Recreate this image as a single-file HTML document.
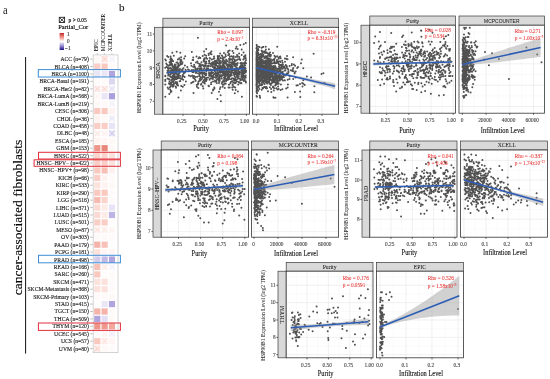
<!DOCTYPE html>
<html><head><meta charset="utf-8"><title>Figure</title>
<style>html,body{margin:0;padding:0;background:#fff;} svg{display:block;}</style>
</head><body>
<svg width="550" height="379" viewBox="0 0 550 379" style="will-change:transform">
<rect width="550" height="379" fill="#fff"/>
<text transform="translate(2.9 13.7) scale(0.88 1)" font-size="12" font-family="Liberation Serif, serif" fill="#1a1a1a">a</text>
<text x="118.90" y="10.90" font-size="11" text-anchor="start" font-family="'Liberation Serif', serif" fill="#1a1a1a" stroke="#1a1a1a" stroke-width="0.14">b</text>
<rect x="59.30" y="17.30" width="5.30" height="5.20" fill="#fff" stroke="#222" stroke-width="0.9"/>
<line x1="59.30" y1="17.30" x2="64.60" y2="22.50" stroke="#222" stroke-width="0.85"/>
<line x1="64.60" y1="17.30" x2="59.30" y2="22.50" stroke="#222" stroke-width="0.85"/>
<text x="68.60" y="22.20" font-size="5.5" text-anchor="start" font-family="'Liberation Serif', serif" fill="#000" stroke="#000" stroke-width="0.14">p &gt; 0.05</text>
<text x="58.20" y="29.00" font-size="6.5" text-anchor="start" font-family="'Liberation Serif', serif" fill="#000" stroke="#000" stroke-width="0.14">Partial_Cor</text>
<defs><linearGradient id="cb" x1="0" y1="0" x2="0" y2="1"><stop offset="0" stop-color="#c62a2a"/><stop offset="0.25" stop-color="#f0928a"/><stop offset="0.5" stop-color="#ffffff"/><stop offset="0.75" stop-color="#9a8fd0"/><stop offset="1" stop-color="#1e1480"/></linearGradient></defs>
<rect x="59.60" y="33.00" width="4.40" height="17.00" fill="url(#cb)" stroke="none" stroke-width="1"/>
<text x="67.00" y="36.00" font-size="5.2" text-anchor="start" font-family="'Liberation Serif', serif" fill="#333" stroke="#333" stroke-width="0.14">1</text>
<text x="67.00" y="42.70" font-size="5.2" text-anchor="start" font-family="'Liberation Serif', serif" fill="#333" stroke="#333" stroke-width="0.14">0</text>
<text x="65.00" y="49.60" font-size="5.2" text-anchor="start" font-family="'Liberation Serif', serif" fill="#333" stroke="#333" stroke-width="0.14">−1</text>
<text x="97.60" y="51.30" font-size="5.5" text-anchor="start" font-family="'Liberation Serif', serif" fill="#222" stroke="#222" stroke-width="0.06" transform="rotate(-90 97.60 51.30)">EPIC</text>
<text x="104.70" y="51.30" font-size="5.5" text-anchor="start" font-family="'Liberation Serif', serif" fill="#222" stroke="#222" stroke-width="0.06" transform="rotate(-90 104.70 51.30)">MCPCOUNTER</text>
<text x="112.00" y="51.30" font-size="5.5" text-anchor="start" font-family="'Liberation Serif', serif" fill="#222" stroke="#222" stroke-width="0.06" transform="rotate(-90 112.00 51.30)">XCELL</text>
<line x1="97.27" y1="53.20" x2="97.27" y2="54.90" stroke="#888" stroke-width="0.5"/>
<line x1="104.62" y1="53.20" x2="104.62" y2="54.90" stroke="#888" stroke-width="0.5"/>
<line x1="111.97" y1="53.20" x2="111.97" y2="54.90" stroke="#888" stroke-width="0.5"/>
<rect x="93.20" y="54.90" width="24.80" height="297.70" fill="#fff" stroke="#c8c8c8" stroke-width="0.8"/>
<rect x="94.20" y="56.00" width="6.15" height="6.22" fill="#fef8f6" stroke="none" stroke-width="1"/>
<rect x="101.55" y="56.00" width="6.15" height="6.22" fill="#fdeae7" stroke="none" stroke-width="1"/>
<line x1="101.75" y1="56.20" x2="107.50" y2="62.02" stroke="#f5b7ad" stroke-width="0.55"/>
<line x1="107.50" y1="56.20" x2="101.75" y2="62.02" stroke="#f5b7ad" stroke-width="0.55"/>
<rect x="108.90" y="56.00" width="6.15" height="6.22" fill="#faf9fd" stroke="none" stroke-width="1"/>
<line x1="109.10" y1="56.20" x2="114.85" y2="62.02" stroke="#eae6f6" stroke-width="0.55"/>
<line x1="114.85" y1="56.20" x2="109.10" y2="62.02" stroke="#eae6f6" stroke-width="0.55"/>
<text x="88.80" y="61.11" font-size="5.65" text-anchor="end" font-family="'Liberation Serif', serif" fill="#262626" stroke="#262626" stroke-width="0.14">ACC (n=79)</text>
<line x1="90.30" y1="59.11" x2="92.60" y2="59.11" stroke="#777" stroke-width="0.5"/>
<rect x="94.20" y="63.42" width="6.15" height="6.22" fill="#facec6" stroke="none" stroke-width="1"/>
<rect x="101.55" y="63.42" width="6.15" height="6.22" fill="#f9c9c0" stroke="none" stroke-width="1"/>
<rect x="108.90" y="63.42" width="6.15" height="6.22" fill="#fefaf9" stroke="none" stroke-width="1"/>
<text x="88.80" y="68.53" font-size="5.65" text-anchor="end" font-family="'Liberation Serif', serif" fill="#262626" stroke="#262626" stroke-width="0.14">BLCA (n=408)</text>
<line x1="90.30" y1="66.53" x2="92.60" y2="66.53" stroke="#777" stroke-width="0.5"/>
<rect x="94.20" y="70.85" width="6.15" height="6.22" fill="#eae6f6" stroke="none" stroke-width="1"/>
<rect x="101.55" y="70.85" width="6.15" height="6.22" fill="#eae6f6" stroke="none" stroke-width="1"/>
<rect x="108.90" y="70.85" width="6.15" height="6.22" fill="#afa4de" stroke="none" stroke-width="1"/>
<text x="88.80" y="75.96" font-size="5.65" text-anchor="end" font-family="'Liberation Serif', serif" fill="#262626" stroke="#262626" stroke-width="0.14">BRCA (n=1100)</text>
<line x1="90.30" y1="73.96" x2="92.60" y2="73.96" stroke="#777" stroke-width="0.5"/>
<rect x="94.20" y="78.27" width="6.15" height="6.22" fill="#fefaf9" stroke="none" stroke-width="1"/>
<rect x="101.55" y="78.27" width="6.15" height="6.22" fill="#fefaf9" stroke="none" stroke-width="1"/>
<rect x="108.90" y="78.27" width="6.15" height="6.22" fill="#dcd6f0" stroke="none" stroke-width="1"/>
<text x="88.80" y="83.38" font-size="5.65" text-anchor="end" font-family="'Liberation Serif', serif" fill="#262626" stroke="#262626" stroke-width="0.14">BRCA-Basal (n=191)</text>
<line x1="90.30" y1="81.38" x2="92.60" y2="81.38" stroke="#777" stroke-width="0.5"/>
<rect x="94.20" y="85.69" width="6.15" height="6.22" fill="#fdeeeb" stroke="none" stroke-width="1"/>
<line x1="94.40" y1="85.89" x2="100.15" y2="91.71" stroke="#f8c3bb" stroke-width="0.55"/>
<line x1="100.15" y1="85.89" x2="94.40" y2="91.71" stroke="#f8c3bb" stroke-width="0.55"/>
<rect x="101.55" y="85.69" width="6.15" height="6.22" fill="#fdeeeb" stroke="none" stroke-width="1"/>
<line x1="101.75" y1="85.89" x2="107.50" y2="91.71" stroke="#f8c3bb" stroke-width="0.55"/>
<line x1="107.50" y1="85.89" x2="101.75" y2="91.71" stroke="#f8c3bb" stroke-width="0.55"/>
<rect x="108.90" y="85.69" width="6.15" height="6.22" fill="#f3f1fa" stroke="none" stroke-width="1"/>
<line x1="109.10" y1="85.89" x2="114.85" y2="91.71" stroke="#d2cbec" stroke-width="0.55"/>
<line x1="114.85" y1="85.89" x2="109.10" y2="91.71" stroke="#d2cbec" stroke-width="0.55"/>
<text x="88.80" y="90.80" font-size="5.65" text-anchor="end" font-family="'Liberation Serif', serif" fill="#262626" stroke="#262626" stroke-width="0.14">BRCA-Her2 (n=82)</text>
<line x1="90.30" y1="88.80" x2="92.60" y2="88.80" stroke="#777" stroke-width="0.5"/>
<rect x="94.20" y="93.11" width="6.15" height="6.22" fill="#fefaf9" stroke="none" stroke-width="1"/>
<line x1="94.40" y1="93.31" x2="100.15" y2="99.14" stroke="#fce6e2" stroke-width="0.55"/>
<line x1="100.15" y1="93.31" x2="94.40" y2="99.14" stroke="#fce6e2" stroke-width="0.55"/>
<rect x="101.55" y="93.11" width="6.15" height="6.22" fill="#eae6f6" stroke="none" stroke-width="1"/>
<rect x="108.90" y="93.11" width="6.15" height="6.22" fill="#aa9edc" stroke="none" stroke-width="1"/>
<text x="88.80" y="98.23" font-size="5.65" text-anchor="end" font-family="'Liberation Serif', serif" fill="#262626" stroke="#262626" stroke-width="0.14">BRCA-LumA (n=568)</text>
<line x1="90.30" y1="96.23" x2="92.60" y2="96.23" stroke="#777" stroke-width="0.5"/>
<rect x="94.20" y="100.54" width="6.15" height="6.22" fill="#fef8f6" stroke="none" stroke-width="1"/>
<rect x="101.55" y="100.54" width="6.15" height="6.22" fill="#fef8f6" stroke="none" stroke-width="1"/>
<rect x="108.90" y="100.54" width="6.15" height="6.22" fill="#f9f8fc" stroke="none" stroke-width="1"/>
<line x1="109.10" y1="100.74" x2="114.85" y2="106.56" stroke="#eae6f6" stroke-width="0.55"/>
<line x1="114.85" y1="100.74" x2="109.10" y2="106.56" stroke="#eae6f6" stroke-width="0.55"/>
<text x="88.80" y="105.65" font-size="5.65" text-anchor="end" font-family="'Liberation Serif', serif" fill="#262626" stroke="#262626" stroke-width="0.14">BRCA-LumB (n=219)</text>
<line x1="90.30" y1="103.65" x2="92.60" y2="103.65" stroke="#777" stroke-width="0.5"/>
<rect x="94.20" y="107.96" width="6.15" height="6.22" fill="#f9c9c0" stroke="none" stroke-width="1"/>
<rect x="101.55" y="107.96" width="6.15" height="6.22" fill="#f9c9c0" stroke="none" stroke-width="1"/>
<rect x="108.90" y="107.96" width="6.15" height="6.22" fill="#fef3f1" stroke="none" stroke-width="1"/>
<text x="88.80" y="113.07" font-size="5.65" text-anchor="end" font-family="'Liberation Serif', serif" fill="#262626" stroke="#262626" stroke-width="0.14">CESC (n=306)</text>
<line x1="90.30" y1="111.07" x2="92.60" y2="111.07" stroke="#777" stroke-width="0.5"/>
<rect x="94.20" y="115.38" width="6.15" height="6.22" fill="#fef3f1" stroke="none" stroke-width="1"/>
<rect x="101.55" y="115.38" width="6.15" height="6.22" fill="#fef8f6" stroke="none" stroke-width="1"/>
<rect x="108.90" y="115.38" width="6.15" height="6.22" fill="#f5f4fb" stroke="none" stroke-width="1"/>
<line x1="109.10" y1="115.58" x2="114.85" y2="121.41" stroke="#ddd8f1" stroke-width="0.55"/>
<line x1="114.85" y1="115.58" x2="109.10" y2="121.41" stroke="#ddd8f1" stroke-width="0.55"/>
<text x="88.80" y="120.50" font-size="5.65" text-anchor="end" font-family="'Liberation Serif', serif" fill="#262626" stroke="#262626" stroke-width="0.14">CHOL (n=36)</text>
<line x1="90.30" y1="118.50" x2="92.60" y2="118.50" stroke="#777" stroke-width="0.5"/>
<rect x="94.20" y="122.81" width="6.15" height="6.22" fill="#facec6" stroke="none" stroke-width="1"/>
<rect x="101.55" y="122.81" width="6.15" height="6.22" fill="#facec6" stroke="none" stroke-width="1"/>
<rect x="108.90" y="122.81" width="6.15" height="6.22" fill="#e8e4f5" stroke="none" stroke-width="1"/>
<text x="88.80" y="127.92" font-size="5.65" text-anchor="end" font-family="'Liberation Serif', serif" fill="#262626" stroke="#262626" stroke-width="0.14">COAD (n=458)</text>
<line x1="90.30" y1="125.92" x2="92.60" y2="125.92" stroke="#777" stroke-width="0.5"/>
<rect x="94.20" y="130.23" width="6.15" height="6.22" fill="#fef5f3" stroke="none" stroke-width="1"/>
<line x1="94.40" y1="130.43" x2="100.15" y2="136.25" stroke="#fbdcd6" stroke-width="0.55"/>
<line x1="100.15" y1="130.43" x2="94.40" y2="136.25" stroke="#fbdcd6" stroke-width="0.55"/>
<rect x="101.55" y="130.23" width="6.15" height="6.22" fill="#fef8f7" stroke="none" stroke-width="1"/>
<line x1="101.75" y1="130.43" x2="107.50" y2="136.25" stroke="#fce6e2" stroke-width="0.55"/>
<line x1="107.50" y1="130.43" x2="101.75" y2="136.25" stroke="#fce6e2" stroke-width="0.55"/>
<rect x="108.90" y="130.23" width="6.15" height="6.22" fill="#ebe8f7" stroke="none" stroke-width="1"/>
<line x1="109.10" y1="130.43" x2="114.85" y2="136.25" stroke="#aea2de" stroke-width="0.55"/>
<line x1="114.85" y1="130.43" x2="109.10" y2="136.25" stroke="#aea2de" stroke-width="0.55"/>
<text x="88.80" y="135.34" font-size="5.65" text-anchor="end" font-family="'Liberation Serif', serif" fill="#262626" stroke="#262626" stroke-width="0.14">DLBC (n=48)</text>
<line x1="90.30" y1="133.34" x2="92.60" y2="133.34" stroke="#777" stroke-width="0.5"/>
<rect x="94.20" y="137.65" width="6.15" height="6.22" fill="#fef3f1" stroke="none" stroke-width="1"/>
<rect x="101.55" y="137.65" width="6.15" height="6.22" fill="#fef5f4" stroke="none" stroke-width="1"/>
<rect x="108.90" y="137.65" width="6.15" height="6.22" fill="#fef8f6" stroke="none" stroke-width="1"/>
<text x="88.80" y="142.76" font-size="5.65" text-anchor="end" font-family="'Liberation Serif', serif" fill="#262626" stroke="#262626" stroke-width="0.14">ESCA (n=185)</text>
<line x1="90.30" y1="140.76" x2="92.60" y2="140.76" stroke="#777" stroke-width="0.5"/>
<rect x="94.20" y="145.08" width="6.15" height="6.22" fill="#ee9488" stroke="none" stroke-width="1"/>
<rect x="101.55" y="145.08" width="6.15" height="6.22" fill="#e9877b" stroke="none" stroke-width="1"/>
<rect x="108.90" y="145.08" width="6.15" height="6.22" fill="#fef8f6" stroke="none" stroke-width="1"/>
<text x="88.80" y="150.19" font-size="5.65" text-anchor="end" font-family="'Liberation Serif', serif" fill="#262626" stroke="#262626" stroke-width="0.14">GBM (n=153)</text>
<line x1="90.30" y1="148.19" x2="92.60" y2="148.19" stroke="#777" stroke-width="0.5"/>
<rect x="94.20" y="152.50" width="6.15" height="6.22" fill="#fad3cc" stroke="none" stroke-width="1"/>
<rect x="101.55" y="152.50" width="6.15" height="6.22" fill="#fad3cc" stroke="none" stroke-width="1"/>
<rect x="108.90" y="152.50" width="6.15" height="6.22" fill="#fce2dd" stroke="none" stroke-width="1"/>
<text x="88.80" y="157.61" font-size="5.65" text-anchor="end" font-family="'Liberation Serif', serif" fill="#262626" stroke="#262626" stroke-width="0.14">HNSC (n=522)</text>
<line x1="90.30" y1="155.61" x2="92.60" y2="155.61" stroke="#777" stroke-width="0.5"/>
<rect x="94.20" y="159.92" width="6.15" height="6.22" fill="#facec6" stroke="none" stroke-width="1"/>
<rect x="101.55" y="159.92" width="6.15" height="6.22" fill="#facec6" stroke="none" stroke-width="1"/>
<rect x="108.90" y="159.92" width="6.15" height="6.22" fill="#fce2dd" stroke="none" stroke-width="1"/>
<text x="88.80" y="165.03" font-size="5.65" text-anchor="end" font-family="'Liberation Serif', serif" fill="#262626" stroke="#262626" stroke-width="0.14">HNSC−HPV− (n=422)</text>
<line x1="90.30" y1="163.03" x2="92.60" y2="163.03" stroke="#777" stroke-width="0.5"/>
<rect x="94.20" y="167.34" width="6.15" height="6.22" fill="#f9c9c0" stroke="none" stroke-width="1"/>
<rect x="101.55" y="167.34" width="6.15" height="6.22" fill="#f7c1b8" stroke="none" stroke-width="1"/>
<rect x="108.90" y="167.34" width="6.15" height="6.22" fill="#fef5f3" stroke="none" stroke-width="1"/>
<line x1="109.10" y1="167.54" x2="114.85" y2="173.37" stroke="#fbdcd6" stroke-width="0.55"/>
<line x1="114.85" y1="167.54" x2="109.10" y2="173.37" stroke="#fbdcd6" stroke-width="0.55"/>
<text x="88.80" y="172.46" font-size="5.65" text-anchor="end" font-family="'Liberation Serif', serif" fill="#262626" stroke="#262626" stroke-width="0.14">HNSC−HPV+ (n=98)</text>
<line x1="90.30" y1="170.46" x2="92.60" y2="170.46" stroke="#777" stroke-width="0.5"/>
<rect x="94.20" y="174.77" width="6.15" height="6.22" fill="#facec6" stroke="none" stroke-width="1"/>
<rect x="101.55" y="174.77" width="6.15" height="6.22" fill="#fef6f5" stroke="none" stroke-width="1"/>
<line x1="101.75" y1="174.97" x2="107.50" y2="180.79" stroke="#fce6e2" stroke-width="0.55"/>
<line x1="107.50" y1="174.97" x2="101.75" y2="180.79" stroke="#fce6e2" stroke-width="0.55"/>
<rect x="108.90" y="174.77" width="6.15" height="6.22" fill="#fefaf9" stroke="none" stroke-width="1"/>
<text x="88.80" y="179.88" font-size="5.65" text-anchor="end" font-family="'Liberation Serif', serif" fill="#262626" stroke="#262626" stroke-width="0.14">KICH (n=66)</text>
<line x1="90.30" y1="177.88" x2="92.60" y2="177.88" stroke="#777" stroke-width="0.5"/>
<rect x="94.20" y="182.19" width="6.15" height="6.22" fill="#fce2dd" stroke="none" stroke-width="1"/>
<rect x="101.55" y="182.19" width="6.15" height="6.22" fill="#fef3f1" stroke="none" stroke-width="1"/>
<rect x="108.90" y="182.19" width="6.15" height="6.22" fill="#fef8f6" stroke="none" stroke-width="1"/>
<text x="88.80" y="187.30" font-size="5.65" text-anchor="end" font-family="'Liberation Serif', serif" fill="#262626" stroke="#262626" stroke-width="0.14">KIRC (n=533)</text>
<line x1="90.30" y1="185.30" x2="92.60" y2="185.30" stroke="#777" stroke-width="0.5"/>
<rect x="94.20" y="189.61" width="6.15" height="6.22" fill="#f9c9c0" stroke="none" stroke-width="1"/>
<rect x="101.55" y="189.61" width="6.15" height="6.22" fill="#f9c9c0" stroke="none" stroke-width="1"/>
<rect x="108.90" y="189.61" width="6.15" height="6.22" fill="#fefaf9" stroke="none" stroke-width="1"/>
<text x="88.80" y="194.73" font-size="5.65" text-anchor="end" font-family="'Liberation Serif', serif" fill="#262626" stroke="#262626" stroke-width="0.14">KIRP (n=290)</text>
<line x1="90.30" y1="192.73" x2="92.60" y2="192.73" stroke="#777" stroke-width="0.5"/>
<rect x="94.20" y="197.04" width="6.15" height="6.22" fill="#f6b9b0" stroke="none" stroke-width="1"/>
<rect x="101.55" y="197.04" width="6.15" height="6.22" fill="#fad3cc" stroke="none" stroke-width="1"/>
<rect x="108.90" y="197.04" width="6.15" height="6.22" fill="#fefaf9" stroke="none" stroke-width="1"/>
<text x="88.80" y="202.15" font-size="5.65" text-anchor="end" font-family="'Liberation Serif', serif" fill="#262626" stroke="#262626" stroke-width="0.14">LGG (n=516)</text>
<line x1="90.30" y1="200.15" x2="92.60" y2="200.15" stroke="#777" stroke-width="0.5"/>
<rect x="94.20" y="204.46" width="6.15" height="6.22" fill="#fbdad4" stroke="none" stroke-width="1"/>
<rect x="101.55" y="204.46" width="6.15" height="6.22" fill="#fdebe8" stroke="none" stroke-width="1"/>
<rect x="108.90" y="204.46" width="6.15" height="6.22" fill="#e8e4f5" stroke="none" stroke-width="1"/>
<text x="88.80" y="209.57" font-size="5.65" text-anchor="end" font-family="'Liberation Serif', serif" fill="#262626" stroke="#262626" stroke-width="0.14">LIHC (n=371)</text>
<line x1="90.30" y1="207.57" x2="92.60" y2="207.57" stroke="#777" stroke-width="0.5"/>
<rect x="94.20" y="211.88" width="6.15" height="6.22" fill="#fbdad4" stroke="none" stroke-width="1"/>
<rect x="101.55" y="211.88" width="6.15" height="6.22" fill="#fdebe8" stroke="none" stroke-width="1"/>
<rect x="108.90" y="211.88" width="6.15" height="6.22" fill="#beb4e4" stroke="none" stroke-width="1"/>
<text x="88.80" y="216.99" font-size="5.65" text-anchor="end" font-family="'Liberation Serif', serif" fill="#262626" stroke="#262626" stroke-width="0.14">LUAD (n=515)</text>
<line x1="90.30" y1="214.99" x2="92.60" y2="214.99" stroke="#777" stroke-width="0.5"/>
<rect x="94.20" y="219.31" width="6.15" height="6.22" fill="#facec6" stroke="none" stroke-width="1"/>
<rect x="101.55" y="219.31" width="6.15" height="6.22" fill="#facec6" stroke="none" stroke-width="1"/>
<rect x="108.90" y="219.31" width="6.15" height="6.22" fill="#fffdfc" stroke="none" stroke-width="1"/>
<text x="88.80" y="224.42" font-size="5.65" text-anchor="end" font-family="'Liberation Serif', serif" fill="#262626" stroke="#262626" stroke-width="0.14">LUSC (n=501)</text>
<line x1="90.30" y1="222.42" x2="92.60" y2="222.42" stroke="#777" stroke-width="0.5"/>
<rect x="94.20" y="226.73" width="6.15" height="6.22" fill="#fef1ef" stroke="none" stroke-width="1"/>
<line x1="94.40" y1="226.93" x2="100.15" y2="232.75" stroke="#fad0c8" stroke-width="0.55"/>
<line x1="100.15" y1="226.93" x2="94.40" y2="232.75" stroke="#fad0c8" stroke-width="0.55"/>
<rect x="101.55" y="226.73" width="6.15" height="6.22" fill="#fef5f3" stroke="none" stroke-width="1"/>
<line x1="101.75" y1="226.93" x2="107.50" y2="232.75" stroke="#fbdcd6" stroke-width="0.55"/>
<line x1="107.50" y1="226.93" x2="101.75" y2="232.75" stroke="#fbdcd6" stroke-width="0.55"/>
<rect x="108.90" y="226.73" width="6.15" height="6.22" fill="#fefaf9" stroke="none" stroke-width="1"/>
<line x1="109.10" y1="226.93" x2="114.85" y2="232.75" stroke="#fce6e2" stroke-width="0.55"/>
<line x1="114.85" y1="226.93" x2="109.10" y2="232.75" stroke="#fce6e2" stroke-width="0.55"/>
<text x="88.80" y="231.84" font-size="5.65" text-anchor="end" font-family="'Liberation Serif', serif" fill="#262626" stroke="#262626" stroke-width="0.14">MESO (n=87)</text>
<line x1="90.30" y1="229.84" x2="92.60" y2="229.84" stroke="#777" stroke-width="0.5"/>
<rect x="94.20" y="234.15" width="6.15" height="6.22" fill="#fefaf9" stroke="none" stroke-width="1"/>
<rect x="101.55" y="234.15" width="6.15" height="6.22" fill="#fefaf9" stroke="none" stroke-width="1"/>
<rect x="108.90" y="234.15" width="6.15" height="6.22" fill="#fefaf9" stroke="none" stroke-width="1"/>
<text x="88.80" y="239.26" font-size="5.65" text-anchor="end" font-family="'Liberation Serif', serif" fill="#262626" stroke="#262626" stroke-width="0.14">OV (n=303)</text>
<line x1="90.30" y1="237.26" x2="92.60" y2="237.26" stroke="#777" stroke-width="0.5"/>
<rect x="94.20" y="241.57" width="6.15" height="6.22" fill="#f4b4aa" stroke="none" stroke-width="1"/>
<rect x="101.55" y="241.57" width="6.15" height="6.22" fill="#f7c1b8" stroke="none" stroke-width="1"/>
<rect x="108.90" y="241.57" width="6.15" height="6.22" fill="#fffdfc" stroke="none" stroke-width="1"/>
<text x="88.80" y="246.69" font-size="5.65" text-anchor="end" font-family="'Liberation Serif', serif" fill="#262626" stroke="#262626" stroke-width="0.14">PAAD (n=179)</text>
<line x1="90.30" y1="244.69" x2="92.60" y2="244.69" stroke="#777" stroke-width="0.5"/>
<rect x="94.20" y="249.00" width="6.15" height="6.22" fill="#fce2dd" stroke="none" stroke-width="1"/>
<rect x="101.55" y="249.00" width="6.15" height="6.22" fill="#fef5f4" stroke="none" stroke-width="1"/>
<rect x="108.90" y="249.00" width="6.15" height="6.22" fill="#fef5f4" stroke="none" stroke-width="1"/>
<text x="88.80" y="254.11" font-size="5.65" text-anchor="end" font-family="'Liberation Serif', serif" fill="#262626" stroke="#262626" stroke-width="0.14">PCPG (n=181)</text>
<line x1="90.30" y1="252.11" x2="92.60" y2="252.11" stroke="#777" stroke-width="0.5"/>
<rect x="94.20" y="256.42" width="6.15" height="6.22" fill="#d2cbec" stroke="none" stroke-width="1"/>
<rect x="101.55" y="256.42" width="6.15" height="6.22" fill="#c3bae6" stroke="none" stroke-width="1"/>
<rect x="108.90" y="256.42" width="6.15" height="6.22" fill="#afa4de" stroke="none" stroke-width="1"/>
<text x="88.80" y="261.53" font-size="5.65" text-anchor="end" font-family="'Liberation Serif', serif" fill="#262626" stroke="#262626" stroke-width="0.14">PRAD (n=498)</text>
<line x1="90.30" y1="259.53" x2="92.60" y2="259.53" stroke="#777" stroke-width="0.5"/>
<rect x="94.20" y="263.84" width="6.15" height="6.22" fill="#f7c1b8" stroke="none" stroke-width="1"/>
<rect x="101.55" y="263.84" width="6.15" height="6.22" fill="#fef5f3" stroke="none" stroke-width="1"/>
<line x1="101.75" y1="264.04" x2="107.50" y2="269.87" stroke="#fbdcd6" stroke-width="0.55"/>
<line x1="107.50" y1="264.04" x2="101.75" y2="269.87" stroke="#fbdcd6" stroke-width="0.55"/>
<rect x="108.90" y="263.84" width="6.15" height="6.22" fill="#faf9fd" stroke="none" stroke-width="1"/>
<line x1="109.10" y1="264.04" x2="114.85" y2="269.87" stroke="#eae6f6" stroke-width="0.55"/>
<line x1="114.85" y1="264.04" x2="109.10" y2="269.87" stroke="#eae6f6" stroke-width="0.55"/>
<text x="88.80" y="268.96" font-size="5.65" text-anchor="end" font-family="'Liberation Serif', serif" fill="#262626" stroke="#262626" stroke-width="0.14">READ (n=166)</text>
<line x1="90.30" y1="266.96" x2="92.60" y2="266.96" stroke="#777" stroke-width="0.5"/>
<rect x="94.20" y="271.27" width="6.15" height="6.22" fill="#f9c9c0" stroke="none" stroke-width="1"/>
<rect x="101.55" y="271.27" width="6.15" height="6.22" fill="#fffdfc" stroke="none" stroke-width="1"/>
<rect x="108.90" y="271.27" width="6.15" height="6.22" fill="#fefaf9" stroke="none" stroke-width="1"/>
<text x="88.80" y="276.38" font-size="5.65" text-anchor="end" font-family="'Liberation Serif', serif" fill="#262626" stroke="#262626" stroke-width="0.14">SARC (n=260)</text>
<line x1="90.30" y1="274.38" x2="92.60" y2="274.38" stroke="#777" stroke-width="0.5"/>
<rect x="94.20" y="278.69" width="6.15" height="6.22" fill="#fce2dd" stroke="none" stroke-width="1"/>
<rect x="101.55" y="278.69" width="6.15" height="6.22" fill="#fce2dd" stroke="none" stroke-width="1"/>
<rect x="108.90" y="278.69" width="6.15" height="6.22" fill="#fefaf9" stroke="none" stroke-width="1"/>
<text x="88.80" y="283.80" font-size="5.65" text-anchor="end" font-family="'Liberation Serif', serif" fill="#262626" stroke="#262626" stroke-width="0.14">SKCM (n=471)</text>
<line x1="90.30" y1="281.80" x2="92.60" y2="281.80" stroke="#777" stroke-width="0.5"/>
<rect x="94.20" y="286.11" width="6.15" height="6.22" fill="#fce2dd" stroke="none" stroke-width="1"/>
<rect x="101.55" y="286.11" width="6.15" height="6.22" fill="#fce2dd" stroke="none" stroke-width="1"/>
<rect x="108.90" y="286.11" width="6.15" height="6.22" fill="#fefaf9" stroke="none" stroke-width="1"/>
<text x="88.80" y="291.22" font-size="5.65" text-anchor="end" font-family="'Liberation Serif', serif" fill="#262626" stroke="#262626" stroke-width="0.14">SKCM-Metastasis (n=368)</text>
<line x1="90.30" y1="289.22" x2="92.60" y2="289.22" stroke="#777" stroke-width="0.5"/>
<rect x="94.20" y="293.54" width="6.15" height="6.22" fill="#fefaf9" stroke="none" stroke-width="1"/>
<rect x="101.55" y="293.54" width="6.15" height="6.22" fill="#fefaf9" stroke="none" stroke-width="1"/>
<rect x="108.90" y="293.54" width="6.15" height="6.22" fill="#fef8f6" stroke="none" stroke-width="1"/>
<text x="88.80" y="298.65" font-size="5.65" text-anchor="end" font-family="'Liberation Serif', serif" fill="#262626" stroke="#262626" stroke-width="0.14">SKCM-Primary (n=103)</text>
<line x1="90.30" y1="296.65" x2="92.60" y2="296.65" stroke="#777" stroke-width="0.5"/>
<rect x="94.20" y="300.96" width="6.15" height="6.22" fill="#fffdfc" stroke="none" stroke-width="1"/>
<rect x="101.55" y="300.96" width="6.15" height="6.22" fill="#eae6f6" stroke="none" stroke-width="1"/>
<rect x="108.90" y="300.96" width="6.15" height="6.22" fill="#afa4de" stroke="none" stroke-width="1"/>
<text x="88.80" y="306.07" font-size="5.65" text-anchor="end" font-family="'Liberation Serif', serif" fill="#262626" stroke="#262626" stroke-width="0.14">STAD (n=415)</text>
<line x1="90.30" y1="304.07" x2="92.60" y2="304.07" stroke="#777" stroke-width="0.5"/>
<rect x="94.20" y="308.38" width="6.15" height="6.22" fill="#f4b4aa" stroke="none" stroke-width="1"/>
<rect x="101.55" y="308.38" width="6.15" height="6.22" fill="#f4b4aa" stroke="none" stroke-width="1"/>
<rect x="108.90" y="308.38" width="6.15" height="6.22" fill="#fefaf9" stroke="none" stroke-width="1"/>
<text x="88.80" y="313.49" font-size="5.65" text-anchor="end" font-family="'Liberation Serif', serif" fill="#262626" stroke="#262626" stroke-width="0.14">TGCT (n=150)</text>
<line x1="90.30" y1="311.49" x2="92.60" y2="311.49" stroke="#777" stroke-width="0.5"/>
<rect x="94.20" y="315.81" width="6.15" height="6.22" fill="#afa4de" stroke="none" stroke-width="1"/>
<rect x="101.55" y="315.81" width="6.15" height="6.22" fill="#e3def3" stroke="none" stroke-width="1"/>
<rect x="108.90" y="315.81" width="6.15" height="6.22" fill="#fef8f6" stroke="none" stroke-width="1"/>
<text x="88.80" y="320.92" font-size="5.65" text-anchor="end" font-family="'Liberation Serif', serif" fill="#262626" stroke="#262626" stroke-width="0.14">THCA (n=509)</text>
<line x1="90.30" y1="318.92" x2="92.60" y2="318.92" stroke="#777" stroke-width="0.5"/>
<rect x="94.20" y="323.23" width="6.15" height="6.22" fill="#ee9488" stroke="none" stroke-width="1"/>
<rect x="101.55" y="323.23" width="6.15" height="6.22" fill="#ef998e" stroke="none" stroke-width="1"/>
<rect x="108.90" y="323.23" width="6.15" height="6.22" fill="#f2a69c" stroke="none" stroke-width="1"/>
<text x="88.80" y="328.34" font-size="5.65" text-anchor="end" font-family="'Liberation Serif', serif" fill="#262626" stroke="#262626" stroke-width="0.14">THYM (n=120)</text>
<line x1="90.30" y1="326.34" x2="92.60" y2="326.34" stroke="#777" stroke-width="0.5"/>
<rect x="94.20" y="330.65" width="6.15" height="6.22" fill="#fefaf9" stroke="none" stroke-width="1"/>
<rect x="101.55" y="330.65" width="6.15" height="6.22" fill="#fefaf9" stroke="none" stroke-width="1"/>
<line x1="101.75" y1="330.85" x2="107.50" y2="336.67" stroke="#fce6e2" stroke-width="0.55"/>
<line x1="107.50" y1="330.85" x2="101.75" y2="336.67" stroke="#fce6e2" stroke-width="0.55"/>
<rect x="108.90" y="330.65" width="6.15" height="6.22" fill="#f8f6fc" stroke="none" stroke-width="1"/>
<line x1="109.10" y1="330.85" x2="114.85" y2="336.67" stroke="#e6e1f4" stroke-width="0.55"/>
<line x1="114.85" y1="330.85" x2="109.10" y2="336.67" stroke="#e6e1f4" stroke-width="0.55"/>
<text x="88.80" y="335.76" font-size="5.65" text-anchor="end" font-family="'Liberation Serif', serif" fill="#262626" stroke="#262626" stroke-width="0.14">UCEC (n=545)</text>
<line x1="90.30" y1="333.76" x2="92.60" y2="333.76" stroke="#777" stroke-width="0.5"/>
<rect x="94.20" y="338.07" width="6.15" height="6.22" fill="#f9c9c0" stroke="none" stroke-width="1"/>
<rect x="101.55" y="338.07" width="6.15" height="6.22" fill="#fef1ef" stroke="none" stroke-width="1"/>
<line x1="101.75" y1="338.27" x2="107.50" y2="344.10" stroke="#fad0c8" stroke-width="0.55"/>
<line x1="107.50" y1="338.27" x2="101.75" y2="344.10" stroke="#fad0c8" stroke-width="0.55"/>
<rect x="108.90" y="338.07" width="6.15" height="6.22" fill="#fef5f4" stroke="none" stroke-width="1"/>
<text x="88.80" y="343.19" font-size="5.65" text-anchor="end" font-family="'Liberation Serif', serif" fill="#262626" stroke="#262626" stroke-width="0.14">UCS (n=57)</text>
<line x1="90.30" y1="341.19" x2="92.60" y2="341.19" stroke="#777" stroke-width="0.5"/>
<rect x="94.20" y="345.50" width="6.15" height="6.22" fill="#fdeae7" stroke="none" stroke-width="1"/>
<line x1="94.40" y1="345.70" x2="100.15" y2="351.52" stroke="#f5b7ad" stroke-width="0.55"/>
<line x1="100.15" y1="345.70" x2="94.40" y2="351.52" stroke="#f5b7ad" stroke-width="0.55"/>
<rect x="101.55" y="345.50" width="6.15" height="6.22" fill="#fef8f6" stroke="none" stroke-width="1"/>
<rect x="108.90" y="345.50" width="6.15" height="6.22" fill="#fefaf9" stroke="none" stroke-width="1"/>
<text x="88.80" y="350.61" font-size="5.65" text-anchor="end" font-family="'Liberation Serif', serif" fill="#262626" stroke="#262626" stroke-width="0.14">UVM (n=80)</text>
<line x1="90.30" y1="348.61" x2="92.60" y2="348.61" stroke="#777" stroke-width="0.5"/>
<line x1="25.60" y1="57.00" x2="25.60" y2="353.60" stroke="#111" stroke-width="1.0"/>
<text x="22.30" y="217.50" font-size="13.5" text-anchor="middle" font-family="'Liberation Serif', serif" fill="#000" stroke="#000" stroke-width="0.14" transform="rotate(-90 22.30 217.50)">cancer-associated fibroblasts</text>
<rect x="38.30" y="69.60" width="82.10" height="7.40" fill="none" stroke="#3d8ed6" stroke-width="1.0"/>
<rect x="38.50" y="152.30" width="81.90" height="6.70" fill="none" stroke="#e0303a" stroke-width="1.0"/>
<rect x="34.10" y="159.80" width="86.30" height="6.50" fill="none" stroke="#e0303a" stroke-width="1.0"/>
<rect x="38.50" y="255.30" width="81.90" height="7.50" fill="none" stroke="#3d8ed6" stroke-width="1.0"/>
<rect x="38.40" y="323.00" width="82.00" height="7.40" fill="none" stroke="#e0303a" stroke-width="1.0"/>
<text x="140.60" y="67.70" font-size="5.6" text-anchor="middle" font-family="'Liberation Serif', serif" fill="#333" stroke="#333" stroke-width="0.05" transform="rotate(-90 140.60 67.70)">HSP90B1 Expression Level (log2 TPM)</text>
<line x1="152.80" y1="101.30" x2="154.40" y2="101.30" stroke="#333" stroke-width="0.8"/>
<text x="152.00" y="103.10" font-size="5.2" text-anchor="end" font-family="'Liberation Serif', serif" fill="#4d4d4d" stroke="#4d4d4d" stroke-width="0.14">7</text>
<line x1="152.80" y1="84.50" x2="154.40" y2="84.50" stroke="#333" stroke-width="0.8"/>
<text x="152.00" y="86.30" font-size="5.2" text-anchor="end" font-family="'Liberation Serif', serif" fill="#4d4d4d" stroke="#4d4d4d" stroke-width="0.14">8</text>
<line x1="152.80" y1="67.70" x2="154.40" y2="67.70" stroke="#333" stroke-width="0.8"/>
<text x="152.00" y="69.50" font-size="5.2" text-anchor="end" font-family="'Liberation Serif', serif" fill="#4d4d4d" stroke="#4d4d4d" stroke-width="0.14">9</text>
<line x1="152.80" y1="50.90" x2="154.40" y2="50.90" stroke="#333" stroke-width="0.8"/>
<text x="152.00" y="52.70" font-size="5.2" text-anchor="end" font-family="'Liberation Serif', serif" fill="#4d4d4d" stroke="#4d4d4d" stroke-width="0.14">10</text>
<line x1="152.80" y1="34.10" x2="154.40" y2="34.10" stroke="#333" stroke-width="0.8"/>
<text x="152.00" y="35.90" font-size="5.2" text-anchor="end" font-family="'Liberation Serif', serif" fill="#4d4d4d" stroke="#4d4d4d" stroke-width="0.14">11</text>
<rect x="154.40" y="27.30" width="8.50" height="86.90" fill="#d9d9d9" stroke="#3a3a3a" stroke-width="0.7"/>
<text x="160.45" y="70.75" font-size="5.8" text-anchor="middle" font-family="'Liberation Sans', sans-serif" fill="#1a1a1a" stroke="#1a1a1a" stroke-width="0.04" transform="rotate(-90 160.45 70.75)">BRCA</text>
<rect x="162.90" y="18.20" width="86.60" height="9.10" fill="#d9d9d9" stroke="#3a3a3a" stroke-width="0.7"/>
<text x="206.20" y="24.65" font-size="5.7" text-anchor="middle" font-family="'Liberation Serif', serif" fill="#1a1a1a" stroke="#1a1a1a" stroke-width="0.04">Purity</text>
<rect x="162.90" y="27.30" width="86.60" height="86.90" fill="#fff" stroke="none" stroke-width="1"/>
<clipPath id="cp10"><rect x="162.90" y="27.30" width="86.60" height="86.90"/></clipPath>
<g clip-path="url(#cp10)">
<line x1="172.46" y1="27.30" x2="172.46" y2="114.20" stroke="#f2f2f2" stroke-width="0.4"/>
<line x1="193.59" y1="27.30" x2="193.59" y2="114.20" stroke="#f2f2f2" stroke-width="0.4"/>
<line x1="214.71" y1="27.30" x2="214.71" y2="114.20" stroke="#f2f2f2" stroke-width="0.4"/>
<line x1="235.84" y1="27.30" x2="235.84" y2="114.20" stroke="#f2f2f2" stroke-width="0.4"/>
<line x1="162.90" y1="92.90" x2="249.50" y2="92.90" stroke="#f2f2f2" stroke-width="0.4"/>
<line x1="162.90" y1="76.10" x2="249.50" y2="76.10" stroke="#f2f2f2" stroke-width="0.4"/>
<line x1="162.90" y1="59.30" x2="249.50" y2="59.30" stroke="#f2f2f2" stroke-width="0.4"/>
<line x1="162.90" y1="42.50" x2="249.50" y2="42.50" stroke="#f2f2f2" stroke-width="0.4"/>
<line x1="162.90" y1="109.70" x2="249.50" y2="109.70" stroke="#f2f2f2" stroke-width="0.4"/>
<line x1="162.90" y1="25.70" x2="249.50" y2="25.70" stroke="#f2f2f2" stroke-width="0.4"/>
<line x1="183.03" y1="27.30" x2="183.03" y2="114.20" stroke="#e6e6e6" stroke-width="0.6"/>
<line x1="204.15" y1="27.30" x2="204.15" y2="114.20" stroke="#e6e6e6" stroke-width="0.6"/>
<line x1="225.28" y1="27.30" x2="225.28" y2="114.20" stroke="#e6e6e6" stroke-width="0.6"/>
<line x1="246.40" y1="27.30" x2="246.40" y2="114.20" stroke="#e6e6e6" stroke-width="0.6"/>
<line x1="162.90" y1="101.30" x2="249.50" y2="101.30" stroke="#e6e6e6" stroke-width="0.6"/>
<line x1="162.90" y1="84.50" x2="249.50" y2="84.50" stroke="#e6e6e6" stroke-width="0.6"/>
<line x1="162.90" y1="67.70" x2="249.50" y2="67.70" stroke="#e6e6e6" stroke-width="0.6"/>
<line x1="162.90" y1="50.90" x2="249.50" y2="50.90" stroke="#e6e6e6" stroke-width="0.6"/>
<line x1="162.90" y1="34.10" x2="249.50" y2="34.10" stroke="#e6e6e6" stroke-width="0.6"/>
<path d="M194.7 66.5h0M241.7 55.0h0M230.6 73.9h0M235.3 60.8h0M232.3 67.9h0M198.2 70.9h0M180.3 52.8h0M232.2 87.4h0M193.2 76.9h0M223.7 84.8h0M213.1 72.5h0M244.6 69.9h0M197.9 37.7h0M234.6 65.5h0M233.5 53.0h0M244.2 56.7h0M231.1 72.5h0M234.3 64.4h0M229.2 54.4h0M224.5 83.5h0M176.1 70.2h0M187.3 67.0h0M236.9 81.4h0M175.7 79.0h0M173.5 69.2h0M236.7 63.7h0M228.6 76.8h0M245.3 70.7h0M226.6 70.1h0M243.0 69.3h0M223.6 63.2h0M241.5 67.2h0M174.3 70.7h0M170.0 84.6h0M221.7 78.4h0M179.9 69.0h0M233.3 82.4h0M177.1 69.6h0M210.5 75.7h0M174.9 79.1h0M206.1 55.8h0M213.1 75.7h0M241.5 75.6h0M242.0 73.9h0M207.7 69.6h0M243.7 44.2h0M170.8 90.7h0M208.3 70.3h0M199.8 72.7h0M229.5 60.6h0M217.7 72.8h0M235.7 89.9h0M170.6 60.9h0M206.8 79.7h0M245.2 68.5h0M165.3 84.6h0M228.3 78.5h0M205.7 74.6h0M215.6 62.3h0M212.4 62.6h0M233.7 73.8h0M226.6 64.7h0M242.0 71.4h0M174.6 71.2h0M199.7 69.3h0M213.6 64.5h0M231.1 74.2h0M175.3 73.3h0M213.9 68.0h0M177.7 71.2h0M200.9 77.6h0M239.1 53.4h0M239.9 72.3h0M231.0 62.3h0M174.3 70.5h0M211.8 59.4h0M214.4 88.8h0M232.5 51.0h0M217.3 71.5h0M173.7 83.0h0M176.8 71.0h0M237.7 48.9h0M207.5 65.9h0M170.4 83.2h0M209.7 74.2h0M214.1 58.3h0M235.5 80.8h0M243.2 69.7h0M203.1 73.1h0M241.7 49.4h0M174.7 74.8h0M217.8 58.3h0M210.0 76.0h0M221.4 76.4h0M232.2 60.1h0M202.7 65.2h0M182.8 86.8h0M224.0 63.7h0M172.9 66.8h0M175.7 77.5h0M228.1 67.1h0M213.8 67.6h0M238.6 72.7h0M237.5 73.6h0M195.7 80.7h0M204.0 72.9h0M202.7 82.1h0M222.6 69.8h0M230.9 81.9h0M207.3 69.7h0M229.3 69.7h0M241.9 96.7h0M172.1 65.0h0M227.8 52.3h0M180.5 60.4h0M226.1 81.0h0M192.6 60.1h0M173.8 83.8h0M226.0 69.7h0M242.4 73.4h0M167.6 72.7h0M245.3 56.0h0M200.2 66.0h0M239.0 72.0h0M238.6 74.3h0M228.8 72.7h0M174.5 67.2h0M210.8 53.9h0M179.6 81.2h0M215.8 69.8h0M212.1 73.4h0M229.7 87.5h0M231.1 65.5h0M235.8 63.9h0M204.2 82.8h0M219.9 88.9h0M245.4 57.7h0M241.4 65.5h0M208.8 65.7h0M222.9 73.7h0M235.1 72.0h0M212.5 66.0h0M239.9 72.7h0M228.8 78.7h0M207.1 70.3h0M219.0 83.0h0M172.8 81.3h0M234.5 59.6h0M220.6 63.5h0M243.3 75.7h0M225.1 69.2h0M209.8 70.5h0M222.7 63.9h0M220.5 63.8h0M233.7 80.0h0M243.0 79.9h0M204.0 61.6h0M220.1 68.6h0M176.2 68.6h0M172.6 69.5h0M179.2 58.8h0M235.2 79.1h0M231.8 59.4h0M181.9 78.9h0M232.4 62.5h0M210.0 58.6h0M215.1 81.8h0M237.2 65.1h0M227.3 71.5h0M200.9 73.2h0M241.4 67.9h0M205.9 79.5h0M223.9 77.7h0M175.6 66.5h0M180.6 64.6h0M190.6 76.2h0M198.0 83.5h0M235.8 48.6h0M197.4 61.4h0M168.3 69.5h0M228.6 78.0h0M228.1 74.1h0M215.2 67.8h0M237.0 76.8h0M217.7 55.9h0M169.9 71.4h0M175.5 68.8h0M178.5 97.5h0M245.5 75.9h0M219.9 76.4h0M174.1 69.9h0M198.0 73.2h0M171.0 86.2h0M221.9 66.7h0M174.3 70.4h0M245.3 55.3h0M178.2 73.8h0M212.3 78.8h0M239.7 68.5h0M200.3 58.1h0M194.0 75.9h0M222.5 69.0h0M206.1 73.5h0M177.5 68.6h0M195.8 68.8h0M176.7 79.1h0M226.4 71.2h0M214.2 61.8h0M209.4 60.8h0M167.0 64.8h0M217.4 62.3h0M208.9 73.1h0M182.6 74.9h0M235.0 60.7h0M238.1 78.6h0M192.6 71.7h0M238.2 84.4h0M225.0 72.5h0M174.1 78.4h0M226.7 79.5h0M204.6 65.5h0M175.5 78.5h0M238.6 71.6h0M215.2 72.1h0M231.8 75.2h0M165.9 60.6h0M218.4 73.9h0M242.5 66.5h0M236.4 79.8h0M235.0 72.7h0M242.6 71.0h0M210.5 72.8h0M226.5 74.2h0M236.6 67.3h0M171.5 59.1h0M177.7 77.3h0M233.5 69.9h0M165.3 76.2h0M236.5 46.8h0M228.2 55.2h0M240.7 63.5h0M218.9 63.6h0M222.8 75.5h0M215.0 71.2h0M181.8 70.0h0M218.2 68.6h0M174.7 79.6h0M217.7 76.4h0M193.2 66.7h0M242.2 65.5h0M203.3 88.6h0M203.4 69.8h0M181.0 61.0h0M215.9 75.3h0M220.7 72.3h0M232.1 81.3h0M168.3 65.5h0M209.6 79.7h0M206.1 81.1h0M242.2 70.9h0M176.7 51.8h0M244.1 73.3h0M170.7 83.3h0M168.0 68.7h0M174.9 70.3h0M171.0 58.3h0M241.8 79.1h0M245.8 81.7h0M221.6 72.1h0M224.2 66.0h0M212.9 66.9h0M166.3 63.5h0M204.6 83.3h0M241.9 75.3h0M231.2 70.0h0M214.2 62.7h0M171.1 68.4h0M228.6 72.6h0M218.1 78.4h0M222.3 61.8h0M236.2 60.4h0M240.3 45.1h0M168.7 74.1h0M221.9 55.5h0M239.8 78.7h0M176.1 76.8h0M202.9 76.4h0M204.8 74.4h0M212.4 77.5h0M241.5 72.9h0M171.3 72.9h0M177.7 75.9h0M214.8 64.2h0M237.3 69.2h0M212.3 70.0h0M237.6 55.9h0M220.3 66.8h0M221.9 68.1h0M229.5 69.1h0M224.9 68.7h0M192.6 82.2h0M165.3 79.7h0M222.9 59.6h0M199.3 57.3h0M218.6 59.7h0M188.9 75.6h0M198.0 84.5h0M246.0 71.7h0M168.7 79.3h0M234.4 61.6h0M219.5 71.1h0M228.0 71.7h0M231.9 68.3h0M242.0 74.0h0M216.8 60.6h0M212.6 62.2h0M204.7 81.8h0M245.1 65.6h0M182.5 76.5h0M210.8 78.2h0M232.7 84.6h0M173.7 85.7h0M222.4 65.8h0M227.7 72.4h0M200.6 68.3h0M169.5 81.6h0M173.7 75.0h0M232.0 71.1h0M184.4 84.9h0M181.2 86.1h0M223.9 65.5h0M221.4 68.2h0M242.8 76.2h0M172.9 73.2h0M224.4 63.6h0M168.3 56.9h0M234.7 76.3h0M167.9 67.4h0M228.4 50.9h0M182.9 71.2h0M231.6 56.3h0M219.0 91.7h0M229.9 56.5h0M235.8 68.7h0M168.3 88.7h0M220.7 62.8h0M243.9 59.1h0M217.9 59.3h0M206.9 77.7h0M213.9 70.1h0M200.7 77.1h0M178.6 75.9h0M176.1 72.4h0M231.0 65.4h0M177.7 76.2h0M171.6 72.0h0M234.5 61.2h0M200.9 67.9h0M172.3 52.7h0M229.6 50.5h0M242.8 78.0h0M210.8 74.9h0M244.7 79.3h0M227.0 79.1h0M205.6 65.7h0M237.2 77.0h0M212.9 78.9h0M224.5 71.6h0M199.7 63.9h0M178.9 75.0h0M172.8 75.4h0M182.0 63.9h0M207.3 66.2h0M230.2 65.0h0M198.1 63.2h0M238.2 77.1h0M188.0 69.6h0M236.8 74.0h0M240.1 59.5h0M233.0 61.8h0M173.5 81.3h0M222.9 57.9h0M199.7 80.8h0M171.1 62.4h0M225.0 67.5h0M216.2 77.2h0M243.4 77.7h0M243.7 70.7h0M236.6 68.7h0M234.0 74.8h0M235.4 63.8h0M235.9 80.6h0M237.9 91.6h0M245.2 68.0h0M209.0 86.3h0M177.3 69.4h0M223.3 80.2h0M169.3 94.0h0M217.2 75.0h0M238.7 69.7h0M245.9 60.2h0M243.0 72.3h0M177.9 59.4h0M206.3 58.0h0M170.0 63.1h0M243.9 56.7h0M221.2 66.5h0M227.3 73.9h0M231.7 63.3h0M236.5 60.2h0M206.5 68.3h0M211.7 72.1h0M238.7 81.9h0M232.1 78.2h0M222.4 66.4h0M225.4 80.4h0M243.6 67.3h0M226.2 62.9h0M220.1 70.5h0M173.6 74.9h0M199.8 64.2h0M222.2 82.1h0M177.1 74.7h0M204.9 66.3h0M178.6 64.1h0M204.6 58.3h0M232.6 85.3h0M199.7 79.0h0M218.5 63.5h0M229.7 58.4h0M196.5 56.4h0M183.2 79.8h0M236.4 71.8h0M228.8 78.1h0M209.4 63.1h0M171.2 83.9h0M233.2 58.5h0M205.5 62.3h0M232.5 72.6h0M171.4 91.2h0M197.3 76.7h0M229.1 62.5h0M176.9 84.3h0M196.0 73.0h0M184.9 72.5h0M224.7 61.6h0M223.6 66.9h0M219.2 67.2h0M238.0 72.3h0M219.9 69.5h0M223.7 70.5h0M215.3 63.5h0M196.1 72.5h0M226.7 60.2h0M217.4 99.1h0M229.0 58.7h0M222.2 70.9h0M203.6 60.8h0M231.9 68.1h0M225.5 61.8h0M225.8 56.3h0M237.6 73.3h0M224.6 68.6h0M219.7 71.0h0M231.0 67.1h0M201.0 84.7h0M243.5 69.6h0M243.0 70.3h0M234.0 80.3h0M201.9 72.3h0M178.1 85.4h0M209.7 58.1h0M210.6 66.3h0M224.0 53.1h0M200.2 78.3h0M242.7 78.3h0M228.7 66.6h0M230.4 83.3h0M224.2 67.4h0M182.1 77.9h0M204.9 73.4h0M204.2 68.3h0M209.3 69.8h0M220.1 53.5h0M241.4 62.8h0M218.8 80.8h0M201.5 62.2h0M213.0 81.6h0M191.5 70.5h0M214.9 80.6h0M208.4 77.4h0M218.0 58.4h0M213.8 74.8h0M219.6 75.2h0M205.9 75.3h0M178.4 74.8h0M233.6 56.3h0M214.3 87.6h0M198.6 81.5h0M174.7 67.3h0M213.1 89.6h0M211.2 73.3h0M230.3 59.2h0M230.4 69.0h0M192.2 75.4h0M240.4 83.2h0M229.5 77.0h0M243.1 73.3h0M185.7 70.5h0M204.4 59.8h0M235.4 60.4h0M242.4 73.2h0M176.7 78.5h0M244.9 62.2h0M229.0 84.8h0M218.7 73.5h0M165.3 75.7h0M216.8 79.5h0M241.3 77.0h0M214.8 67.0h0M225.8 83.6h0M218.6 77.7h0M217.0 75.5h0M206.6 69.8h0M234.6 80.7h0M208.8 61.0h0M168.2 75.5h0M219.5 72.0h0M227.1 72.5h0M222.8 81.9h0M225.4 77.9h0M180.2 62.3h0M218.5 68.1h0M193.4 72.3h0M224.2 61.0h0M180.0 78.3h0M165.3 67.7h0M239.6 74.6h0M206.1 78.3h0M231.6 62.6h0M216.8 82.9h0M216.1 64.5h0M205.1 78.4h0M244.2 64.9h0M219.0 61.0h0M230.1 64.4h0M221.0 75.0h0M215.3 70.4h0M216.5 73.3h0M176.2 82.6h0M200.1 80.6h0M199.0 70.8h0M169.8 68.3h0M176.0 87.7h0M179.0 73.0h0M216.7 65.8h0M219.7 69.0h0M180.3 81.0h0M172.0 63.9h0M175.5 83.1h0M199.6 65.6h0M170.3 59.2h0M233.8 86.7h0M185.6 69.8h0M201.7 68.4h0M214.7 68.4h0M171.7 79.5h0M204.7 73.6h0M211.2 82.6h0M240.9 67.7h0M236.3 64.5h0M175.7 78.4h0M223.9 77.8h0M245.6 72.6h0M206.2 71.0h0M167.3 72.7h0M242.0 69.6h0M241.5 68.2h0M191.2 83.0h0M165.3 96.8h0M246.0 63.2h0M233.8 57.1h0M172.4 85.1h0M227.9 75.3h0M173.4 70.3h0M217.0 62.1h0M234.0 63.7h0M219.0 59.2h0M219.4 70.6h0M222.1 66.4h0M244.8 68.1h0M236.4 72.8h0M245.7 58.3h0M212.5 65.2h0M215.8 62.0h0M214.6 73.8h0M182.3 63.5h0M245.7 77.6h0M219.8 66.8h0M211.7 93.0h0M218.7 78.9h0M234.7 62.9h0M220.9 101.3h0M172.5 71.5h0M172.9 86.8h0M172.0 59.8h0M242.0 63.7h0M195.5 71.8h0M241.3 65.3h0M199.1 68.6h0M235.9 57.1h0M191.9 70.0h0M201.4 83.8h0M198.6 73.6h0M169.5 62.2h0M233.6 64.5h0M228.4 73.2h0M177.4 83.8h0M200.3 70.3h0M199.2 66.2h0M169.9 87.2h0M238.7 76.7h0M201.1 65.6h0M201.3 73.2h0M241.0 65.9h0M170.6 56.4h0M211.4 73.3h0M179.8 70.5h0M238.3 73.8h0M179.9 77.9h0M237.2 69.8h0M243.9 81.1h0M180.9 90.5h0M193.2 60.1h0M221.7 70.9h0M206.1 61.4h0M221.0 69.0h0M215.3 69.2h0M240.4 63.2h0M191.4 65.7h0M198.4 81.7h0M239.4 58.7h0M209.9 79.0h0M189.3 70.2h0M206.2 49.1h0M225.8 69.1h0M237.0 54.9h0M238.5 72.0h0M175.0 77.0h0M235.3 68.8h0M224.6 66.3h0M171.2 80.3h0M218.8 78.0h0M222.3 67.1h0M196.8 84.9h0M238.4 76.2h0M243.8 63.2h0M220.4 75.4h0M219.8 77.7h0M185.9 81.6h0M170.4 71.8h0M234.3 72.4h0M173.2 71.6h0M169.4 74.8h0M208.7 55.0h0M183.3 76.0h0M222.7 86.7h0M229.9 68.6h0M217.4 70.3h0M221.7 68.7h0M234.7 82.9h0M180.4 62.8h0M170.2 89.4h0M220.5 70.5h0M211.0 84.2h0M227.2 65.7h0M179.5 73.1h0M222.9 58.5h0M234.8 72.8h0M216.4 80.9h0M171.3 71.9h0M224.8 77.6h0M235.3 65.7h0M203.7 80.3h0M168.4 74.3h0M236.5 71.1h0M234.2 69.6h0M224.0 74.3h0M245.6 75.5h0M220.7 70.6h0M235.4 74.1h0M169.0 71.9h0M244.3 71.0h0M170.7 92.2h0M176.1 73.3h0M203.9 59.3h0M222.4 67.4h0M228.1 64.6h0M201.6 79.4h0M206.2 74.9h0M240.9 80.2h0M225.7 62.9h0M240.2 60.0h0M216.1 65.6h0M229.3 66.0h0M179.3 69.2h0M239.0 69.2h0M225.1 67.5h0M179.8 72.4h0M201.4 68.5h0M234.8 93.2h0M167.5 78.6h0M200.8 66.5h0M239.6 71.8h0M232.7 89.8h0M226.6 68.7h0M220.6 95.2h0M243.6 52.6h0M237.7 63.0h0M226.3 64.1h0M178.0 78.2h0M229.4 79.1h0M241.2 70.6h0M183.9 72.1h0M237.6 75.5h0M175.8 71.4h0M204.4 72.4h0M203.6 66.0h0M172.3 81.7h0M235.2 87.4h0M170.8 73.0h0M195.5 77.1h0M223.7 66.1h0M172.7 78.0h0M184.2 58.4h0M214.0 68.0h0M220.5 60.7h0M214.0 56.6h0M221.4 69.6h0M170.4 70.7h0M205.2 63.8h0M238.0 69.3h0M236.3 73.3h0M180.7 78.7h0M220.4 70.0h0M226.8 74.8h0M213.3 63.8h0M174.6 75.5h0M224.6 57.5h0M177.5 62.4h0M236.8 79.4h0M243.3 59.6h0M215.4 73.6h0M173.2 61.3h0M176.1 68.3h0M234.8 69.5h0M177.6 66.9h0M173.7 77.4h0M171.3 70.1h0M224.7 66.5h0M234.3 70.3h0M223.9 66.5h0M241.5 77.0h0M174.9 68.0h0M234.1 79.2h0M215.0 65.0h0M208.1 66.7h0M211.0 64.5h0M237.9 68.9h0M245.7 43.1h0M231.8 71.1h0M216.9 68.8h0M193.2 77.7h0M204.5 76.9h0M234.6 72.9h0M178.2 64.1h0M244.7 76.2h0M231.6 66.6h0M243.0 71.5h0M175.7 64.7h0M219.0 72.3h0M242.2 75.6h0M183.4 68.2h0M219.7 79.7h0M243.6 76.3h0M174.1 66.1h0M202.8 86.3h0M184.9 65.5h0M173.0 75.9h0M244.2 75.9h0M240.1 66.5h0M173.0 67.3h0M234.6 73.7h0M215.0 71.5h0M179.3 65.5h0M210.8 64.0h0M245.9 82.4h0M242.5 74.7h0M215.7 77.8h0M225.4 74.3h0M202.8 65.1h0M176.1 67.5h0M222.1 67.0h0M220.5 58.1h0M243.5 70.7h0M223.7 72.5h0M231.8 72.1h0M211.5 54.3h0M198.3 87.9h0M235.0 66.3h0M194.8 67.4h0M236.6 68.1h0M191.8 52.0h0M231.5 59.2h0M194.1 64.7h0M215.6 77.2h0M219.6 78.8h0M230.1 72.0h0M227.8 68.7h0M227.6 67.4h0M180.2 75.9h0M175.2 67.0h0M222.2 55.9h0M196.0 62.4h0M217.5 67.9h0M196.9 86.8h0M237.7 59.5h0M208.5 85.7h0M233.6 70.2h0M223.3 73.2h0M219.1 64.1h0M234.3 75.2h0M209.0 63.5h0M235.4 77.4h0M174.3 79.7h0M185.7 71.3h0M240.4 80.2h0M242.4 68.1h0M229.9 64.4h0M240.2 79.0h0M181.7 64.1h0M244.6 72.5h0M227.6 64.4h0M223.1 67.4h0M217.4 73.3h0M199.6 74.9h0M221.8 83.3h0M172.9 77.9h0M211.9 76.2h0M179.3 58.3h0M223.6 60.8h0M168.9 83.6h0M216.2 63.0h0M167.5 70.7h0M211.8 73.0h0M231.6 64.9h0M217.1 63.0h0M243.5 72.6h0M202.8 72.6h0M170.8 70.9h0M227.7 76.9h0M243.8 66.4h0M215.4 70.3h0M241.7 73.6h0M236.8 75.2h0M177.1 82.3h0M169.7 65.1h0M229.3 66.1h0M169.3 79.3h0M178.1 65.7h0M207.0 68.7h0M173.8 67.2h0M176.5 62.4h0M213.9 77.1h0M228.7 69.9h0M177.6 76.7h0M230.7 75.8h0M173.8 55.7h0M235.9 60.7h0M239.6 82.6h0M219.1 65.9h0M225.6 73.5h0M182.4 62.2h0M239.7 67.4h0M170.8 82.7h0M168.6 71.2h0M171.3 69.1h0M172.0 71.9h0M244.6 69.6h0M174.7 73.1h0M168.1 68.2h0M219.6 78.5h0M210.2 69.9h0M230.3 69.7h0M174.2 76.0h0M234.3 62.4h0M231.1 79.2h0M246.0 70.7h0M221.8 76.1h0M170.4 67.8h0M202.7 74.1h0M201.2 70.0h0M217.7 66.3h0M198.3 83.6h0M223.4 65.4h0M224.8 75.1h0M183.8 73.5h0M245.5 68.7h0M171.8 65.6h0M174.1 66.0h0M225.6 54.5h0M210.8 69.6h0M204.8 74.1h0M243.3 72.0h0M175.1 66.6h0M165.3 59.5h0M241.3 65.2h0M223.7 73.8h0M232.4 66.3h0M230.6 66.6h0M199.3 75.8h0M224.7 88.1h0M213.0 90.4h0M170.1 76.6h0M209.3 61.3h0M171.8 70.4h0M220.4 87.3h0M205.5 70.1h0M241.4 83.1h0M208.6 53.7h0M221.6 67.6h0M243.7 77.7h0M206.6 63.6h0M243.4 74.3h0M175.8 81.9h0M168.9 72.1h0M227.6 78.4h0M211.3 64.4h0M175.8 82.8h0M222.3 58.2h0M228.5 87.5h0M219.7 77.7h0M235.6 83.1h0M219.4 56.1h0M180.9 59.8h0M171.5 82.4h0M193.2 57.4h0M230.6 67.3h0M233.7 70.3h0M234.9 69.1h0M221.1 71.4h0M181.3 59.9h0M207.2 68.8h0M167.7 87.4h0M210.3 52.8h0M171.3 65.0h0M195.1 79.6h0M228.9 71.6h0M194.0 78.2h0M172.2 71.7h0M220.2 66.0h0M232.7 66.6h0M170.8 77.1h0M217.9 75.9h0M169.3 65.4h0M244.6 68.6h0M211.4 51.4h0M221.3 75.8h0M216.7 63.0h0M195.4 70.3h0M178.9 77.9h0M239.3 57.0h0M208.2 69.0h0M219.6 76.6h0M220.8 71.8h0M226.5 60.6h0M224.7 79.0h0M207.1 58.8h0M219.5 63.7h0M235.3 70.6h0M204.4 59.1h0M202.7 56.0h0M242.0 63.1h0M171.2 70.8h0M229.0 53.7h0M198.5 58.3h0M224.9 76.6h0M238.4 69.9h0M174.9 73.7h0M223.1 72.4h0M224.5 81.2h0M174.7 64.6h0M196.9 70.0h0M193.6 70.0h0M233.0 57.0h0M202.5 74.9h0M241.9 68.4h0M182.5 69.3h0M206.3 73.6h0M172.7 73.0h0M211.1 63.5h0M229.2 68.8h0M213.5 58.8h0M229.3 74.9h0M173.1 70.4h0M219.7 81.0h0M243.4 68.8h0M184.7 77.1h0M171.7 61.0h0M233.5 62.4h0M245.0 63.6h0M185.2 56.2h0M170.9 60.4h0M200.7 64.5h0M173.9 77.7h0M173.9 83.9h0M237.9 68.4h0M241.9 70.9h0M224.6 80.9h0M177.6 85.3h0M193.5 93.0h0M217.8 57.1h0M204.6 79.6h0M199.2 76.0h0M237.3 63.6h0M219.0 82.7h0M227.5 61.2h0M191.0 63.3h0M201.2 73.0h0M242.5 76.8h0M234.8 72.3h0M222.6 84.4h0M237.7 56.8h0M170.7 74.5h0M173.4 78.1h0M202.6 77.8h0M178.3 67.0h0M218.5 57.0h0M218.7 79.9h0M171.7 76.9h0M175.8 86.4h0M166.6 66.9h0M178.4 70.5h0M204.1 51.6h0M192.4 71.9h0M239.2 71.7h0M178.1 77.6h0M220.0 62.2h0M204.8 83.6h0M223.8 62.8h0M180.0 69.6h0M211.1 74.0h0M243.0 75.4h0M215.0 60.8h0M204.6 54.8h0M228.3 72.5h0M200.2 66.1h0M181.1 57.2h0M209.0 75.1h0M201.4 72.5h0M233.5 78.6h0M193.4 72.1h0M208.4 70.6h0M220.7 72.7h0M224.4 75.1h0M245.4 80.9h0M227.8 80.0h0M174.3 80.1h0M229.6 60.5h0M224.1 73.2h0M221.2 76.3h0M245.2 62.3h0M240.8 63.4h0M243.6 74.1h0M217.0 74.7h0M214.6 64.1h0M228.5 65.7h0M225.9 75.9h0M197.8 68.6h0M244.9 68.0h0M226.2 59.7h0M173.3 79.3h0M222.4 61.8h0M241.9 64.4h0M165.3 80.9h0M223.7 60.3h0M171.1 64.6h0M193.5 81.8h0M167.1 55.9h0M242.8 77.5h0M213.8 77.3h0M227.3 71.5h0M211.7 63.4h0M232.0 63.7h0M232.4 69.3h0M214.3 58.2h0M174.6 68.6h0M223.5 57.4h0M226.1 45.4h0M173.2 70.4h0" stroke="#333333" stroke-width="2.0" stroke-linecap="round" fill="none" opacity="0.85"/>
<polygon points="167.0,71.4 169.7,71.3 172.3,71.2 175.0,71.2 177.7,71.1 180.4,71.0 183.1,70.9 185.7,70.8 188.4,70.7 191.1,70.6 193.8,70.5 196.5,70.4 199.1,70.3 201.8,70.2 204.5,70.0 207.2,69.9 209.9,69.8 212.5,69.6 215.2,69.5 217.9,69.4 220.6,69.2 223.3,69.1 225.9,68.9 228.6,68.7 231.3,68.6 234.0,68.4 236.7,68.2 239.3,68.1 242.0,67.9 244.7,67.7 244.7,69.4 242.0,69.5 239.3,69.6 236.7,69.6 234.0,69.7 231.3,69.8 228.6,69.9 225.9,70.0 223.3,70.2 220.6,70.3 217.9,70.4 215.2,70.5 212.5,70.6 209.9,70.8 207.2,70.9 204.5,71.1 201.8,71.2 199.1,71.3 196.5,71.5 193.8,71.6 191.1,71.8 188.4,72.0 185.7,72.1 183.1,72.3 180.4,72.5 177.7,72.7 175.0,72.8 172.3,73.0 169.7,73.2 167.0,73.4" fill="#999" opacity="0.45"/>
<line x1="166.97" y1="72.40" x2="244.71" y2="68.54" stroke="#2c5cb4" stroke-width="1.55"/>
</g>
<rect x="162.90" y="27.30" width="86.60" height="86.90" fill="none" stroke="#333" stroke-width="0.8"/>
<text x="217.30" y="34.30" font-size="5.25" text-anchor="start" font-family="'Liberation Serif', serif" fill="#ea3434" stroke="#ea3434" stroke-width="0.06">Rho = 0.097</text>
<text x="217.30" y="40.80" font-size="5.25" text-anchor="start" font-family="'Liberation Serif', serif" fill="#ea3434" stroke="#ea3434" stroke-width="0.06">p = 2.4x10<tspan dy="-1.9" font-size="3.0">−3</tspan></text>
<line x1="183.03" y1="114.20" x2="183.03" y2="115.80" stroke="#333" stroke-width="0.8"/>
<text x="181.83" y="122.90" font-size="5.4" text-anchor="middle" font-family="'Liberation Serif', serif" fill="#4d4d4d" stroke="#4d4d4d" stroke-width="0.14">0.25</text>
<line x1="204.15" y1="114.20" x2="204.15" y2="115.80" stroke="#333" stroke-width="0.8"/>
<text x="202.95" y="122.90" font-size="5.4" text-anchor="middle" font-family="'Liberation Serif', serif" fill="#4d4d4d" stroke="#4d4d4d" stroke-width="0.14">0.50</text>
<line x1="225.28" y1="114.20" x2="225.28" y2="115.80" stroke="#333" stroke-width="0.8"/>
<text x="224.08" y="122.90" font-size="5.4" text-anchor="middle" font-family="'Liberation Serif', serif" fill="#4d4d4d" stroke="#4d4d4d" stroke-width="0.14">0.75</text>
<line x1="246.40" y1="114.20" x2="246.40" y2="115.80" stroke="#333" stroke-width="0.8"/>
<text x="244.40" y="122.90" font-size="5.4" text-anchor="middle" font-family="'Liberation Serif', serif" fill="#4d4d4d" stroke="#4d4d4d" stroke-width="0.14">1.00</text>
<rect x="252.50" y="18.20" width="86.10" height="9.10" fill="#d9d9d9" stroke="#3a3a3a" stroke-width="0.7"/>
<text x="298.95" y="24.65" font-size="5.7" text-anchor="middle" font-family="'Liberation Serif', serif" fill="#1a1a1a" stroke="#1a1a1a" stroke-width="0.04">XCELL</text>
<rect x="252.50" y="27.30" width="86.10" height="86.90" fill="#fff" stroke="none" stroke-width="1"/>
<clipPath id="cp11"><rect x="252.50" y="27.30" width="86.10" height="86.90"/></clipPath>
<g clip-path="url(#cp11)">
<line x1="267.33" y1="27.30" x2="267.33" y2="114.20" stroke="#f2f2f2" stroke-width="0.4"/>
<line x1="289.20" y1="27.30" x2="289.20" y2="114.20" stroke="#f2f2f2" stroke-width="0.4"/>
<line x1="311.07" y1="27.30" x2="311.07" y2="114.20" stroke="#f2f2f2" stroke-width="0.4"/>
<line x1="332.94" y1="27.30" x2="332.94" y2="114.20" stroke="#f2f2f2" stroke-width="0.4"/>
<line x1="252.50" y1="92.90" x2="338.60" y2="92.90" stroke="#f2f2f2" stroke-width="0.4"/>
<line x1="252.50" y1="76.10" x2="338.60" y2="76.10" stroke="#f2f2f2" stroke-width="0.4"/>
<line x1="252.50" y1="59.30" x2="338.60" y2="59.30" stroke="#f2f2f2" stroke-width="0.4"/>
<line x1="252.50" y1="42.50" x2="338.60" y2="42.50" stroke="#f2f2f2" stroke-width="0.4"/>
<line x1="252.50" y1="109.70" x2="338.60" y2="109.70" stroke="#f2f2f2" stroke-width="0.4"/>
<line x1="252.50" y1="25.70" x2="338.60" y2="25.70" stroke="#f2f2f2" stroke-width="0.4"/>
<line x1="256.40" y1="27.30" x2="256.40" y2="114.20" stroke="#e6e6e6" stroke-width="0.6"/>
<line x1="278.27" y1="27.30" x2="278.27" y2="114.20" stroke="#e6e6e6" stroke-width="0.6"/>
<line x1="300.14" y1="27.30" x2="300.14" y2="114.20" stroke="#e6e6e6" stroke-width="0.6"/>
<line x1="322.01" y1="27.30" x2="322.01" y2="114.20" stroke="#e6e6e6" stroke-width="0.6"/>
<line x1="252.50" y1="101.30" x2="338.60" y2="101.30" stroke="#e6e6e6" stroke-width="0.6"/>
<line x1="252.50" y1="84.50" x2="338.60" y2="84.50" stroke="#e6e6e6" stroke-width="0.6"/>
<line x1="252.50" y1="67.70" x2="338.60" y2="67.70" stroke="#e6e6e6" stroke-width="0.6"/>
<line x1="252.50" y1="50.90" x2="338.60" y2="50.90" stroke="#e6e6e6" stroke-width="0.6"/>
<line x1="252.50" y1="34.10" x2="338.60" y2="34.10" stroke="#e6e6e6" stroke-width="0.6"/>
<path d="M265.9 63.2h0M268.4 69.4h0M271.8 68.4h0M260.6 69.6h0M272.7 72.0h0M258.6 75.0h0M280.6 89.9h0M273.4 66.1h0M271.2 65.9h0M257.2 77.6h0M266.7 52.7h0M257.4 79.4h0M291.7 65.3h0M262.9 67.3h0M262.1 66.6h0M268.2 60.0h0M273.3 62.9h0M257.2 68.4h0M258.1 78.5h0M257.0 79.8h0M272.4 69.5h0M287.5 59.2h0M269.9 62.7h0M256.7 68.8h0M263.2 66.6h0M264.8 63.6h0M274.5 55.7h0M272.7 78.3h0M256.9 61.9h0M257.5 66.1h0M256.7 75.5h0M274.9 81.0h0M267.1 58.6h0M257.5 65.6h0M256.7 70.5h0M256.8 67.6h0M260.2 60.1h0M263.2 68.8h0M275.5 56.9h0M257.0 71.0h0M256.7 75.8h0M262.3 70.5h0M265.4 78.7h0M256.5 71.7h0M280.0 61.2h0M277.2 56.3h0M257.2 62.8h0M270.6 69.1h0M264.9 78.3h0M256.9 77.8h0M274.1 68.1h0M275.3 70.1h0M281.7 78.1h0M283.9 77.3h0M257.1 54.2h0M257.2 59.5h0M256.8 68.1h0M260.7 67.1h0M274.2 59.7h0M256.6 65.2h0M288.3 71.7h0M256.8 83.1h0M256.9 84.1h0M256.5 86.1h0M268.0 91.2h0M258.0 68.9h0M256.9 65.5h0M257.1 76.6h0M256.4 64.4h0M282.2 68.8h0M269.6 71.5h0M258.8 82.5h0M256.9 55.3h0M267.2 57.6h0M261.2 74.6h0M263.1 51.7h0M306.9 76.6h0M267.6 77.6h0M261.3 73.1h0M264.1 86.9h0M270.0 74.0h0M259.8 83.8h0M258.7 58.4h0M285.5 70.5h0M269.9 83.6h0M287.4 68.4h0M261.8 85.3h0M256.6 67.1h0M261.8 65.0h0M259.0 68.3h0M259.7 79.4h0M268.1 71.5h0M268.1 72.2h0M265.1 69.4h0M263.7 56.0h0M279.7 56.8h0M278.6 57.7h0M273.9 77.3h0M284.8 80.2h0M272.0 70.9h0M257.3 64.6h0M257.2 87.7h0M278.9 78.0h0M301.8 59.6h0M256.5 80.0h0M266.6 77.0h0M258.9 75.5h0M261.7 64.9h0M258.6 69.5h0M256.9 71.6h0M264.5 83.9h0M279.0 66.7h0M266.0 70.1h0M262.8 75.7h0M257.1 68.4h0M259.0 61.7h0M287.7 87.5h0M278.1 86.5h0M256.9 78.1h0M266.3 78.3h0M260.0 97.3h0M269.3 76.3h0M274.4 61.3h0M264.1 72.9h0M257.4 59.3h0M259.7 95.7h0M260.3 70.2h0M301.0 63.2h0M287.2 59.2h0M272.8 75.9h0M260.7 76.9h0M261.4 65.8h0M260.9 80.5h0M275.6 75.2h0M257.3 84.1h0M277.5 71.3h0M258.4 68.8h0M256.8 53.5h0M272.8 68.0h0M267.0 76.4h0M257.0 69.5h0M256.8 80.5h0M311.1 77.5h0M263.5 71.7h0M266.4 66.3h0M268.4 61.9h0M263.1 88.2h0M285.4 70.4h0M260.4 62.4h0M261.0 80.4h0M257.6 51.1h0M270.4 77.6h0M263.2 46.9h0M267.9 63.2h0M276.4 63.0h0M261.2 66.8h0M260.3 59.9h0M261.9 79.1h0M256.6 76.0h0M258.1 87.0h0M280.5 67.6h0M273.5 78.0h0M282.0 65.9h0M269.5 65.2h0M266.2 82.6h0M258.7 62.4h0M265.5 67.7h0M257.1 66.8h0M256.7 64.3h0M281.8 73.1h0M286.7 73.6h0M258.1 59.1h0M257.1 77.9h0M257.2 79.8h0M280.6 79.7h0M265.7 60.5h0M257.1 71.6h0M287.0 56.0h0M260.1 97.7h0M256.4 75.2h0M259.0 73.1h0M274.0 69.0h0M265.6 57.7h0M272.5 73.0h0M256.9 78.0h0M266.1 62.4h0M270.5 56.6h0M287.6 97.5h0M270.9 65.6h0M264.2 67.1h0M261.1 77.1h0M256.4 72.9h0M256.5 65.9h0M287.8 73.6h0M295.5 77.4h0M276.2 82.7h0M288.4 71.3h0M282.0 79.0h0M277.8 71.4h0M264.1 75.3h0M256.5 66.7h0M268.5 63.7h0M257.7 66.6h0M263.4 63.6h0M262.0 82.3h0M256.4 64.3h0M267.1 67.7h0M259.7 74.9h0M260.1 70.7h0M273.4 97.3h0M266.5 69.5h0M267.3 74.2h0M271.3 92.1h0M270.0 66.2h0M257.2 74.6h0M269.4 68.2h0M257.1 70.9h0M267.5 66.0h0M275.2 71.0h0M270.0 73.5h0M266.3 65.7h0M256.7 60.9h0M300.3 97.0h0M256.9 68.4h0M257.2 74.2h0M272.2 81.5h0M273.5 59.4h0M265.7 61.3h0M277.6 81.7h0M261.9 79.8h0M256.7 61.1h0M276.5 77.8h0M271.2 74.1h0M262.5 87.9h0M261.4 70.7h0M293.9 64.4h0M257.1 73.0h0M268.5 71.7h0M257.0 52.6h0M257.2 60.6h0M256.7 55.5h0M281.6 67.0h0M260.3 58.2h0M256.5 84.0h0M256.6 76.2h0M273.2 86.7h0M256.6 48.1h0M262.2 67.9h0M256.5 69.8h0M257.1 75.7h0M256.8 78.1h0M275.4 97.7h0M265.9 49.5h0M259.2 69.9h0M266.3 69.7h0M269.6 83.8h0M277.1 72.7h0M267.2 67.0h0M259.3 69.9h0M261.7 63.8h0M314.4 86.2h0M279.8 69.6h0M303.3 68.3h0M273.9 66.4h0M260.1 65.7h0M260.5 70.3h0M269.3 79.9h0M266.5 65.2h0M266.0 73.9h0M257.0 77.4h0M257.4 61.7h0M286.1 88.5h0M264.1 75.1h0M257.2 61.6h0M264.3 61.2h0M279.9 76.0h0M257.0 68.1h0M256.5 63.6h0M265.1 70.7h0M273.5 78.6h0M293.4 70.9h0M288.4 72.5h0M262.8 68.7h0M267.2 60.1h0M257.1 65.9h0M293.2 79.1h0M257.6 67.3h0M266.6 52.4h0M265.7 76.8h0M276.6 74.5h0M282.9 80.5h0M279.4 69.2h0M256.9 80.4h0M279.9 68.4h0M258.6 62.0h0M263.5 77.0h0M274.5 79.5h0M275.1 85.5h0M259.3 68.7h0M260.7 79.7h0M275.6 77.6h0M261.3 73.3h0M279.5 78.9h0M256.4 60.9h0M256.5 53.9h0M256.7 88.3h0M256.5 76.1h0M257.0 66.4h0M297.8 85.3h0M256.7 73.6h0M265.7 68.2h0M260.4 56.4h0M256.6 57.8h0M263.1 72.4h0M279.2 71.2h0M281.7 76.2h0M264.1 71.5h0M267.6 81.3h0M276.3 88.3h0M262.2 73.0h0M274.8 62.7h0M270.5 63.9h0M277.5 89.4h0M256.8 70.4h0M272.4 77.1h0M260.2 66.6h0M256.4 78.7h0M266.1 61.8h0M271.1 73.0h0M256.8 63.3h0M281.1 64.7h0M267.0 88.3h0M285.7 75.6h0M256.8 54.7h0M257.1 68.5h0M269.6 61.2h0M257.1 64.8h0M265.2 74.7h0M272.6 68.7h0M267.8 60.8h0M277.0 60.1h0M265.8 56.8h0M302.5 86.6h0M256.4 60.9h0M263.4 82.5h0M274.9 72.9h0M261.5 71.4h0M284.0 67.5h0M267.4 67.5h0M269.8 59.3h0M273.3 77.1h0M272.1 63.4h0M292.4 71.1h0M272.0 71.2h0M263.6 80.9h0M285.1 68.2h0M259.0 66.1h0M266.9 63.1h0M260.2 69.6h0M264.2 72.3h0M256.6 65.0h0M268.1 66.3h0M263.5 63.4h0M293.1 57.3h0M257.2 74.4h0M264.1 51.4h0M256.5 95.9h0M261.2 60.5h0M265.0 77.6h0M257.0 50.2h0M300.0 84.1h0M266.5 60.5h0M277.1 81.2h0M257.6 79.2h0M297.2 68.1h0M268.3 62.6h0M257.8 75.3h0M258.6 46.8h0M263.8 72.8h0M280.7 58.3h0M256.8 78.0h0M267.0 79.2h0M260.8 68.5h0M271.8 80.5h0M272.6 67.1h0M259.4 88.9h0M256.7 67.0h0M268.9 75.9h0M256.6 77.5h0M256.7 66.7h0M263.9 71.9h0M260.9 73.5h0M261.6 62.0h0M257.7 66.1h0M257.4 65.2h0M257.0 56.4h0M256.6 69.3h0M257.0 60.9h0M283.0 76.9h0M259.8 63.5h0M260.7 64.4h0M265.4 75.1h0M270.9 85.0h0M280.9 84.5h0M268.7 79.3h0M260.7 64.2h0M256.7 69.8h0M257.0 71.4h0M279.2 68.0h0M284.6 66.6h0M264.4 57.1h0M260.3 74.7h0M256.9 63.6h0M258.4 62.4h0M273.6 80.2h0M266.7 69.2h0M257.1 77.1h0M260.0 71.2h0M267.5 66.6h0M300.1 91.6h0M272.8 79.4h0M275.5 79.2h0M273.9 70.7h0M256.6 75.4h0M260.4 65.8h0M276.0 79.8h0M264.1 74.6h0M321.5 74.0h0M257.2 65.8h0M256.6 67.2h0M262.9 70.0h0M262.6 60.4h0M265.7 57.5h0M266.7 73.7h0M277.6 78.8h0M257.2 78.3h0M262.4 53.6h0M257.0 76.9h0M271.7 83.3h0M258.5 66.5h0M262.7 60.0h0M269.1 82.1h0M275.1 72.9h0M256.5 81.8h0M268.1 76.9h0M263.2 54.8h0M273.7 69.9h0M257.3 71.1h0M264.7 69.3h0M266.3 67.6h0M258.6 69.9h0M273.3 82.3h0M269.3 81.6h0M256.9 50.2h0M284.9 80.4h0M259.2 58.0h0M270.3 77.5h0M256.8 56.7h0M265.5 63.7h0M260.4 71.2h0M257.0 50.2h0M261.4 78.0h0M257.1 70.8h0M258.0 76.7h0M261.3 76.5h0M257.1 72.0h0M256.8 77.4h0M256.5 71.6h0M262.2 55.0h0M260.1 85.2h0M265.2 81.6h0M271.8 79.9h0M256.8 72.9h0M278.3 63.0h0M323.4 73.3h0M265.2 65.7h0M268.8 68.8h0M259.5 47.1h0M268.9 81.0h0M258.9 79.6h0M256.4 68.8h0M279.4 70.6h0M264.2 72.0h0M270.4 78.6h0M265.4 82.1h0M262.5 72.1h0M256.6 75.1h0M256.4 73.0h0M262.5 79.5h0M268.8 58.4h0M282.3 68.8h0M265.9 53.1h0M261.6 74.2h0M266.6 69.7h0M262.8 71.9h0M268.6 70.4h0M256.5 70.9h0M256.7 70.1h0M265.9 88.2h0M257.0 71.2h0M259.1 62.7h0M271.1 88.9h0M272.6 74.5h0M256.9 63.4h0M273.6 59.8h0M262.2 70.3h0M268.3 66.4h0M258.1 52.7h0M257.1 56.8h0M263.0 73.8h0M272.7 76.9h0M256.4 59.2h0M256.7 66.6h0M265.2 75.0h0M266.8 72.4h0M256.5 65.7h0M257.1 70.5h0M263.4 72.1h0M283.7 75.3h0M256.8 82.3h0M257.2 52.8h0M272.8 60.1h0M256.5 54.7h0M257.3 69.9h0M256.9 67.5h0M256.7 63.3h0M266.6 62.7h0M258.9 85.7h0M272.8 68.1h0M272.2 80.4h0M265.8 70.8h0M268.1 76.6h0M257.1 53.0h0M256.5 63.6h0M287.6 74.1h0M262.2 56.7h0M266.1 70.8h0M302.2 82.9h0M266.4 71.9h0M278.2 75.6h0M256.8 68.2h0M278.9 64.6h0M280.5 73.7h0M257.7 69.4h0M271.4 61.8h0M270.4 68.3h0M261.7 60.7h0M268.1 69.3h0M257.9 80.7h0M266.0 80.4h0M262.2 84.7h0M259.0 58.5h0M257.0 64.8h0M270.8 75.3h0M258.9 78.0h0M274.8 68.3h0M257.9 70.0h0M266.8 67.4h0M256.6 76.3h0M256.4 78.7h0M258.9 54.6h0M271.3 79.8h0M276.3 72.1h0M282.2 60.7h0M274.2 88.3h0M257.1 62.2h0M256.8 68.0h0M256.9 69.9h0M256.5 66.1h0M278.6 83.2h0M261.8 89.8h0M269.1 53.4h0M263.4 72.4h0M256.5 60.4h0M256.7 58.5h0M261.2 66.7h0M257.0 64.5h0M266.7 63.8h0M267.5 56.0h0M275.8 67.3h0M264.4 58.3h0M262.4 72.2h0M259.0 72.9h0M263.2 68.9h0M263.6 66.1h0M275.2 66.8h0M262.0 51.7h0M256.5 60.9h0M256.7 68.0h0M262.4 51.4h0M269.8 67.8h0M260.3 65.9h0M269.1 66.2h0M268.5 73.6h0M266.3 80.2h0M263.4 68.5h0M257.1 71.5h0M269.2 78.6h0M257.2 67.6h0M256.9 70.4h0M257.0 74.0h0M256.5 84.8h0M279.4 73.9h0M269.9 54.7h0M262.6 61.4h0M271.6 61.2h0M260.5 69.4h0M258.3 59.2h0M257.9 74.9h0M266.3 74.4h0M259.8 64.4h0M267.1 83.4h0M262.1 69.0h0M284.7 70.5h0M262.3 54.1h0M280.9 79.1h0M257.1 64.8h0M272.2 77.1h0M264.5 74.9h0M257.1 93.3h0M261.6 78.0h0M277.7 61.6h0M265.9 65.4h0M261.4 67.9h0M263.0 47.1h0M256.9 63.7h0M267.4 81.7h0M262.2 71.3h0M259.4 69.5h0M284.9 58.6h0M256.7 76.8h0M261.9 65.6h0M265.5 61.1h0M303.4 83.8h0M259.5 68.2h0M258.6 87.2h0M280.6 71.7h0M256.6 88.7h0M259.3 72.5h0M268.3 54.8h0M256.7 64.8h0M261.7 68.9h0M262.8 68.2h0M258.2 49.1h0M262.6 64.5h0M258.9 59.4h0M271.0 74.9h0M261.2 73.3h0M258.4 78.4h0M284.1 74.8h0M275.9 78.2h0M271.1 62.0h0M256.5 62.6h0M256.8 69.6h0M256.8 73.5h0M273.7 97.8h0M266.5 75.6h0M265.9 67.3h0M286.8 67.6h0M257.0 96.8h0M258.2 90.7h0M256.8 67.1h0M269.7 80.2h0M279.7 74.4h0M280.3 76.9h0M292.7 69.3h0M294.9 92.0h0M257.1 73.8h0M267.8 61.8h0M264.3 67.9h0M259.0 76.5h0M257.0 64.5h0M267.0 67.7h0M279.8 80.6h0M268.1 64.2h0M266.0 64.0h0M257.2 69.8h0M298.0 66.9h0M277.2 82.7h0M264.7 62.9h0M270.1 72.6h0M260.0 77.7h0M279.6 77.8h0M278.3 61.5h0M258.5 73.9h0M260.4 72.3h0M264.5 75.8h0M259.2 76.2h0M258.1 60.0h0M256.4 48.3h0M256.6 56.3h0M260.4 64.5h0M263.3 62.8h0M260.2 72.3h0M262.6 74.1h0M275.1 82.4h0M274.7 58.4h0M266.2 73.2h0M264.3 76.4h0M257.2 74.4h0M267.7 68.6h0M270.0 75.8h0M268.2 70.3h0M262.6 68.0h0M264.6 57.7h0M263.1 80.9h0M276.9 69.2h0M267.6 76.7h0M256.7 72.5h0M256.5 53.7h0M266.7 64.5h0M268.0 74.0h0M265.0 65.5h0M273.6 71.6h0M282.6 62.8h0M263.4 74.1h0M257.0 64.1h0M258.2 70.7h0M257.0 68.5h0M268.8 72.0h0M262.7 75.2h0M256.9 67.6h0M269.5 61.7h0M274.9 77.1h0M257.3 72.1h0M277.7 68.7h0M266.5 77.1h0M256.5 60.5h0M256.8 62.1h0M257.2 89.5h0M260.2 75.1h0M266.0 79.9h0M267.6 62.8h0M282.9 64.4h0M265.1 80.9h0M265.3 76.2h0M263.6 70.4h0M259.1 72.3h0M293.3 68.1h0M276.6 62.9h0M256.9 63.1h0M266.5 60.2h0M285.8 64.9h0M269.4 71.3h0M303.2 80.3h0M265.8 76.8h0M271.1 63.5h0M257.2 60.5h0M295.1 65.7h0M270.9 73.9h0M264.4 73.3h0M262.3 67.0h0M256.5 57.0h0M257.0 65.3h0M261.9 67.3h0M267.0 77.7h0M261.5 65.3h0M274.2 66.5h0M256.4 77.1h0M257.0 52.5h0M277.2 80.3h0M265.9 61.6h0M257.1 70.4h0M266.6 68.7h0M256.6 75.6h0M278.5 77.3h0M259.6 62.6h0M257.2 70.3h0M264.1 72.8h0M275.0 63.5h0M262.3 62.9h0M274.3 69.9h0M294.6 72.8h0M256.6 52.8h0M262.9 71.0h0M295.7 71.5h0M258.7 64.9h0M257.6 81.4h0M265.9 87.6h0M282.9 71.7h0M264.2 61.8h0M263.8 67.8h0M266.4 75.0h0M256.9 74.5h0M259.7 61.6h0M265.0 72.6h0M261.8 84.0h0M264.2 63.5h0M262.9 67.3h0M256.9 65.0h0M268.6 61.0h0M257.2 56.5h0M259.9 63.9h0M257.1 70.1h0M273.8 90.6h0M262.6 66.8h0M271.2 72.3h0M257.1 56.5h0M264.2 58.1h0M271.2 66.6h0M257.2 56.1h0M256.7 69.1h0M267.9 70.7h0M262.9 77.2h0M274.7 74.3h0M268.7 68.6h0M256.4 58.8h0M262.9 76.2h0M279.9 65.1h0M268.9 49.2h0M276.0 84.0h0M269.0 72.9h0M257.1 68.4h0M268.2 61.3h0M270.1 52.6h0M258.9 57.6h0M262.5 69.8h0M256.8 76.2h0M265.7 70.5h0M257.6 69.0h0M258.3 66.5h0M274.3 79.6h0M265.9 56.2h0M267.7 76.9h0M257.1 62.3h0M266.4 68.2h0M276.9 81.9h0M272.6 70.6h0M282.5 72.7h0M257.9 70.4h0M281.0 65.2h0M263.0 73.9h0M265.7 46.8h0M257.7 58.4h0M278.9 80.6h0M256.5 91.1h0M285.0 61.8h0M258.9 66.6h0M274.3 70.7h0M262.4 78.4h0M263.5 82.8h0M256.9 85.5h0M256.6 45.1h0M257.2 54.0h0M276.6 76.9h0M264.5 52.7h0M266.5 87.1h0M258.4 62.4h0M267.4 63.9h0M257.1 76.4h0M257.0 72.7h0M256.8 78.0h0M263.4 69.3h0M261.9 57.4h0M256.6 59.4h0M256.5 64.7h0M256.5 58.3h0M282.4 89.2h0M258.4 50.3h0M257.3 69.1h0M268.0 82.5h0M260.7 72.7h0M287.7 79.7h0M263.9 68.9h0M264.5 67.0h0M256.9 89.9h0M256.9 57.0h0M270.2 55.0h0M257.1 78.1h0M278.7 58.7h0M257.9 57.2h0M257.2 59.3h0M260.3 54.2h0M270.1 83.6h0M283.3 66.4h0M259.5 78.3h0M261.7 47.7h0M264.2 78.7h0M256.9 79.8h0M276.7 61.6h0M260.4 63.5h0M273.2 71.1h0M280.7 71.3h0M275.1 66.0h0M271.0 55.1h0M264.0 76.3h0M263.6 74.9h0M269.1 76.0h0M275.5 72.4h0M281.8 72.7h0M266.0 82.0h0M279.4 69.6h0M256.7 80.2h0M324.5 82.9h0M256.8 70.9h0M264.3 72.1h0M266.2 56.5h0M260.6 54.1h0M261.1 59.4h0M269.6 56.2h0M257.0 71.3h0M257.1 55.7h0M257.2 69.1h0M274.5 69.5h0M280.3 70.0h0M258.5 81.2h0M256.4 74.2h0M256.6 70.0h0M261.0 65.9h0M270.6 72.1h0M257.4 76.6h0M287.9 84.5h0M271.3 71.0h0M256.5 79.5h0M273.5 82.3h0M257.1 69.6h0M262.9 68.0h0M256.5 76.2h0M269.9 87.2h0M280.6 70.0h0M264.2 62.3h0M259.6 72.8h0M275.8 75.3h0M257.0 90.1h0M274.2 63.2h0M266.4 80.3h0M267.4 63.7h0M256.5 74.0h0M282.9 74.3h0M273.3 73.1h0M278.6 88.9h0M277.2 46.7h0M256.6 83.0h0M264.1 68.8h0M259.5 76.6h0M269.5 72.9h0M259.7 56.4h0M256.4 85.8h0M275.9 73.1h0M282.9 68.5h0M275.0 70.6h0M257.0 65.0h0M262.4 76.5h0M273.1 86.5h0M276.9 84.1h0M282.1 76.7h0M264.9 63.1h0M259.3 68.3h0M286.4 58.8h0M273.7 70.5h0M261.9 67.7h0M265.6 68.2h0M272.8 87.3h0M258.3 63.5h0M296.5 85.6h0M257.9 72.3h0M257.0 47.0h0M278.6 83.7h0M258.7 67.8h0M266.4 67.5h0M271.5 69.9h0M264.4 69.9h0M256.7 73.7h0M273.0 52.9h0M256.6 87.1h0M269.0 80.1h0M257.1 54.9h0M271.4 66.0h0M257.2 75.7h0M304.7 85.0h0M262.8 71.9h0M313.6 53.8h0M261.1 64.8h0M257.1 78.2h0M260.5 67.0h0M266.8 76.1h0M266.6 56.4h0M256.7 65.9h0M261.8 57.8h0M269.7 69.3h0M265.2 51.2h0M280.2 68.7h0M266.2 67.6h0M264.9 79.4h0M277.0 75.9h0M265.6 66.5h0M268.6 75.2h0M256.8 45.6h0M260.0 69.3h0M264.5 76.9h0M257.2 59.6h0M289.5 79.0h0M275.8 68.1h0M256.5 69.4h0M256.5 75.2h0M267.5 57.6h0M260.3 68.3h0M270.5 60.9h0M262.9 72.8h0M275.8 85.0h0M272.1 82.7h0M271.3 75.8h0M267.3 72.1h0M263.8 69.3h0M288.1 69.2h0M278.5 83.8h0M256.5 66.4h0M259.0 80.2h0M264.2 76.2h0M256.7 44.9h0M270.9 59.2h0M281.5 76.1h0M256.5 52.0h0M267.1 57.2h0M289.6 65.9h0M258.1 55.3h0M260.1 71.5h0M267.4 71.6h0M266.2 78.1h0M257.2 63.3h0M256.7 80.2h0M261.3 74.0h0M267.8 66.2h0M274.2 76.2h0M258.4 65.7h0M268.0 53.6h0M262.8 78.7h0M260.8 56.3h0M256.9 74.9h0M262.3 78.2h0M265.9 68.1h0M257.6 59.2h0M256.7 75.2h0M274.0 78.2h0M267.9 74.5h0M261.1 76.0h0M277.1 70.3h0M262.7 76.2h0M257.2 71.0h0M260.0 65.9h0M263.0 73.5h0M291.9 63.9h0M260.6 75.5h0M260.9 76.4h0M261.6 50.6h0M257.1 54.7h0M270.6 70.3h0M266.2 62.5h0M259.4 65.9h0M261.1 74.1h0M257.0 62.4h0M261.4 66.6h0M256.7 56.8h0M264.9 87.0h0M286.9 66.2h0M294.6 73.5h0M280.4 78.9h0M266.9 74.3h0M266.5 74.0h0M260.0 81.4h0M272.2 76.5h0M256.4 61.3h0M314.3 92.3h0M278.5 75.7h0M257.1 90.5h0M256.4 73.9h0M272.5 67.7h0M281.0 73.2h0M259.7 68.7h0M257.3 79.0h0M259.2 63.7h0M277.6 80.5h0M278.8 63.9h0M258.6 67.0h0M261.2 72.9h0M261.4 55.7h0M258.9 72.6h0M257.0 59.2h0M257.2 67.7h0M268.4 70.6h0M262.9 60.4h0M258.6 64.9h0M282.8 73.1h0M263.9 70.9h0M263.2 67.7h0M270.9 70.2h0M256.5 71.6h0M258.9 78.5h0M256.7 92.5h0M257.1 69.7h0M289.7 76.4h0M256.9 57.4h0M290.7 70.2h0M280.4 62.1h0M280.3 56.5h0M266.3 71.2h0M257.0 76.4h0M280.9 65.1h0M270.7 76.5h0M263.6 72.1h0" stroke="#333333" stroke-width="2.0" stroke-linecap="round" fill="none" opacity="0.85"/>
<polygon points="256.4,67.0 259.1,67.7 261.8,68.4 264.5,69.1 267.3,69.7 270.0,70.4 272.7,71.0 275.4,71.6 278.1,72.2 280.8,72.7 283.5,73.3 286.3,73.9 289.0,74.4 291.7,75.0 294.4,75.5 297.1,76.0 299.8,76.6 302.6,77.1 305.3,77.6 308.0,78.1 310.7,78.7 313.4,79.2 316.1,79.7 318.8,80.2 321.6,80.7 324.3,81.2 327.0,81.7 329.7,82.2 332.4,82.7 335.1,83.2 335.1,89.2 332.4,88.4 329.7,87.6 327.0,86.8 324.3,86.1 321.6,85.3 318.8,84.5 316.1,83.8 313.4,83.0 310.7,82.2 308.0,81.5 305.3,80.7 302.6,80.0 299.8,79.2 297.1,78.5 294.4,77.7 291.7,77.0 289.0,76.3 286.3,75.6 283.5,74.9 280.8,74.1 278.1,73.4 275.4,72.8 272.7,72.1 270.0,71.4 267.3,70.8 264.5,70.1 261.8,69.5 259.1,69.0 256.4,68.4" fill="#999" opacity="0.45"/>
<line x1="256.40" y1="67.70" x2="335.13" y2="86.18" stroke="#2c5cb4" stroke-width="1.55"/>
</g>
<rect x="252.50" y="27.30" width="86.10" height="86.90" fill="none" stroke="#333" stroke-width="0.8"/>
<text x="307.60" y="33.90" font-size="5.25" text-anchor="start" font-family="'Liberation Serif', serif" fill="#ea3434" stroke="#ea3434" stroke-width="0.06">Rho = -0.319</text>
<text x="307.60" y="40.10" font-size="5.25" text-anchor="start" font-family="'Liberation Serif', serif" fill="#ea3434" stroke="#ea3434" stroke-width="0.06">p = 6.31x10<tspan dy="-1.9" font-size="3.0">−25</tspan></text>
<line x1="256.40" y1="114.20" x2="256.40" y2="115.80" stroke="#333" stroke-width="0.8"/>
<text x="256.10" y="122.90" font-size="5.4" text-anchor="middle" font-family="'Liberation Serif', serif" fill="#4d4d4d" stroke="#4d4d4d" stroke-width="0.14">0.0</text>
<line x1="278.27" y1="114.20" x2="278.27" y2="115.80" stroke="#333" stroke-width="0.8"/>
<text x="277.07" y="122.90" font-size="5.4" text-anchor="middle" font-family="'Liberation Serif', serif" fill="#4d4d4d" stroke="#4d4d4d" stroke-width="0.14">0.1</text>
<line x1="300.14" y1="114.20" x2="300.14" y2="115.80" stroke="#333" stroke-width="0.8"/>
<text x="298.94" y="122.90" font-size="5.4" text-anchor="middle" font-family="'Liberation Serif', serif" fill="#4d4d4d" stroke="#4d4d4d" stroke-width="0.14">0.2</text>
<line x1="322.01" y1="114.20" x2="322.01" y2="115.80" stroke="#333" stroke-width="0.8"/>
<text x="320.81" y="122.90" font-size="5.4" text-anchor="middle" font-family="'Liberation Serif', serif" fill="#4d4d4d" stroke="#4d4d4d" stroke-width="0.14">0.3</text>
<text transform="translate(201.00 131.35) scale(0.855 1)" font-size="7.5" text-anchor="middle" font-family="'Liberation Serif', serif" fill="#111" stroke="#111" stroke-width="0.12">Purity</text>
<text transform="translate(296.00 131.35) scale(0.855 1)" font-size="7.5" text-anchor="middle" font-family="'Liberation Serif', serif" fill="#111" stroke="#111" stroke-width="0.12">Infiltration Level</text>
<text x="348.00" y="68.20" font-size="5.6" text-anchor="middle" font-family="'Liberation Serif', serif" fill="#333" stroke="#333" stroke-width="0.05" transform="rotate(-90 348.00 68.20)">HSP90B1 Expression Level (log2 TPM)</text>
<line x1="359.40" y1="106.50" x2="361.00" y2="106.50" stroke="#333" stroke-width="0.8"/>
<text x="358.60" y="108.30" font-size="5.2" text-anchor="end" font-family="'Liberation Serif', serif" fill="#4d4d4d" stroke="#4d4d4d" stroke-width="0.14">7</text>
<line x1="359.40" y1="85.20" x2="361.00" y2="85.20" stroke="#333" stroke-width="0.8"/>
<text x="358.60" y="87.00" font-size="5.2" text-anchor="end" font-family="'Liberation Serif', serif" fill="#4d4d4d" stroke="#4d4d4d" stroke-width="0.14">8</text>
<line x1="359.40" y1="63.90" x2="361.00" y2="63.90" stroke="#333" stroke-width="0.8"/>
<text x="358.60" y="65.70" font-size="5.2" text-anchor="end" font-family="'Liberation Serif', serif" fill="#4d4d4d" stroke="#4d4d4d" stroke-width="0.14">9</text>
<line x1="359.40" y1="42.60" x2="361.00" y2="42.60" stroke="#333" stroke-width="0.8"/>
<text x="358.60" y="44.40" font-size="5.2" text-anchor="end" font-family="'Liberation Serif', serif" fill="#4d4d4d" stroke="#4d4d4d" stroke-width="0.14">10</text>
<rect x="361.00" y="25.20" width="8.80" height="88.00" fill="#d9d9d9" stroke="#3a3a3a" stroke-width="0.7"/>
<text x="367.20" y="69.20" font-size="5.7" text-anchor="middle" font-family="'Liberation Sans', sans-serif" fill="#1a1a1a" stroke="#1a1a1a" stroke-width="0.04" transform="rotate(-90 367.20 69.20)">HNSC</text>
<rect x="369.80" y="16.00" width="85.80" height="9.20" fill="#d9d9d9" stroke="#3a3a3a" stroke-width="0.7"/>
<text x="412.70" y="22.50" font-size="5.0" text-anchor="middle" font-family="'Liberation Sans', sans-serif" fill="#1a1a1a" stroke="#1a1a1a" stroke-width="0.04">Purity</text>
<rect x="369.80" y="25.20" width="85.80" height="88.00" fill="#fff" stroke="none" stroke-width="1"/>
<clipPath id="cp20"><rect x="369.80" y="25.20" width="85.80" height="88.00"/></clipPath>
<g clip-path="url(#cp20)">
<line x1="375.50" y1="25.20" x2="375.50" y2="113.20" stroke="#f2f2f2" stroke-width="0.4"/>
<line x1="397.70" y1="25.20" x2="397.70" y2="113.20" stroke="#f2f2f2" stroke-width="0.4"/>
<line x1="419.90" y1="25.20" x2="419.90" y2="113.20" stroke="#f2f2f2" stroke-width="0.4"/>
<line x1="442.10" y1="25.20" x2="442.10" y2="113.20" stroke="#f2f2f2" stroke-width="0.4"/>
<line x1="369.80" y1="117.15" x2="455.60" y2="117.15" stroke="#f2f2f2" stroke-width="0.4"/>
<line x1="369.80" y1="95.85" x2="455.60" y2="95.85" stroke="#f2f2f2" stroke-width="0.4"/>
<line x1="369.80" y1="74.55" x2="455.60" y2="74.55" stroke="#f2f2f2" stroke-width="0.4"/>
<line x1="369.80" y1="53.25" x2="455.60" y2="53.25" stroke="#f2f2f2" stroke-width="0.4"/>
<line x1="369.80" y1="31.95" x2="455.60" y2="31.95" stroke="#f2f2f2" stroke-width="0.4"/>
<line x1="386.60" y1="25.20" x2="386.60" y2="113.20" stroke="#e6e6e6" stroke-width="0.6"/>
<line x1="408.80" y1="25.20" x2="408.80" y2="113.20" stroke="#e6e6e6" stroke-width="0.6"/>
<line x1="431.00" y1="25.20" x2="431.00" y2="113.20" stroke="#e6e6e6" stroke-width="0.6"/>
<line x1="453.20" y1="25.20" x2="453.20" y2="113.20" stroke="#e6e6e6" stroke-width="0.6"/>
<line x1="369.80" y1="106.50" x2="455.60" y2="106.50" stroke="#e6e6e6" stroke-width="0.6"/>
<line x1="369.80" y1="85.20" x2="455.60" y2="85.20" stroke="#e6e6e6" stroke-width="0.6"/>
<line x1="369.80" y1="63.90" x2="455.60" y2="63.90" stroke="#e6e6e6" stroke-width="0.6"/>
<line x1="369.80" y1="42.60" x2="455.60" y2="42.60" stroke="#e6e6e6" stroke-width="0.6"/>
<path d="M420.9 49.9h0M443.8 56.5h0M400.0 57.4h0M449.2 70.2h0M428.8 41.6h0M388.5 60.3h0M396.8 65.6h0M414.0 66.8h0M421.8 77.7h0M379.7 72.0h0M426.5 81.7h0M450.1 60.3h0M390.7 63.8h0M414.3 60.1h0M432.2 78.3h0M426.1 68.1h0M401.1 70.8h0M394.4 50.6h0M446.3 81.3h0M409.9 81.6h0M401.9 47.0h0M385.3 58.4h0M406.8 82.2h0M444.7 46.2h0M408.4 44.4h0M440.2 48.7h0M400.0 88.3h0M438.2 61.4h0M435.3 73.5h0M411.8 66.1h0M449.5 82.4h0M405.5 41.4h0M398.6 71.4h0M414.2 59.4h0M433.4 52.9h0M428.3 55.3h0M433.2 57.8h0M436.3 67.7h0M413.9 60.1h0M430.7 65.6h0M425.1 90.9h0M406.4 50.5h0M424.3 70.6h0M408.5 69.3h0M420.0 68.0h0M377.8 80.0h0M416.4 77.8h0M380.3 85.2h0M380.1 57.1h0M414.1 48.3h0M412.1 61.9h0M420.6 77.0h0M394.0 46.7h0M394.5 66.8h0M428.9 82.6h0M444.4 86.1h0M419.4 60.6h0M408.9 45.0h0M436.1 67.6h0M441.5 70.7h0M436.9 66.3h0M392.8 73.4h0M427.3 69.6h0M407.8 59.8h0M402.6 71.8h0M424.5 51.4h0M439.9 75.0h0M431.5 54.1h0M414.2 58.6h0M386.6 67.7h0M399.4 66.6h0M437.8 66.9h0M422.1 42.2h0M428.4 72.9h0M390.4 48.2h0M449.7 50.4h0M438.4 67.1h0M374.1 42.9h0M421.3 92.3h0M433.0 59.9h0M441.1 61.3h0M422.6 62.7h0M402.1 52.6h0M448.6 67.9h0M422.2 65.2h0M378.8 48.7h0M407.9 64.3h0M430.4 75.7h0M431.1 55.9h0M436.2 63.9h0M387.4 69.9h0M421.5 56.1h0M399.0 72.4h0M409.8 75.0h0M393.4 66.1h0M447.9 65.3h0M394.6 62.3h0M417.2 77.8h0M414.2 41.7h0M423.1 54.6h0M405.7 61.2h0M394.8 60.1h0M430.9 93.8h0M427.2 51.5h0M384.9 75.6h0M424.2 56.7h0M399.8 77.7h0M432.3 50.7h0M425.3 69.5h0M406.8 65.5h0M445.3 44.0h0M407.1 50.7h0M436.0 79.9h0M438.4 71.5h0M424.2 60.5h0M422.2 65.8h0M438.7 52.9h0M423.9 71.4h0M394.0 86.1h0M441.4 74.2h0M429.4 65.2h0M432.7 56.2h0M419.5 53.7h0M441.6 47.5h0M416.7 60.0h0M415.9 65.4h0M418.1 53.9h0M408.7 64.2h0M427.4 68.7h0M430.3 68.7h0M411.4 51.4h0M404.0 44.6h0M391.1 46.7h0M397.5 82.7h0M421.1 49.4h0M405.0 76.8h0M407.8 67.1h0M433.8 55.7h0M439.9 79.4h0M387.2 78.1h0M426.7 72.2h0M445.5 42.1h0M432.9 49.6h0M412.6 74.0h0M377.8 61.2h0M391.6 61.2h0M394.6 59.1h0M389.8 71.7h0M410.7 45.1h0M440.3 67.6h0M430.0 52.8h0M384.1 83.7h0M449.9 58.1h0M398.1 61.1h0M447.4 46.1h0M443.8 95.0h0M404.4 56.1h0M405.3 52.9h0M408.8 66.2h0M392.4 46.7h0M402.1 36.9h0M391.1 52.0h0M423.6 52.9h0M408.5 46.2h0M429.7 57.5h0M405.9 47.7h0M425.1 55.5h0M445.3 71.4h0M430.9 75.9h0M390.0 48.4h0M447.1 55.5h0M393.9 71.2h0M397.5 62.6h0M404.4 44.8h0M418.2 84.1h0M413.9 74.0h0M445.4 54.3h0M419.7 52.7h0M406.1 77.4h0M417.6 75.2h0M448.0 60.8h0M443.0 45.5h0M436.0 62.7h0M396.2 91.6h0M412.1 50.2h0M378.3 63.2h0M427.0 68.6h0M438.9 77.2h0M434.7 48.1h0M430.9 59.6h0M379.9 57.9h0M413.2 58.6h0M410.0 57.5h0M381.3 52.5h0M431.7 41.7h0M449.0 76.0h0M416.1 63.8h0M401.7 68.5h0M385.0 42.1h0M435.9 66.4h0M418.4 82.8h0M424.6 63.2h0M450.5 71.9h0M440.3 72.0h0M394.2 68.4h0M386.8 79.1h0M402.0 86.8h0M444.0 38.8h0M447.4 64.5h0M411.6 74.5h0M439.4 55.2h0M416.8 46.4h0M404.9 84.5h0M410.1 68.4h0M412.6 59.4h0M423.7 73.3h0M389.6 57.3h0M390.1 78.2h0M415.5 71.1h0M423.6 64.4h0M434.8 57.6h0M380.3 62.4h0M429.2 71.3h0M429.5 67.5h0M412.2 89.1h0M375.2 36.5h0M440.7 68.0h0M410.0 66.6h0M426.0 59.6h0M444.5 55.8h0M392.3 58.7h0M404.5 71.3h0M447.4 83.4h0M406.8 65.1h0M438.4 72.8h0M423.2 69.8h0M434.4 62.9h0M415.3 59.9h0M418.9 46.9h0M437.4 64.7h0M410.9 84.3h0M417.8 55.7h0M436.5 51.5h0M421.4 83.3h0M415.6 55.4h0M374.2 60.6h0M390.0 69.7h0M394.2 60.8h0M427.1 58.1h0M405.3 55.6h0M446.4 48.7h0M438.2 63.1h0M426.0 63.0h0M391.2 33.1h0M426.5 76.2h0M445.4 66.3h0M380.0 67.3h0M409.1 53.4h0M440.0 49.2h0M407.1 79.3h0M391.8 47.7h0M424.4 77.7h0M421.3 30.7h0M397.3 71.2h0M449.0 49.3h0M386.8 66.3h0M395.4 54.2h0M387.6 72.2h0M410.1 61.3h0M424.1 62.6h0M395.6 61.8h0M387.7 53.1h0M448.7 68.4h0M385.9 66.9h0M386.4 79.2h0M449.6 64.6h0M389.0 69.0h0M424.3 52.0h0M409.8 54.6h0M445.3 71.9h0M388.9 57.5h0M412.3 46.7h0M448.6 65.5h0M440.4 77.4h0M411.7 32.5h0M406.8 56.1h0M437.6 54.2h0M379.9 31.9h0M385.4 72.8h0M385.1 59.1h0M443.4 86.4h0M440.2 56.8h0M433.1 58.0h0M417.3 72.6h0M417.7 73.5h0M433.4 65.1h0M439.5 65.8h0M411.4 43.3h0M403.4 65.9h0M448.9 64.9h0M407.4 65.1h0M414.8 82.7h0M387.1 68.9h0M387.9 79.6h0M410.1 61.3h0M416.7 90.1h0M428.5 76.8h0M431.4 59.8h0M413.1 88.9h0M393.6 82.2h0M409.1 50.6h0M382.1 79.4h0M424.4 63.0h0M396.1 59.1h0M450.3 76.1h0M431.7 83.8h0M408.4 44.0h0M443.1 69.8h0M410.3 56.5h0M381.8 72.3h0M393.2 58.4h0M396.4 79.2h0M393.2 79.9h0M445.4 75.9h0M404.6 70.7h0M436.4 70.7h0M444.4 67.0h0M387.1 57.6h0M404.8 69.6h0M384.1 51.4h0M408.9 71.1h0M420.6 54.7h0M379.8 46.7h0M417.6 41.4h0M401.9 87.5h0M378.8 41.6h0M424.8 84.8h0M380.8 45.4h0M434.7 63.1h0M404.7 58.6h0M442.9 74.6h0M390.0 51.4h0M397.1 54.4h0M439.0 69.8h0M422.0 70.6h0M413.5 52.3h0M421.6 50.2h0M379.0 53.4h0M403.4 67.6h0M432.8 62.9h0M383.7 51.3h0M416.6 52.6h0M450.1 49.0h0M428.2 61.2h0M414.1 71.6h0M429.4 59.3h0M403.0 57.3h0M403.7 69.5h0M394.9 57.4h0M430.7 73.3h0M409.5 59.7h0M443.8 70.4h0M421.4 36.7h0M406.5 48.2h0M430.0 59.7h0M445.6 79.2h0M423.1 78.1h0M429.4 54.3h0M442.5 64.8h0M449.2 59.1h0M403.3 82.4h0M437.8 81.5h0M438.1 61.5h0M423.1 65.5h0M429.7 79.4h0M445.2 72.8h0M425.1 53.2h0M382.4 68.3h0M418.1 55.8h0M418.5 42.5h0M435.0 58.7h0M391.1 61.3h0M383.1 70.3h0M415.5 47.9h0M451.4 80.8h0M441.5 76.5h0M389.2 63.1h0M407.8 81.1h0M449.3 50.8h0M396.8 70.6h0M424.9 56.4h0M432.3 66.7h0M426.6 66.0h0M448.7 62.7h0M445.4 87.2h0M399.3 76.4h0M432.3 68.8h0M403.2 35.5h0M437.4 52.9h0M395.3 54.0h0M425.4 75.7h0M434.5 51.9h0M414.0 47.5h0M429.4 53.6h0M421.0 30.5h0M434.4 79.6h0M412.1 76.2h0M388.5 66.2h0M418.0 75.0h0M407.7 62.3h0M391.0 56.5h0M392.3 63.1h0M443.4 61.7h0M397.8 57.9h0M421.0 53.4h0M420.7 71.1h0M438.8 71.2h0M417.6 48.2h0M421.7 67.1h0M449.4 73.2h0M423.3 59.4h0M430.1 67.3h0M392.4 61.5h0M406.5 63.7h0M393.1 55.1h0M419.4 51.7h0M381.8 73.2h0M404.6 78.0h0M422.4 43.2h0M445.4 71.4h0M393.1 82.1h0M422.6 86.4h0M421.8 63.4h0M415.3 70.9h0M412.1 85.6h0M425.6 74.7h0M452.4 76.1h0M406.1 50.7h0M391.6 60.1h0M432.8 63.1h0M389.9 78.7h0M398.6 65.2h0M382.3 54.8h0M436.7 61.0h0M415.4 50.0h0M383.8 62.1h0M436.4 54.5h0M391.3 57.4h0M432.3 70.0h0M422.8 46.5h0M432.4 58.6h0M420.0 52.8h0M443.4 76.2h0M390.0 76.4h0M411.5 65.2h0M442.3 73.0h0M430.9 55.4h0M439.2 58.0h0M446.0 47.9h0M403.6 55.8h0M434.8 77.0h0M440.8 51.3h0M404.7 71.1h0M418.5 72.1h0M402.3 62.3h0M404.9 63.1h0M387.4 50.2h0M429.3 29.8h0M417.5 57.8h0M444.4 45.1h0M447.8 65.6h0M448.3 58.9h0M417.6 69.4h0M402.6 68.3h0M411.7 46.4h0M416.1 57.4h0M396.9 57.5h0M380.6 72.9h0M440.3 41.9h0M431.9 65.2h0M384.6 71.1h0M408.9 63.3h0M403.5 54.7h0M441.0 53.8h0M411.6 44.9h0M426.1 76.1h0M411.4 68.3h0M396.2 43.8h0M448.3 35.0h0M423.9 70.8h0M429.8 64.2h0M408.2 82.1h0M425.1 73.2h0M402.4 73.9h0M436.4 64.3h0M421.0 77.7h0M420.8 51.5h0M424.1 63.7h0M453.0 66.1h0M424.8 51.6h0M449.7 66.3h0M428.7 78.3h0M420.4 62.7h0M446.0 36.2h0M451.5 61.8h0M429.2 56.5h0M416.5 65.4h0M446.6 65.7h0M413.5 56.8h0M439.0 95.6h0M413.3 78.3h0M420.3 70.3h0M386.7 66.3h0M405.9 45.1h0M432.5 32.8h0M434.5 55.2h0M386.6 58.1h0M428.8 54.6h0M430.2 44.4h0M405.9 75.1h0M417.8 69.1h0M428.8 61.1h0" stroke="#333333" stroke-width="2.0" stroke-linecap="round" fill="none" opacity="0.85"/>
<polygon points="373.3,62.2 376.0,62.2 378.7,62.3 381.4,62.3 384.1,62.3 386.8,62.3 389.4,62.3 392.1,62.3 394.8,62.3 397.5,62.3 400.2,62.3 402.9,62.2 405.6,62.2 408.3,62.2 411.0,62.1 413.7,62.1 416.4,62.0 419.1,61.9 421.8,61.8 424.5,61.7 427.2,61.6 429.9,61.5 432.6,61.4 435.3,61.3 438.0,61.1 440.6,61.0 443.3,60.8 446.0,60.7 448.7,60.5 451.4,60.3 451.4,63.7 448.7,63.6 446.0,63.6 443.3,63.5 440.6,63.5 438.0,63.5 435.3,63.5 432.6,63.5 429.9,63.5 427.2,63.5 424.5,63.5 421.8,63.6 419.1,63.6 416.4,63.7 413.7,63.8 411.0,63.8 408.3,63.9 405.6,64.0 402.9,64.1 400.2,64.2 397.5,64.3 394.8,64.4 392.1,64.6 389.4,64.7 386.8,64.8 384.1,65.0 381.4,65.1 378.7,65.3 376.0,65.4 373.3,65.6" fill="#999" opacity="0.45"/>
<line x1="373.28" y1="63.90" x2="451.42" y2="61.98" stroke="#2c5cb4" stroke-width="1.55"/>
</g>
<rect x="369.80" y="25.20" width="85.80" height="88.00" fill="none" stroke="#333" stroke-width="0.8"/>
<text x="424.70" y="32.30" font-size="5.25" text-anchor="start" font-family="'Liberation Serif', serif" fill="#ea3434" stroke="#ea3434" stroke-width="0.06">Rho = 0.028</text>
<text x="424.70" y="38.40" font-size="5.25" text-anchor="start" font-family="'Liberation Serif', serif" fill="#ea3434" stroke="#ea3434" stroke-width="0.06">p = 0.534</text>
<line x1="386.60" y1="113.20" x2="386.60" y2="114.80" stroke="#333" stroke-width="0.8"/>
<text x="385.40" y="121.90" font-size="5.4" text-anchor="middle" font-family="'Liberation Serif', serif" fill="#4d4d4d" stroke="#4d4d4d" stroke-width="0.14">0.25</text>
<line x1="408.80" y1="113.20" x2="408.80" y2="114.80" stroke="#333" stroke-width="0.8"/>
<text x="407.60" y="121.90" font-size="5.4" text-anchor="middle" font-family="'Liberation Serif', serif" fill="#4d4d4d" stroke="#4d4d4d" stroke-width="0.14">0.50</text>
<line x1="431.00" y1="113.20" x2="431.00" y2="114.80" stroke="#333" stroke-width="0.8"/>
<text x="429.80" y="121.90" font-size="5.4" text-anchor="middle" font-family="'Liberation Serif', serif" fill="#4d4d4d" stroke="#4d4d4d" stroke-width="0.14">0.75</text>
<line x1="453.20" y1="113.20" x2="453.20" y2="114.80" stroke="#333" stroke-width="0.8"/>
<text x="451.20" y="121.90" font-size="5.4" text-anchor="middle" font-family="'Liberation Serif', serif" fill="#4d4d4d" stroke="#4d4d4d" stroke-width="0.14">1.00</text>
<rect x="459.00" y="16.00" width="85.60" height="9.20" fill="#d9d9d9" stroke="#3a3a3a" stroke-width="0.7"/>
<text x="501.80" y="22.50" font-size="4.95" text-anchor="middle" font-family="'Liberation Sans', sans-serif" fill="#1a1a1a" stroke="#1a1a1a" stroke-width="0.04">MCPCOUNTER</text>
<rect x="459.00" y="25.20" width="85.60" height="88.00" fill="#fff" stroke="none" stroke-width="1"/>
<clipPath id="cp21"><rect x="459.00" y="25.20" width="85.60" height="88.00"/></clipPath>
<g clip-path="url(#cp21)">
<line x1="474.25" y1="25.20" x2="474.25" y2="113.20" stroke="#f2f2f2" stroke-width="0.4"/>
<line x1="497.95" y1="25.20" x2="497.95" y2="113.20" stroke="#f2f2f2" stroke-width="0.4"/>
<line x1="521.65" y1="25.20" x2="521.65" y2="113.20" stroke="#f2f2f2" stroke-width="0.4"/>
<line x1="545.35" y1="25.20" x2="545.35" y2="113.20" stroke="#f2f2f2" stroke-width="0.4"/>
<line x1="459.00" y1="117.15" x2="544.60" y2="117.15" stroke="#f2f2f2" stroke-width="0.4"/>
<line x1="459.00" y1="95.85" x2="544.60" y2="95.85" stroke="#f2f2f2" stroke-width="0.4"/>
<line x1="459.00" y1="74.55" x2="544.60" y2="74.55" stroke="#f2f2f2" stroke-width="0.4"/>
<line x1="459.00" y1="53.25" x2="544.60" y2="53.25" stroke="#f2f2f2" stroke-width="0.4"/>
<line x1="459.00" y1="31.95" x2="544.60" y2="31.95" stroke="#f2f2f2" stroke-width="0.4"/>
<line x1="462.40" y1="25.20" x2="462.40" y2="113.20" stroke="#e6e6e6" stroke-width="0.6"/>
<line x1="486.10" y1="25.20" x2="486.10" y2="113.20" stroke="#e6e6e6" stroke-width="0.6"/>
<line x1="509.80" y1="25.20" x2="509.80" y2="113.20" stroke="#e6e6e6" stroke-width="0.6"/>
<line x1="533.50" y1="25.20" x2="533.50" y2="113.20" stroke="#e6e6e6" stroke-width="0.6"/>
<line x1="459.00" y1="106.50" x2="544.60" y2="106.50" stroke="#e6e6e6" stroke-width="0.6"/>
<line x1="459.00" y1="85.20" x2="544.60" y2="85.20" stroke="#e6e6e6" stroke-width="0.6"/>
<line x1="459.00" y1="63.90" x2="544.60" y2="63.90" stroke="#e6e6e6" stroke-width="0.6"/>
<line x1="459.00" y1="42.60" x2="544.60" y2="42.60" stroke="#e6e6e6" stroke-width="0.6"/>
<path d="M485.0 52.0h0M492.0 53.2h0M498.9 59.0h0M508.9 79.0h0M526.4 47.5h0M537.2 54.5h0M541.5 62.2h0M463.2 56.3h0M466.2 94.9h0M468.8 46.9h0M465.4 40.3h0M463.8 49.4h0M465.7 58.0h0M469.4 53.1h0M469.8 27.7h0M475.5 71.2h0M464.2 69.7h0M462.9 51.1h0M463.1 61.7h0M463.8 92.0h0M465.4 61.6h0M463.8 60.4h0M464.2 76.4h0M464.6 59.8h0M465.6 61.3h0M463.1 87.6h0M462.8 58.4h0M463.4 37.7h0M467.7 41.8h0M466.7 78.4h0M466.7 80.8h0M463.1 64.1h0M464.4 61.1h0M466.2 81.1h0M463.1 74.2h0M475.1 45.1h0M470.3 60.3h0M463.7 51.6h0M464.5 65.0h0M464.4 51.6h0M463.0 71.6h0M463.0 71.5h0M469.0 75.6h0M472.3 87.2h0M463.7 69.8h0M465.0 81.7h0M463.4 70.8h0M462.5 63.2h0M462.7 62.8h0M463.0 60.0h0M464.1 69.7h0M471.0 64.0h0M462.7 50.4h0M463.6 66.8h0M468.5 63.4h0M465.1 95.6h0M463.6 78.8h0M469.6 49.7h0M462.4 76.1h0M471.7 76.8h0M472.1 50.8h0M464.9 80.1h0M469.4 51.1h0M463.9 66.1h0M470.6 71.3h0M466.3 90.4h0M463.7 48.0h0M465.0 87.7h0M469.1 79.4h0M464.5 54.7h0M465.8 80.2h0M472.0 56.7h0M466.5 64.8h0M466.4 67.8h0M473.4 76.3h0M466.7 72.7h0M464.9 61.2h0M462.7 77.6h0M470.2 55.5h0M473.6 59.8h0M463.7 58.0h0M469.5 60.8h0M464.0 57.7h0M463.6 60.1h0M463.5 54.5h0M468.4 59.1h0M464.2 60.7h0M468.7 75.5h0M463.1 87.0h0M465.6 63.9h0M467.0 52.0h0M466.1 76.3h0M462.6 85.4h0M465.4 71.6h0M469.9 59.0h0M465.4 53.7h0M464.3 68.9h0M472.9 77.9h0M463.9 65.7h0M462.7 56.5h0M465.9 65.2h0M463.4 52.2h0M471.0 69.8h0M468.9 52.8h0M463.6 44.2h0M469.4 76.4h0M462.6 76.3h0M471.0 55.1h0M466.0 27.7h0M465.1 58.2h0M462.8 65.5h0M464.8 48.1h0M462.7 66.6h0M463.0 85.7h0M466.2 76.6h0M471.7 46.1h0M464.5 86.2h0M463.8 83.0h0M466.1 54.0h0M468.7 62.0h0M470.2 48.2h0M472.4 76.6h0M463.0 74.5h0M467.8 68.5h0M463.6 80.7h0M468.2 67.0h0M464.2 67.0h0M472.4 52.1h0M463.6 66.1h0M466.2 69.5h0M466.8 58.0h0M463.3 51.0h0M464.9 51.5h0M463.0 61.6h0M470.9 68.2h0M465.7 70.5h0M462.7 81.8h0M464.7 63.9h0M466.0 64.8h0M464.3 43.9h0M467.8 61.3h0M464.5 55.3h0M462.5 48.6h0M466.9 88.1h0M464.8 72.9h0M467.3 67.2h0M463.2 63.5h0M474.8 77.0h0M464.8 53.8h0M464.9 53.2h0M465.4 58.2h0M466.6 55.7h0M472.0 77.1h0M467.3 49.7h0M463.4 72.8h0M466.2 88.4h0M465.9 62.9h0M462.4 59.8h0M463.6 73.7h0M464.6 85.9h0M466.0 79.1h0M473.5 64.8h0M464.2 97.2h0M463.5 51.9h0M468.6 51.2h0M464.9 67.0h0M465.7 51.1h0M463.1 67.2h0M462.5 79.7h0M466.6 56.3h0M464.6 57.6h0M465.6 76.4h0M464.9 82.7h0M465.1 77.2h0M463.4 50.2h0M473.1 66.8h0M464.7 28.9h0M466.0 72.8h0M465.0 57.0h0M468.2 59.9h0M471.5 66.1h0M467.4 53.5h0M463.1 76.0h0M467.6 64.8h0M468.6 78.9h0M468.3 91.8h0M462.8 64.3h0M464.1 79.5h0M467.1 80.8h0M475.1 55.1h0M465.3 66.7h0M463.3 60.1h0M467.4 42.1h0M464.2 62.6h0M464.4 59.0h0M463.8 80.1h0M469.1 53.1h0M467.6 53.2h0M465.4 78.0h0M462.9 56.8h0M463.4 60.9h0M464.1 67.6h0M468.1 62.9h0M468.5 33.0h0M464.0 73.1h0M465.6 68.8h0M464.4 63.5h0M466.0 66.7h0M466.9 87.5h0M465.9 56.2h0M467.4 52.4h0M463.8 42.8h0M463.6 72.2h0M467.4 80.2h0M469.0 55.4h0M469.6 76.8h0M462.9 65.1h0M472.1 68.3h0M463.4 62.6h0M464.1 70.5h0M468.1 55.0h0M471.7 74.9h0M464.0 34.4h0M464.8 54.7h0M464.1 72.8h0M466.0 76.7h0M465.6 66.9h0M466.8 70.2h0M463.8 75.5h0M463.0 47.2h0M466.2 52.0h0M473.5 76.6h0M464.2 57.6h0M472.3 62.8h0M466.1 54.5h0M469.5 72.1h0M465.7 37.2h0M484.2 59.5h0M464.6 39.2h0M462.8 71.1h0M465.4 47.3h0M467.2 65.5h0M467.1 42.8h0M468.0 66.3h0M472.6 76.6h0M468.5 77.6h0M465.3 72.6h0M466.8 56.5h0M463.9 60.0h0M464.1 63.2h0M464.9 51.0h0M475.8 41.3h0M464.1 77.6h0M467.6 51.1h0M469.4 34.0h0M469.0 71.6h0M463.3 72.1h0M466.7 59.0h0M468.0 60.9h0M463.7 71.7h0M462.6 65.9h0M462.7 44.4h0M464.7 52.9h0M463.5 75.2h0M464.0 86.5h0M465.6 78.5h0M470.8 60.9h0M464.7 74.6h0M463.9 75.5h0M466.6 54.9h0M464.3 68.3h0M465.8 69.2h0M468.8 60.9h0M462.9 46.4h0M463.7 60.8h0M464.6 55.8h0M465.7 63.3h0M474.4 42.7h0M469.1 79.3h0M473.7 76.9h0M470.6 69.8h0M464.4 38.7h0M462.9 45.2h0M468.2 77.8h0M462.6 70.8h0M464.5 57.5h0M466.4 63.3h0M473.1 51.4h0M462.7 71.2h0M466.7 85.2h0M473.3 54.8h0M464.4 48.6h0M462.7 84.6h0M465.6 88.3h0M468.0 69.6h0M466.0 88.1h0M465.2 58.9h0M469.6 78.2h0M468.1 54.3h0M464.1 69.0h0M464.8 62.8h0M462.8 56.5h0M472.4 65.4h0M463.5 77.7h0M473.3 50.9h0M467.2 82.7h0M465.7 46.3h0M463.9 72.4h0M469.1 70.3h0M465.9 59.2h0M463.3 59.4h0M465.1 57.9h0M464.3 83.3h0M463.4 76.0h0M464.5 60.1h0M463.5 60.0h0M463.4 65.9h0M462.9 48.3h0M464.5 66.8h0M464.4 52.5h0M463.2 50.9h0M467.7 59.4h0M470.0 65.8h0M467.3 54.4h0M462.6 59.2h0M464.8 56.5h0M466.0 75.2h0M466.8 58.0h0M471.4 42.6h0M466.8 67.6h0M465.6 62.4h0M468.3 66.7h0M466.6 52.8h0M467.9 90.0h0M471.1 42.6h0M464.1 58.0h0M463.2 67.6h0M464.6 60.9h0M476.7 47.4h0M466.4 59.3h0M466.0 55.5h0M465.7 48.8h0M465.0 62.1h0M464.8 54.9h0M463.9 45.7h0M468.8 56.3h0M465.5 72.1h0M472.6 52.8h0M464.0 38.5h0M463.6 68.6h0M466.8 58.1h0M464.6 58.9h0M464.9 53.0h0M466.4 69.1h0M467.5 63.9h0M462.7 39.9h0M463.5 55.7h0M464.4 72.2h0M466.8 53.8h0M466.8 63.0h0M463.5 45.0h0M465.8 84.5h0M466.3 62.6h0M463.4 52.1h0M469.6 79.3h0M462.7 74.2h0M464.3 58.3h0M465.0 63.7h0M467.5 67.5h0M467.1 59.8h0M474.7 79.7h0M463.3 75.2h0M465.2 42.2h0M463.2 72.8h0M467.2 58.2h0M466.3 64.6h0M466.3 53.0h0M465.8 59.8h0M472.4 57.5h0M477.4 46.7h0M463.3 60.4h0M463.7 86.0h0M465.5 72.4h0M466.6 45.8h0M465.9 50.5h0M466.2 66.8h0M466.2 84.0h0M472.1 71.7h0M464.8 37.9h0M476.4 46.5h0M471.8 47.2h0M465.9 84.4h0M468.6 80.5h0M466.6 71.3h0M463.4 81.7h0M463.2 63.1h0M464.8 78.0h0M467.3 57.7h0M464.7 67.1h0M474.0 69.3h0M470.7 54.7h0M463.2 58.9h0M463.2 62.9h0M466.8 68.4h0M467.3 64.3h0M464.7 88.6h0M463.5 89.3h0M465.4 72.7h0M464.8 62.5h0M463.3 42.3h0M462.9 59.6h0M463.5 77.0h0M488.9 65.2h0M462.7 80.7h0M463.0 65.2h0M464.4 65.5h0M465.5 64.6h0M465.0 60.8h0M468.6 50.3h0M464.7 55.7h0M467.8 78.2h0M475.5 51.3h0M472.6 75.4h0M462.6 59.9h0M466.4 62.7h0M463.4 43.4h0M464.0 65.7h0M464.5 65.5h0M465.9 67.5h0M462.7 53.9h0M466.2 60.0h0M463.4 67.9h0M463.3 54.1h0M467.8 37.1h0M471.0 42.4h0M463.3 45.6h0M462.8 71.4h0M470.2 64.2h0M463.2 62.5h0M473.1 83.9h0M466.0 42.3h0M464.7 82.3h0M464.4 59.2h0M462.7 80.2h0M465.8 62.4h0M466.8 53.3h0M465.5 57.4h0M464.2 75.1h0M464.8 72.3h0M465.1 52.4h0M466.8 64.5h0M464.7 62.7h0M467.2 51.8h0M463.2 96.1h0M465.6 60.8h0M462.9 48.7h0M463.4 42.0h0M463.9 55.7h0M469.0 72.4h0M463.1 52.3h0M463.1 40.9h0M464.8 72.1h0M465.0 73.1h0M463.4 66.3h0M464.9 69.3h0M467.4 89.2h0M470.6 92.6h0M464.2 80.7h0M473.4 70.2h0M462.4 59.2h0M466.8 70.3h0M467.6 61.3h0M469.1 46.0h0M464.1 27.7h0M469.6 52.1h0M463.8 76.6h0M472.0 50.1h0M468.5 63.4h0M465.2 59.8h0M464.5 52.1h0M465.2 54.3h0M467.2 80.1h0M474.1 76.5h0M473.6 58.9h0M463.4 55.6h0M468.5 36.9h0M463.0 57.0h0M464.6 68.8h0M465.5 70.1h0M464.0 73.3h0M465.7 80.3h0M462.8 81.0h0M467.3 70.6h0M466.3 62.7h0M462.9 74.3h0M464.5 64.1h0M464.8 67.7h0M462.6 67.6h0M462.9 70.1h0M471.9 59.1h0M465.8 63.8h0M463.8 97.7h0M462.6 61.4h0M468.5 62.1h0M463.8 72.1h0M468.8 61.3h0M470.3 71.8h0M465.3 62.6h0M467.3 74.7h0M474.3 53.7h0M473.0 58.1h0M467.2 81.9h0M465.5 72.9h0M463.7 55.7h0M464.6 59.2h0M463.6 62.8h0M462.5 79.0h0M469.5 71.8h0M464.2 62.3h0M464.2 60.7h0M466.0 64.2h0M466.3 74.4h0" stroke="#333333" stroke-width="2.0" stroke-linecap="round" fill="none" opacity="0.85"/>
<polygon points="462.4,63.5 465.1,63.0 467.8,62.1 470.5,60.9 473.2,59.9 475.9,58.9 478.6,58.0 481.3,57.0 484.0,56.1 486.7,55.2 489.4,54.3 492.1,53.4 494.8,52.5 497.5,51.6 500.2,50.7 502.9,49.9 505.6,49.0 508.2,48.1 510.9,47.3 513.6,46.4 516.3,45.6 519.0,44.8 521.7,43.9 524.4,43.1 527.1,42.3 529.8,41.4 532.5,40.6 535.2,39.8 537.9,38.9 540.6,38.1 540.6,56.9 537.9,57.2 535.2,57.6 532.5,57.9 529.8,58.3 527.1,58.6 524.4,59.0 521.7,59.3 519.0,59.6 516.3,60.0 513.6,60.3 510.9,60.6 508.2,61.0 505.6,61.3 502.9,61.6 500.2,61.9 497.5,62.2 494.8,62.5 492.1,62.8 489.4,63.1 486.7,63.3 484.0,63.6 481.3,63.8 478.6,64.1 475.9,64.3 473.2,64.5 470.5,64.6 467.8,64.7 465.1,64.9 462.4,65.6" fill="#999" opacity="0.45"/>
<line x1="462.40" y1="64.54" x2="540.61" y2="47.50" stroke="#2c5cb4" stroke-width="1.55"/>
</g>
<rect x="459.00" y="25.20" width="85.60" height="88.00" fill="none" stroke="#333" stroke-width="0.8"/>
<text x="514.80" y="33.30" font-size="5.25" text-anchor="start" font-family="'Liberation Serif', serif" fill="#ea3434" stroke="#ea3434" stroke-width="0.06">Rho = 0.271</text>
<text x="514.80" y="39.90" font-size="5.25" text-anchor="start" font-family="'Liberation Serif', serif" fill="#ea3434" stroke="#ea3434" stroke-width="0.06">p = 1.00x10<tspan dy="-1.9" font-size="3.0">−9</tspan></text>
<line x1="462.40" y1="113.20" x2="462.40" y2="114.80" stroke="#333" stroke-width="0.8"/>
<text x="462.10" y="121.90" font-size="5.4" text-anchor="middle" font-family="'Liberation Serif', serif" fill="#4d4d4d" stroke="#4d4d4d" stroke-width="0.14">0</text>
<line x1="486.10" y1="113.20" x2="486.10" y2="114.80" stroke="#333" stroke-width="0.8"/>
<text x="484.90" y="121.90" font-size="5.4" text-anchor="middle" font-family="'Liberation Serif', serif" fill="#4d4d4d" stroke="#4d4d4d" stroke-width="0.14">20000</text>
<line x1="509.80" y1="113.20" x2="509.80" y2="114.80" stroke="#333" stroke-width="0.8"/>
<text x="508.60" y="121.90" font-size="5.4" text-anchor="middle" font-family="'Liberation Serif', serif" fill="#4d4d4d" stroke="#4d4d4d" stroke-width="0.14">40000</text>
<line x1="533.50" y1="113.20" x2="533.50" y2="114.80" stroke="#333" stroke-width="0.8"/>
<text x="532.30" y="121.90" font-size="5.4" text-anchor="middle" font-family="'Liberation Serif', serif" fill="#4d4d4d" stroke="#4d4d4d" stroke-width="0.14">60000</text>
<text transform="translate(407.00 132.95) scale(0.855 1)" font-size="7.5" text-anchor="middle" font-family="'Liberation Serif', serif" fill="#111" stroke="#111" stroke-width="0.12">Purity</text>
<text transform="translate(502.80 132.95) scale(0.855 1)" font-size="7.5" text-anchor="middle" font-family="'Liberation Serif', serif" fill="#111" stroke="#111" stroke-width="0.12">Infiltration Level</text>
<text x="141.00" y="193.70" font-size="5.6" text-anchor="middle" font-family="'Liberation Serif', serif" fill="#333" stroke="#333" stroke-width="0.05" transform="rotate(-90 141.00 193.70)">HSP90B1 Expression Level (log2 TPM)</text>
<line x1="151.40" y1="231.60" x2="153.00" y2="231.60" stroke="#333" stroke-width="0.8"/>
<text x="150.60" y="233.40" font-size="5.2" text-anchor="end" font-family="'Liberation Serif', serif" fill="#4d4d4d" stroke="#4d4d4d" stroke-width="0.14">7</text>
<line x1="151.40" y1="210.30" x2="153.00" y2="210.30" stroke="#333" stroke-width="0.8"/>
<text x="150.60" y="212.10" font-size="5.2" text-anchor="end" font-family="'Liberation Serif', serif" fill="#4d4d4d" stroke="#4d4d4d" stroke-width="0.14">8</text>
<line x1="151.40" y1="189.00" x2="153.00" y2="189.00" stroke="#333" stroke-width="0.8"/>
<text x="150.60" y="190.80" font-size="5.2" text-anchor="end" font-family="'Liberation Serif', serif" fill="#4d4d4d" stroke="#4d4d4d" stroke-width="0.14">9</text>
<line x1="151.40" y1="167.70" x2="153.00" y2="167.70" stroke="#333" stroke-width="0.8"/>
<text x="150.60" y="169.50" font-size="5.2" text-anchor="end" font-family="'Liberation Serif', serif" fill="#4d4d4d" stroke="#4d4d4d" stroke-width="0.14">10</text>
<rect x="153.00" y="150.00" width="8.20" height="87.20" fill="#d9d9d9" stroke="#3a3a3a" stroke-width="0.7"/>
<text x="158.90" y="193.60" font-size="5.6" text-anchor="middle" font-family="'Liberation Serif', serif" fill="#1a1a1a" stroke="#1a1a1a" stroke-width="0.04" transform="rotate(-90 158.90 193.60)">HNSC−HPV−</text>
<rect x="161.20" y="141.00" width="87.40" height="9.00" fill="#d9d9d9" stroke="#3a3a3a" stroke-width="0.7"/>
<text x="204.90" y="147.40" font-size="5.7" text-anchor="middle" font-family="'Liberation Serif', serif" fill="#1a1a1a" stroke="#1a1a1a" stroke-width="0.04">Purity</text>
<rect x="161.20" y="150.00" width="87.40" height="87.20" fill="#fff" stroke="none" stroke-width="1"/>
<clipPath id="cp30"><rect x="161.20" y="150.00" width="87.40" height="87.20"/></clipPath>
<g clip-path="url(#cp30)">
<line x1="167.45" y1="150.00" x2="167.45" y2="237.20" stroke="#f2f2f2" stroke-width="0.4"/>
<line x1="189.55" y1="150.00" x2="189.55" y2="237.20" stroke="#f2f2f2" stroke-width="0.4"/>
<line x1="211.65" y1="150.00" x2="211.65" y2="237.20" stroke="#f2f2f2" stroke-width="0.4"/>
<line x1="233.75" y1="150.00" x2="233.75" y2="237.20" stroke="#f2f2f2" stroke-width="0.4"/>
<line x1="161.20" y1="242.25" x2="248.60" y2="242.25" stroke="#f2f2f2" stroke-width="0.4"/>
<line x1="161.20" y1="220.95" x2="248.60" y2="220.95" stroke="#f2f2f2" stroke-width="0.4"/>
<line x1="161.20" y1="199.65" x2="248.60" y2="199.65" stroke="#f2f2f2" stroke-width="0.4"/>
<line x1="161.20" y1="178.35" x2="248.60" y2="178.35" stroke="#f2f2f2" stroke-width="0.4"/>
<line x1="161.20" y1="157.05" x2="248.60" y2="157.05" stroke="#f2f2f2" stroke-width="0.4"/>
<line x1="178.50" y1="150.00" x2="178.50" y2="237.20" stroke="#e6e6e6" stroke-width="0.6"/>
<line x1="200.60" y1="150.00" x2="200.60" y2="237.20" stroke="#e6e6e6" stroke-width="0.6"/>
<line x1="222.70" y1="150.00" x2="222.70" y2="237.20" stroke="#e6e6e6" stroke-width="0.6"/>
<line x1="244.80" y1="150.00" x2="244.80" y2="237.20" stroke="#e6e6e6" stroke-width="0.6"/>
<line x1="161.20" y1="231.60" x2="248.60" y2="231.60" stroke="#e6e6e6" stroke-width="0.6"/>
<line x1="161.20" y1="210.30" x2="248.60" y2="210.30" stroke="#e6e6e6" stroke-width="0.6"/>
<line x1="161.20" y1="189.00" x2="248.60" y2="189.00" stroke="#e6e6e6" stroke-width="0.6"/>
<line x1="161.20" y1="167.70" x2="248.60" y2="167.70" stroke="#e6e6e6" stroke-width="0.6"/>
<path d="M230.5 195.5h0M187.2 187.5h0M233.6 187.4h0M208.2 170.0h0M201.0 181.8h0M222.7 223.5h0M188.6 208.0h0M188.8 199.0h0M201.1 191.7h0M220.3 187.5h0M172.8 180.4h0M221.2 208.9h0M239.2 215.6h0M235.0 178.4h0M219.1 200.5h0M183.9 217.2h0M204.2 200.0h0M178.3 193.7h0M199.9 203.2h0M228.6 202.7h0M226.1 175.8h0M225.9 201.9h0M213.2 184.5h0M232.9 185.6h0M209.0 192.7h0M237.5 159.2h0M167.9 205.0h0M196.0 156.4h0M176.0 200.1h0M168.6 191.6h0M233.2 184.5h0M205.4 174.6h0M233.1 179.6h0M234.7 192.6h0M228.7 192.6h0M209.8 173.7h0M234.0 169.3h0M197.7 194.8h0M178.6 173.1h0M220.5 181.2h0M229.5 185.0h0M216.4 201.8h0M239.2 203.7h0M191.9 182.8h0M204.0 222.5h0M244.2 194.3h0M225.1 182.9h0M225.3 208.8h0M197.9 168.0h0M208.0 167.6h0M194.4 201.2h0M229.1 189.5h0M188.8 189.7h0M191.6 194.8h0M202.3 194.1h0M179.1 182.1h0M236.9 167.5h0M182.2 187.0h0M228.6 186.8h0M187.8 186.4h0M211.3 196.6h0M226.8 180.3h0M181.7 194.2h0M180.1 200.2h0M180.3 180.0h0M196.3 211.1h0M220.7 194.3h0M230.4 192.9h0M189.9 189.7h0M189.0 207.0h0M177.3 199.7h0M174.9 189.8h0M185.4 180.6h0M185.3 189.4h0M214.8 190.6h0M198.5 198.3h0M218.4 187.7h0M208.7 222.4h0M231.1 180.0h0M206.8 176.1h0M227.6 188.2h0M200.0 200.0h0M243.1 171.6h0M209.7 196.3h0M236.7 171.4h0M183.6 191.3h0M233.9 197.4h0M180.0 190.6h0M210.7 196.4h0M224.7 190.0h0M181.7 181.9h0M225.6 191.2h0M196.0 193.6h0M205.7 188.2h0M200.2 183.2h0M207.3 187.9h0M172.7 181.3h0M192.6 180.8h0M185.9 184.4h0M235.7 179.2h0M195.0 187.8h0M237.0 174.0h0M179.8 183.0h0M209.4 177.7h0M212.1 190.3h0M186.2 205.3h0M214.0 193.4h0M208.5 187.4h0M193.2 183.4h0M180.7 188.4h0M192.0 169.9h0M232.1 203.8h0M234.1 209.5h0M219.1 190.1h0M240.9 196.2h0M197.5 187.6h0M218.8 179.9h0M198.4 154.9h0M215.6 204.0h0M204.8 201.0h0M226.3 188.6h0M219.6 205.9h0M212.7 197.2h0M210.2 172.3h0M195.3 188.7h0M209.0 188.3h0M204.1 174.5h0M217.3 208.7h0M230.2 186.4h0M231.4 188.5h0M191.1 184.7h0M240.8 200.0h0M240.8 193.2h0M181.4 189.2h0M193.8 179.0h0M224.4 196.7h0M205.3 180.5h0M169.8 213.7h0M186.7 182.8h0M219.2 178.5h0M221.0 199.0h0M195.9 191.5h0M207.0 188.0h0M197.5 184.4h0M219.5 173.4h0M166.6 185.6h0M222.9 190.7h0M219.5 190.3h0M198.0 184.6h0M210.2 178.5h0M202.6 184.8h0M219.3 194.6h0M228.4 192.0h0M234.7 197.5h0M212.2 198.4h0M239.3 193.8h0M193.0 194.9h0M196.6 178.7h0M184.1 202.3h0M201.0 187.1h0M220.7 202.1h0M167.4 178.4h0M187.8 184.3h0M227.4 172.7h0M197.1 181.4h0M198.2 200.2h0M218.5 187.5h0M192.8 195.5h0M207.8 194.2h0M230.8 200.2h0M207.4 191.6h0M193.8 186.8h0M198.9 185.4h0M234.9 158.1h0M229.3 189.9h0M168.5 186.9h0M183.8 189.0h0M234.4 191.0h0M242.2 191.5h0M175.2 187.3h0M209.2 190.3h0M242.1 179.1h0M197.6 182.8h0M225.2 198.4h0M233.3 187.9h0M191.5 184.2h0M224.9 191.2h0M205.3 190.7h0M244.6 189.0h0M196.4 180.6h0M203.4 185.8h0M196.2 194.3h0M230.7 188.5h0M201.5 173.2h0M212.9 199.3h0M221.0 180.1h0M239.5 190.8h0M207.9 154.9h0M205.3 180.4h0M221.4 187.3h0M172.0 189.2h0M202.5 205.9h0M220.9 194.0h0M185.8 164.1h0M201.8 183.6h0M196.9 191.3h0M216.1 188.0h0M217.6 187.4h0M216.7 199.2h0M227.8 186.6h0M181.3 181.9h0M191.2 205.4h0M213.1 190.7h0M224.4 220.3h0M241.4 207.8h0M198.2 178.0h0M227.5 173.4h0M213.5 165.9h0M207.2 203.2h0M193.1 188.9h0M208.7 191.8h0M229.6 175.3h0M237.4 184.1h0M196.9 186.9h0M178.5 180.8h0M201.2 193.2h0M223.6 176.4h0M202.6 191.9h0M232.2 174.9h0M226.4 185.7h0M181.2 185.1h0M178.7 201.3h0M206.1 206.0h0M206.2 206.4h0M201.7 182.1h0M216.8 213.2h0M209.7 171.8h0M219.3 191.7h0M211.3 203.7h0M178.9 183.8h0M203.1 202.5h0M199.5 187.4h0M231.3 191.0h0M229.1 173.8h0M225.9 177.3h0M223.4 176.8h0M214.2 193.3h0M201.7 173.2h0M176.4 188.7h0M223.4 186.5h0M203.3 182.7h0M192.2 184.7h0M228.0 203.6h0M215.0 180.3h0M210.0 206.5h0M242.6 182.4h0M208.9 188.7h0M223.9 187.0h0M193.1 200.7h0M205.0 176.2h0M188.1 189.6h0M222.3 177.9h0M197.8 196.5h0M240.8 196.3h0M200.6 187.1h0M231.0 175.8h0M204.6 203.4h0M207.4 194.7h0M186.8 193.8h0M193.3 191.1h0M197.9 193.3h0M229.3 175.3h0M223.0 179.6h0M224.5 187.6h0M188.8 178.0h0M224.5 175.8h0M219.9 195.1h0M240.2 196.4h0M231.6 179.7h0M213.8 162.9h0M198.3 215.7h0M187.9 195.2h0M199.3 178.7h0M188.4 197.3h0M196.5 177.7h0M226.5 185.2h0M205.6 202.6h0M209.2 193.3h0M231.2 183.5h0M198.2 198.4h0M215.4 181.0h0M232.4 184.2h0M214.6 191.5h0M181.7 183.3h0M219.8 192.1h0M230.2 185.3h0M237.7 199.6h0M175.3 171.3h0M227.7 191.0h0M199.2 174.2h0M198.7 162.7h0M193.8 169.3h0M222.7 188.1h0M204.4 186.0h0M186.9 188.4h0M206.9 184.2h0M221.7 197.6h0M171.0 209.2h0M201.9 184.1h0M235.9 187.3h0M230.6 169.8h0M197.3 166.6h0M237.1 204.0h0M220.2 198.8h0M168.1 178.7h0M238.0 174.0h0M201.4 186.4h0M228.4 187.2h0M195.3 209.6h0M189.3 160.9h0M210.3 196.1h0M223.2 181.2h0M239.6 183.8h0M204.7 198.4h0M202.4 177.8h0M222.8 170.6h0M209.7 188.4h0M214.2 186.2h0M199.5 180.1h0M238.1 176.3h0M200.4 177.7h0M203.2 198.3h0M227.9 198.9h0M202.0 194.4h0M244.4 219.7h0M212.2 203.5h0M224.2 190.2h0M215.4 195.7h0M239.2 197.8h0M186.9 177.4h0M239.2 183.9h0M232.8 178.2h0M217.1 189.9h0M240.7 192.8h0M220.4 198.1h0M235.4 185.0h0M196.5 209.2h0M227.2 198.2h0M222.4 181.0h0M194.4 177.8h0M193.0 188.6h0M225.1 201.5h0M210.9 181.2h0M195.0 196.6h0M234.8 189.3h0M210.0 199.3h0M212.7 166.4h0M179.1 170.3h0M233.1 197.9h0M172.6 201.7h0M190.4 188.5h0M181.2 180.5h0M186.7 173.1h0M206.5 188.6h0M222.9 202.5h0M204.3 184.4h0M217.1 184.8h0M232.2 206.7h0M191.7 191.0h0M224.7 191.4h0M186.1 199.5h0M183.3 185.3h0M212.3 175.5h0M199.1 176.0h0M176.2 198.4h0M204.4 194.8h0M192.5 179.8h0M204.6 191.8h0M182.4 192.0h0M177.9 161.9h0M200.3 218.2h0M200.3 195.6h0M221.0 197.8h0M227.0 188.5h0M189.7 167.8h0M214.8 189.6h0M184.1 191.3h0M182.6 186.1h0M197.3 191.5h0M198.1 183.4h0M209.4 157.9h0M218.6 196.0h0M209.4 190.3h0M207.4 188.8h0M224.6 212.7h0M177.5 180.8h0M226.8 188.7h0M233.9 211.1h0M205.3 191.1h0M214.5 186.0h0M228.4 198.5h0M217.3 175.1h0M205.9 194.9h0M216.9 205.5h0M187.0 178.5h0M199.5 189.5h0M198.4 186.3h0M204.2 206.9h0M169.2 204.2h0M209.0 199.9h0M238.1 189.8h0M202.3 189.5h0M214.1 171.7h0M237.5 169.8h0M188.6 186.4h0M212.3 189.1h0M199.4 165.5h0M167.5 187.2h0M211.9 176.0h0M234.2 193.7h0M242.7 189.1h0M223.8 191.2h0" stroke="#333333" stroke-width="2.0" stroke-linecap="round" fill="none" opacity="0.85"/>
<polygon points="165.2,188.1 167.9,188.1 170.6,188.1 173.3,188.1 176.0,188.0 178.7,188.0 181.3,187.9 184.0,187.8 186.7,187.8 189.4,187.7 192.1,187.6 194.7,187.5 197.4,187.4 200.1,187.3 202.8,187.1 205.5,187.0 208.2,186.9 210.8,186.7 213.5,186.5 216.2,186.4 218.9,186.2 221.6,186.0 224.3,185.8 226.9,185.5 229.6,185.3 232.3,185.0 235.0,184.8 237.7,184.5 240.3,184.2 243.0,183.9 243.0,187.7 240.3,187.7 237.7,187.7 235.0,187.7 232.3,187.8 229.6,187.8 226.9,187.8 224.3,187.9 221.6,188.0 218.9,188.1 216.2,188.2 213.5,188.3 210.8,188.4 208.2,188.6 205.5,188.7 202.8,188.9 200.1,189.0 197.4,189.2 194.7,189.4 192.1,189.6 189.4,189.8 186.7,190.0 184.0,190.2 181.3,190.5 178.7,190.7 176.0,190.9 173.3,191.2 170.6,191.4 167.9,191.7 165.2,192.0" fill="#999" opacity="0.45"/>
<line x1="165.24" y1="190.07" x2="243.03" y2="185.80" stroke="#2c5cb4" stroke-width="1.55"/>
</g>
<rect x="161.20" y="150.00" width="87.40" height="87.20" fill="none" stroke="#333" stroke-width="0.8"/>
<text x="217.30" y="158.30" font-size="5.25" text-anchor="start" font-family="'Liberation Serif', serif" fill="#ea3434" stroke="#ea3434" stroke-width="0.06">Rho = 0.064</text>
<text x="217.30" y="164.80" font-size="5.25" text-anchor="start" font-family="'Liberation Serif', serif" fill="#ea3434" stroke="#ea3434" stroke-width="0.06">p = 0.198</text>
<line x1="178.50" y1="237.20" x2="178.50" y2="238.80" stroke="#333" stroke-width="0.8"/>
<text x="177.30" y="245.50" font-size="5.4" text-anchor="middle" font-family="'Liberation Serif', serif" fill="#4d4d4d" stroke="#4d4d4d" stroke-width="0.14">0.25</text>
<line x1="200.60" y1="237.20" x2="200.60" y2="238.80" stroke="#333" stroke-width="0.8"/>
<text x="199.40" y="245.50" font-size="5.4" text-anchor="middle" font-family="'Liberation Serif', serif" fill="#4d4d4d" stroke="#4d4d4d" stroke-width="0.14">0.50</text>
<line x1="222.70" y1="237.20" x2="222.70" y2="238.80" stroke="#333" stroke-width="0.8"/>
<text x="221.50" y="245.50" font-size="5.4" text-anchor="middle" font-family="'Liberation Serif', serif" fill="#4d4d4d" stroke="#4d4d4d" stroke-width="0.14">0.75</text>
<line x1="244.80" y1="237.20" x2="244.80" y2="238.80" stroke="#333" stroke-width="0.8"/>
<text x="242.80" y="245.50" font-size="5.4" text-anchor="middle" font-family="'Liberation Serif', serif" fill="#4d4d4d" stroke="#4d4d4d" stroke-width="0.14">1.00</text>
<rect x="251.60" y="141.00" width="87.00" height="9.00" fill="#d9d9d9" stroke="#3a3a3a" stroke-width="0.7"/>
<text x="298.30" y="147.40" font-size="5.7" text-anchor="middle" font-family="'Liberation Serif', serif" fill="#1a1a1a" stroke="#1a1a1a" stroke-width="0.04">MCPCOUNTER</text>
<rect x="251.60" y="150.00" width="87.00" height="87.20" fill="#fff" stroke="none" stroke-width="1"/>
<clipPath id="cp31"><rect x="251.60" y="150.00" width="87.00" height="87.20"/></clipPath>
<g clip-path="url(#cp31)">
<line x1="266.00" y1="150.00" x2="266.00" y2="237.20" stroke="#f2f2f2" stroke-width="0.4"/>
<line x1="290.00" y1="150.00" x2="290.00" y2="237.20" stroke="#f2f2f2" stroke-width="0.4"/>
<line x1="314.00" y1="150.00" x2="314.00" y2="237.20" stroke="#f2f2f2" stroke-width="0.4"/>
<line x1="338.00" y1="150.00" x2="338.00" y2="237.20" stroke="#f2f2f2" stroke-width="0.4"/>
<line x1="251.60" y1="242.25" x2="338.60" y2="242.25" stroke="#f2f2f2" stroke-width="0.4"/>
<line x1="251.60" y1="220.95" x2="338.60" y2="220.95" stroke="#f2f2f2" stroke-width="0.4"/>
<line x1="251.60" y1="199.65" x2="338.60" y2="199.65" stroke="#f2f2f2" stroke-width="0.4"/>
<line x1="251.60" y1="178.35" x2="338.60" y2="178.35" stroke="#f2f2f2" stroke-width="0.4"/>
<line x1="251.60" y1="157.05" x2="338.60" y2="157.05" stroke="#f2f2f2" stroke-width="0.4"/>
<line x1="254.00" y1="150.00" x2="254.00" y2="237.20" stroke="#e6e6e6" stroke-width="0.6"/>
<line x1="278.00" y1="150.00" x2="278.00" y2="237.20" stroke="#e6e6e6" stroke-width="0.6"/>
<line x1="302.00" y1="150.00" x2="302.00" y2="237.20" stroke="#e6e6e6" stroke-width="0.6"/>
<line x1="326.00" y1="150.00" x2="326.00" y2="237.20" stroke="#e6e6e6" stroke-width="0.6"/>
<line x1="251.60" y1="231.60" x2="338.60" y2="231.60" stroke="#e6e6e6" stroke-width="0.6"/>
<line x1="251.60" y1="210.30" x2="338.60" y2="210.30" stroke="#e6e6e6" stroke-width="0.6"/>
<line x1="251.60" y1="189.00" x2="338.60" y2="189.00" stroke="#e6e6e6" stroke-width="0.6"/>
<line x1="251.60" y1="167.70" x2="338.60" y2="167.70" stroke="#e6e6e6" stroke-width="0.6"/>
<path d="M277.6 176.0h0M285.1 177.3h0M291.9 183.0h0M301.9 203.7h0M330.7 178.6h0M334.5 186.7h0M258.7 202.7h0M256.4 172.6h0M254.9 197.4h0M254.8 176.6h0M254.5 180.0h0M255.6 199.7h0M260.0 213.1h0M258.1 187.3h0M258.2 181.2h0M254.1 175.7h0M261.0 184.3h0M260.5 183.8h0M257.3 198.2h0M261.0 198.6h0M267.7 152.8h0M255.5 175.8h0M260.2 206.5h0M256.0 186.4h0M255.3 184.6h0M258.0 212.9h0M260.5 193.0h0M262.1 181.7h0M256.6 168.8h0M261.8 168.2h0M254.6 195.1h0M254.3 194.7h0M257.9 195.8h0M256.9 187.1h0M261.4 178.0h0M256.6 203.5h0M263.8 190.9h0M262.8 196.4h0M256.8 200.0h0M256.9 196.6h0M255.8 166.7h0M254.4 168.1h0M254.8 171.6h0M255.2 211.8h0M257.2 186.0h0M254.6 159.6h0M257.0 184.6h0M264.7 197.5h0M258.5 182.0h0M257.0 193.3h0M260.0 194.5h0M256.9 186.7h0M257.9 183.6h0M261.7 191.2h0M255.0 190.6h0M256.4 203.3h0M260.0 189.9h0M255.2 181.1h0M256.8 188.8h0M255.5 192.5h0M258.8 208.2h0M256.5 175.5h0M254.7 205.4h0M255.5 181.5h0M258.7 194.3h0M258.1 179.3h0M254.3 177.0h0M261.2 193.1h0M262.8 227.9h0M257.3 216.3h0M254.7 203.0h0M255.6 202.1h0M262.1 185.1h0M255.4 164.7h0M257.4 181.2h0M261.4 190.7h0M258.8 172.1h0M257.6 192.2h0M256.7 178.9h0M258.0 184.9h0M256.7 214.9h0M254.0 178.0h0M268.4 164.7h0M255.5 194.6h0M254.5 180.5h0M257.7 183.0h0M256.7 193.4h0M255.5 195.0h0M255.0 177.4h0M255.3 198.5h0M255.9 197.0h0M258.0 178.7h0M254.1 178.4h0M266.3 167.7h0M258.0 197.1h0M257.3 206.9h0M258.9 175.3h0M266.8 207.5h0M263.9 193.6h0M259.8 192.0h0M268.8 165.1h0M254.3 190.0h0M255.3 205.7h0M255.5 190.4h0M259.7 172.0h0M259.4 212.5h0M255.9 206.9h0M262.1 175.4h0M257.5 188.1h0M255.0 203.3h0M257.0 192.4h0M254.5 189.4h0M262.0 203.5h0M259.3 196.6h0M255.5 171.3h0M258.1 185.4h0M258.5 175.0h0M257.6 190.1h0M261.9 195.9h0M262.8 184.5h0M254.5 202.1h0M256.3 185.2h0M259.5 193.1h0M254.6 194.0h0M259.6 192.6h0M254.0 202.6h0M256.6 172.2h0M257.6 209.0h0M264.5 185.3h0M258.2 205.8h0M262.3 177.0h0M258.3 192.3h0M254.9 187.8h0M261.5 182.7h0M259.9 184.5h0M256.5 187.5h0M255.5 185.3h0M255.5 185.6h0M262.2 194.5h0M265.6 191.7h0M264.9 191.1h0M259.9 198.3h0M257.0 196.7h0M267.0 170.6h0M258.0 208.0h0M256.4 168.2h0M254.6 197.0h0M254.7 182.2h0M260.5 188.9h0M256.2 192.2h0M254.3 183.1h0M264.2 166.4h0M256.8 191.3h0M254.7 190.6h0M259.6 196.1h0M254.6 164.2h0M255.1 175.1h0M254.9 175.8h0M255.2 189.7h0M254.7 214.4h0M254.8 184.0h0M259.5 212.0h0M257.0 197.7h0M256.0 177.5h0M254.6 197.7h0M259.6 197.9h0M264.9 215.3h0M257.6 180.4h0M256.9 184.4h0M255.6 196.2h0M259.6 184.5h0M259.4 209.8h0M258.6 201.3h0M260.7 186.4h0M255.8 178.7h0M255.3 190.5h0M262.8 204.2h0M259.6 195.5h0M259.9 174.8h0M254.9 197.8h0M261.1 185.6h0M262.5 183.0h0M257.1 196.7h0M255.5 189.8h0M258.3 212.4h0M255.3 197.5h0M255.4 189.6h0M261.0 180.8h0M256.2 173.3h0M257.4 195.8h0M257.7 183.6h0M255.6 191.7h0M255.0 200.2h0M256.3 199.9h0M255.2 190.9h0M259.3 189.2h0M264.9 197.7h0M256.8 154.8h0M261.0 189.3h0M256.2 181.5h0M262.9 191.9h0M256.6 154.2h0M255.3 218.7h0M254.4 194.9h0M257.7 187.3h0M260.1 173.9h0M263.4 189.1h0M261.2 201.6h0M257.8 169.6h0M265.4 179.6h0M255.5 193.5h0M260.1 192.4h0M256.3 193.2h0M256.2 188.0h0M262.3 210.6h0M263.8 186.7h0M255.3 198.0h0M264.4 182.1h0M263.6 184.3h0M255.8 203.5h0M257.8 172.5h0M254.5 180.8h0M258.5 201.1h0M256.8 203.3h0M256.1 198.8h0M258.6 185.1h0M255.2 174.2h0M258.1 201.2h0M263.2 198.5h0M267.7 181.0h0M256.7 190.6h0M255.1 191.0h0M256.2 191.6h0M257.6 193.9h0M258.5 167.4h0M254.6 178.0h0M263.8 192.7h0M265.1 172.2h0M258.0 165.7h0M256.1 184.1h0M257.3 186.0h0M264.5 194.6h0M260.8 187.6h0M259.4 186.6h0M254.3 173.9h0M255.5 202.3h0M256.1 210.8h0M254.5 196.9h0M256.4 185.4h0M259.7 214.9h0M258.6 192.2h0M255.7 200.5h0M256.8 204.3h0M254.9 188.7h0M259.5 174.7h0M254.2 207.9h0M254.4 187.6h0M254.1 192.7h0M254.9 182.2h0M261.9 188.9h0M257.3 198.0h0M256.9 178.8h0M258.4 184.3h0M255.7 203.4h0M255.0 215.9h0M261.4 198.1h0M254.5 188.0h0M255.2 180.6h0M255.7 197.6h0M267.7 192.7h0M262.4 211.9h0M256.7 196.0h0M255.6 189.0h0M258.2 197.3h0M258.0 191.2h0M260.6 201.8h0M262.0 200.5h0M254.2 187.3h0M260.7 209.1h0M257.8 189.8h0M260.1 174.4h0M254.6 197.9h0M259.7 195.9h0M256.1 201.0h0M254.9 207.2h0M256.4 197.8h0M260.6 205.7h0M263.9 191.7h0M255.9 197.5h0M256.2 204.9h0M254.2 190.6h0M264.0 176.2h0M255.3 180.7h0M254.2 194.6h0M264.5 189.2h0M270.1 200.9h0M262.3 192.5h0M258.1 181.9h0M260.1 180.2h0M257.2 173.4h0M256.7 209.8h0M255.1 171.2h0M259.8 185.2h0M257.0 171.0h0M254.9 191.0h0M255.1 175.4h0M258.6 190.6h0M254.9 204.5h0M266.1 184.7h0M270.1 194.2h0M258.7 190.8h0M271.2 181.0h0M258.7 180.5h0M255.4 182.8h0M254.0 179.1h0M254.9 210.7h0M263.9 174.5h0M254.8 201.6h0M256.4 189.6h0M260.3 195.1h0M256.4 205.4h0M258.1 179.2h0M260.6 202.8h0M257.1 197.7h0M258.0 172.0h0M256.1 219.4h0M254.6 212.5h0M258.8 178.2h0M258.2 195.6h0M255.7 181.0h0M257.2 190.8h0M256.2 196.9h0M259.9 181.2h0M269.2 197.0h0M260.9 196.8h0M257.1 187.7h0M275.8 200.5h0M254.8 209.3h0M257.5 211.5h0M254.6 179.3h0M256.3 166.4h0M262.5 174.5h0M262.3 197.6h0M257.6 197.1h0M255.1 203.6h0M258.9 190.2h0M254.8 177.9h0M256.8 191.6h0M255.7 191.2h0M263.0 230.3h0M261.7 185.7h0M256.4 206.0h0M254.9 194.2h0M254.5 186.5h0M254.1 189.7h0M257.2 181.1h0M269.2 168.5h0M257.1 219.4h0M255.8 210.5h0M257.2 169.4h0M259.0 183.9h0M255.4 199.9h0M254.8 194.3h0M257.2 190.2h0M255.9 177.2h0M255.4 194.8h0M257.8 190.2h0M255.8 207.6h0M258.3 171.4h0M261.5 183.6h0M258.4 196.0h0M257.8 207.2h0M263.0 189.3h0M258.2 178.8h0M255.8 161.1h0M259.0 165.4h0M255.1 195.4h0M254.8 196.0h0M257.4 202.5h0M254.8 184.7h0M256.1 200.0h0M256.3 182.9h0M255.8 186.2h0M259.9 184.1h0M259.9 201.9h0M255.6 175.6h0M261.9 191.5h0M261.3 204.6h0M256.6 190.6h0M259.8 187.2h0M264.4 187.7h0M260.9 177.1h0M254.0 175.2h0M259.7 160.3h0M254.1 191.8h0M257.5 174.3h0M257.7 222.9h0M261.2 165.0h0M254.5 190.7h0M257.3 173.6h0M257.4 192.8h0M256.8 183.0h0M254.1 182.5h0M254.6 198.2h0M255.4 197.5h0M261.1 226.0h0M255.3 183.1h0M255.4 192.2h0M254.1 193.3h0M259.4 173.6h0M257.2 185.3h0M255.9 187.1h0M257.2 214.0h0M254.4 188.3h0M261.8 192.5h0M256.2 177.4h0M265.5 194.4h0M261.3 204.6h0M260.6 192.0h0M254.0 166.8h0M256.6 201.0h0M258.0 173.1h0" stroke="#333333" stroke-width="2.0" stroke-linecap="round" fill="none" opacity="0.85"/>
<polygon points="254.0,188.4 256.8,188.0 259.5,187.0 262.3,185.9 265.1,184.9 267.9,183.9 270.6,183.0 273.4,182.1 276.2,181.3 279.0,180.4 281.7,179.6 284.5,178.8 287.3,177.9 290.0,177.1 292.8,176.3 295.6,175.5 298.4,174.8 301.1,174.0 303.9,173.2 306.7,172.4 309.4,171.7 312.2,170.9 315.0,170.2 317.8,169.4 320.5,168.6 323.3,167.9 326.1,167.2 328.9,166.4 331.6,165.7 334.4,164.9 334.4,184.1 331.6,184.4 328.9,184.7 326.1,185.0 323.3,185.2 320.5,185.5 317.8,185.8 315.0,186.1 312.2,186.3 309.4,186.6 306.7,186.9 303.9,187.1 301.1,187.4 298.4,187.6 295.6,187.9 292.8,188.1 290.0,188.3 287.3,188.6 284.5,188.8 281.7,189.0 279.0,189.2 276.2,189.4 273.4,189.5 270.6,189.7 267.9,189.8 265.1,189.9 262.3,189.9 259.5,189.8 256.8,189.9 254.0,190.5" fill="#999" opacity="0.45"/>
<line x1="254.00" y1="189.43" x2="334.40" y2="174.52" stroke="#2c5cb4" stroke-width="1.55"/>
</g>
<rect x="251.60" y="150.00" width="87.00" height="87.20" fill="none" stroke="#333" stroke-width="0.8"/>
<text x="307.60" y="158.00" font-size="5.25" text-anchor="start" font-family="'Liberation Serif', serif" fill="#ea3434" stroke="#ea3434" stroke-width="0.06">Rho = 0.264</text>
<text x="307.60" y="163.80" font-size="5.25" text-anchor="start" font-family="'Liberation Serif', serif" fill="#ea3434" stroke="#ea3434" stroke-width="0.06">p = 1.19x10<tspan dy="-1.9" font-size="3.0">−7</tspan></text>
<line x1="254.00" y1="237.20" x2="254.00" y2="238.80" stroke="#333" stroke-width="0.8"/>
<text x="253.70" y="245.50" font-size="5.4" text-anchor="middle" font-family="'Liberation Serif', serif" fill="#4d4d4d" stroke="#4d4d4d" stroke-width="0.14">0</text>
<line x1="278.00" y1="237.20" x2="278.00" y2="238.80" stroke="#333" stroke-width="0.8"/>
<text x="276.80" y="245.50" font-size="5.4" text-anchor="middle" font-family="'Liberation Serif', serif" fill="#4d4d4d" stroke="#4d4d4d" stroke-width="0.14">20000</text>
<line x1="302.00" y1="237.20" x2="302.00" y2="238.80" stroke="#333" stroke-width="0.8"/>
<text x="300.80" y="245.50" font-size="5.4" text-anchor="middle" font-family="'Liberation Serif', serif" fill="#4d4d4d" stroke="#4d4d4d" stroke-width="0.14">40000</text>
<line x1="326.00" y1="237.20" x2="326.00" y2="238.80" stroke="#333" stroke-width="0.8"/>
<text x="324.80" y="245.50" font-size="5.4" text-anchor="middle" font-family="'Liberation Serif', serif" fill="#4d4d4d" stroke="#4d4d4d" stroke-width="0.14">60000</text>
<text transform="translate(199.40 255.75) scale(0.855 1)" font-size="7.5" text-anchor="middle" font-family="'Liberation Serif', serif" fill="#111" stroke="#111" stroke-width="0.12">Purity</text>
<text transform="translate(296.00 255.75) scale(0.855 1)" font-size="7.5" text-anchor="middle" font-family="'Liberation Serif', serif" fill="#111" stroke="#111" stroke-width="0.12">Infiltration Level</text>
<text x="348.20" y="194.30" font-size="5.6" text-anchor="middle" font-family="'Liberation Serif', serif" fill="#333" stroke="#333" stroke-width="0.05" transform="rotate(-90 348.20 194.30)">HSP90B1 Expression Level (log2 TPM)</text>
<line x1="360.40" y1="219.20" x2="362.00" y2="219.20" stroke="#333" stroke-width="0.8"/>
<text x="359.60" y="221.00" font-size="5.2" text-anchor="end" font-family="'Liberation Serif', serif" fill="#4d4d4d" stroke="#4d4d4d" stroke-width="0.14">8</text>
<line x1="360.40" y1="199.60" x2="362.00" y2="199.60" stroke="#333" stroke-width="0.8"/>
<text x="359.60" y="201.40" font-size="5.2" text-anchor="end" font-family="'Liberation Serif', serif" fill="#4d4d4d" stroke="#4d4d4d" stroke-width="0.14">9</text>
<line x1="360.40" y1="180.00" x2="362.00" y2="180.00" stroke="#333" stroke-width="0.8"/>
<text x="359.60" y="181.80" font-size="5.2" text-anchor="end" font-family="'Liberation Serif', serif" fill="#4d4d4d" stroke="#4d4d4d" stroke-width="0.14">10</text>
<line x1="360.40" y1="160.40" x2="362.00" y2="160.40" stroke="#333" stroke-width="0.8"/>
<text x="359.60" y="162.20" font-size="5.2" text-anchor="end" font-family="'Liberation Serif', serif" fill="#4d4d4d" stroke="#4d4d4d" stroke-width="0.14">11</text>
<rect x="362.00" y="150.00" width="7.80" height="87.20" fill="#d9d9d9" stroke="#3a3a3a" stroke-width="0.7"/>
<text x="367.70" y="193.60" font-size="5.8" text-anchor="middle" font-family="'Liberation Serif', serif" fill="#1a1a1a" stroke="#1a1a1a" stroke-width="0.04" transform="rotate(-90 367.70 193.60)">PRAD</text>
<rect x="369.80" y="141.00" width="87.20" height="9.00" fill="#d9d9d9" stroke="#3a3a3a" stroke-width="0.7"/>
<text x="413.40" y="147.40" font-size="5.7" text-anchor="middle" font-family="'Liberation Serif', serif" fill="#1a1a1a" stroke="#1a1a1a" stroke-width="0.04">Purity</text>
<rect x="369.80" y="150.00" width="87.20" height="87.20" fill="#fff" stroke="none" stroke-width="1"/>
<clipPath id="cp40"><rect x="369.80" y="150.00" width="87.20" height="87.20"/></clipPath>
<g clip-path="url(#cp40)">
<line x1="380.35" y1="150.00" x2="380.35" y2="237.20" stroke="#f2f2f2" stroke-width="0.4"/>
<line x1="401.65" y1="150.00" x2="401.65" y2="237.20" stroke="#f2f2f2" stroke-width="0.4"/>
<line x1="422.95" y1="150.00" x2="422.95" y2="237.20" stroke="#f2f2f2" stroke-width="0.4"/>
<line x1="444.25" y1="150.00" x2="444.25" y2="237.20" stroke="#f2f2f2" stroke-width="0.4"/>
<line x1="369.80" y1="229.00" x2="457.00" y2="229.00" stroke="#f2f2f2" stroke-width="0.4"/>
<line x1="369.80" y1="209.40" x2="457.00" y2="209.40" stroke="#f2f2f2" stroke-width="0.4"/>
<line x1="369.80" y1="189.80" x2="457.00" y2="189.80" stroke="#f2f2f2" stroke-width="0.4"/>
<line x1="369.80" y1="170.20" x2="457.00" y2="170.20" stroke="#f2f2f2" stroke-width="0.4"/>
<line x1="369.80" y1="150.60" x2="457.00" y2="150.60" stroke="#f2f2f2" stroke-width="0.4"/>
<line x1="391.00" y1="150.00" x2="391.00" y2="237.20" stroke="#e6e6e6" stroke-width="0.6"/>
<line x1="412.30" y1="150.00" x2="412.30" y2="237.20" stroke="#e6e6e6" stroke-width="0.6"/>
<line x1="433.60" y1="150.00" x2="433.60" y2="237.20" stroke="#e6e6e6" stroke-width="0.6"/>
<line x1="454.90" y1="150.00" x2="454.90" y2="237.20" stroke="#e6e6e6" stroke-width="0.6"/>
<line x1="369.80" y1="219.20" x2="457.00" y2="219.20" stroke="#e6e6e6" stroke-width="0.6"/>
<line x1="369.80" y1="199.60" x2="457.00" y2="199.60" stroke="#e6e6e6" stroke-width="0.6"/>
<line x1="369.80" y1="180.00" x2="457.00" y2="180.00" stroke="#e6e6e6" stroke-width="0.6"/>
<line x1="369.80" y1="160.40" x2="457.00" y2="160.40" stroke="#e6e6e6" stroke-width="0.6"/>
<path d="M409.3 194.0h0M426.7 172.6h0M417.1 183.2h0M417.6 188.8h0M387.5 178.0h0M423.9 185.8h0M384.3 175.5h0M374.0 169.3h0M391.8 184.8h0M401.1 193.0h0M452.1 199.3h0M453.5 167.7h0M420.9 182.5h0M414.6 193.1h0M430.0 187.7h0M385.3 198.8h0M379.1 172.3h0M385.5 183.4h0M427.4 190.6h0M396.0 202.5h0M425.9 164.0h0M386.2 185.4h0M426.8 210.5h0M392.0 192.9h0M428.3 187.0h0M446.9 185.1h0M431.9 198.4h0M388.8 174.3h0M428.7 180.4h0M442.9 186.2h0M382.3 193.8h0M453.9 205.8h0M405.6 191.6h0M430.3 188.9h0M379.9 199.4h0M426.2 183.5h0M439.1 178.2h0M421.5 191.8h0M454.2 191.1h0M408.4 186.9h0M380.8 168.9h0M422.1 171.4h0M435.0 204.5h0M439.2 192.0h0M389.0 159.3h0M394.4 190.2h0M416.9 167.9h0M436.3 181.3h0M430.1 173.1h0M452.5 190.5h0M383.1 185.7h0M384.1 180.8h0M446.7 186.8h0M420.1 187.2h0M389.2 171.3h0M427.0 188.4h0M416.5 172.4h0M447.9 193.1h0M447.9 190.0h0M446.2 178.8h0M413.3 181.1h0M454.4 176.2h0M448.1 186.2h0M417.9 186.9h0M424.2 191.7h0M383.2 203.5h0M396.6 191.1h0M392.7 175.5h0M389.3 187.3h0M388.5 184.4h0M401.8 173.2h0M386.6 196.5h0M450.3 182.9h0M394.8 192.6h0M395.0 174.5h0M386.5 202.3h0M453.7 190.4h0M433.7 192.1h0M413.1 190.2h0M412.7 192.6h0M384.1 166.5h0M385.4 188.9h0M388.5 188.2h0M408.1 202.0h0M384.5 200.8h0M394.3 194.7h0M445.4 199.6h0M440.1 181.1h0M408.7 192.8h0M391.9 191.4h0M387.0 188.1h0M385.4 196.3h0M382.8 200.1h0M425.2 193.8h0M419.2 184.4h0M413.5 187.8h0M396.4 195.7h0M399.0 169.6h0M389.8 182.7h0M437.5 179.5h0M424.3 170.2h0M382.1 196.4h0M415.7 176.4h0M389.1 183.9h0M377.8 183.5h0M396.7 202.8h0M445.4 195.2h0M378.1 186.5h0M442.7 187.1h0M446.8 170.1h0M430.4 190.6h0M425.9 183.9h0M396.8 189.9h0M432.6 200.4h0M449.8 190.2h0M390.6 185.5h0M440.9 168.1h0M434.8 173.3h0M450.9 192.3h0M400.3 196.1h0M385.7 186.8h0M389.2 192.5h0M404.9 160.3h0M374.3 177.5h0M442.1 187.1h0M413.4 192.2h0M386.1 197.8h0M428.3 187.5h0M424.4 213.8h0M441.6 190.6h0M448.4 191.3h0M445.9 170.3h0M448.0 205.1h0M421.6 176.8h0M431.3 190.0h0M394.9 178.2h0M384.5 194.3h0M435.3 182.1h0M414.7 177.5h0M431.4 159.3h0M426.5 195.0h0M439.4 187.8h0M430.4 187.5h0M421.7 192.7h0M418.2 187.4h0M388.7 186.1h0M410.9 190.0h0M436.2 204.6h0M434.8 183.6h0M416.1 201.8h0M391.6 187.3h0M388.0 175.7h0M400.0 199.9h0M388.4 187.8h0M396.1 184.3h0M430.0 186.9h0M437.8 191.3h0M380.1 186.2h0M403.5 179.2h0M440.8 197.1h0M427.7 188.1h0M430.7 178.8h0M391.3 192.7h0M385.3 199.1h0M428.3 178.3h0M437.3 179.0h0M452.6 176.2h0M441.0 186.5h0M400.9 193.2h0M392.4 170.3h0M423.9 173.2h0M385.9 177.9h0M396.9 191.6h0M386.5 185.1h0M402.8 195.6h0M388.2 197.4h0M451.3 185.3h0M387.8 182.9h0M452.9 180.4h0M446.0 185.2h0M380.7 164.7h0M381.3 196.7h0M392.3 172.4h0M434.8 190.6h0M397.5 176.4h0M398.6 196.0h0M393.3 163.0h0M434.4 171.1h0M392.6 203.2h0M382.4 172.4h0M390.2 184.3h0M382.7 176.6h0M379.7 186.2h0M435.0 187.6h0M449.2 200.8h0M453.7 191.1h0M397.8 186.4h0M453.6 203.8h0M428.7 196.5h0M437.2 186.0h0M454.4 181.4h0M417.8 190.9h0M387.3 171.3h0M431.7 191.5h0M437.7 179.5h0M454.6 172.1h0M410.5 194.3h0M388.0 173.8h0M376.8 187.4h0M388.9 195.0h0M387.2 168.9h0M388.2 168.6h0M438.7 189.2h0M416.6 174.6h0M390.0 175.4h0M414.4 186.1h0M428.2 162.6h0M400.5 187.1h0M416.5 192.8h0M389.1 185.5h0M419.5 187.0h0M453.1 190.4h0M377.2 188.8h0M414.1 200.0h0M383.6 179.3h0M397.9 200.2h0M444.3 174.1h0M421.3 178.4h0M416.6 189.9h0M404.6 189.8h0M447.4 192.7h0M394.8 185.7h0M397.2 167.1h0M404.0 182.2h0M449.5 190.2h0M395.5 167.1h0M435.1 189.9h0M399.6 189.4h0M445.7 162.9h0M444.1 178.6h0M427.7 172.9h0M446.4 179.1h0M438.2 179.9h0M400.7 178.4h0M450.0 177.5h0M436.2 162.2h0M414.8 198.0h0M454.2 210.9h0M421.2 188.6h0M438.5 201.4h0M391.9 184.0h0M396.7 198.3h0M448.8 185.3h0M402.4 173.9h0M424.4 191.1h0M386.4 193.5h0M413.7 177.2h0M412.7 193.7h0M416.1 186.5h0M450.2 187.2h0M419.4 199.3h0M398.6 175.6h0M379.0 197.3h0M420.5 176.1h0M452.0 181.6h0M446.2 197.0h0M389.0 189.4h0M424.5 176.5h0M438.6 188.7h0M379.3 162.2h0M404.3 196.2h0M443.3 173.0h0M453.9 203.3h0M425.2 188.4h0M385.0 175.1h0M420.8 206.1h0M390.7 182.8h0M430.4 197.5h0M436.0 199.9h0M378.4 193.6h0M423.1 191.6h0M383.2 191.1h0M429.7 192.2h0M415.8 195.0h0M420.8 213.7h0M447.8 171.4h0M382.2 163.3h0M393.4 181.0h0M388.3 188.9h0M435.6 196.4h0M452.9 182.9h0M446.0 182.8h0M417.9 195.5h0M445.5 187.8h0M423.3 177.9h0M438.2 182.7h0M413.5 186.4h0M429.2 184.5h0M429.4 193.7h0M435.7 186.5h0M380.1 185.1h0M419.0 193.8h0M410.0 187.2h0M429.8 176.1h0M399.4 174.8h0M380.7 209.3h0M444.3 201.3h0M414.8 175.2h0M417.2 181.3h0M412.7 181.2h0M435.3 200.8h0M436.3 185.1h0M454.2 179.7h0M425.3 181.3h0M418.8 193.7h0M451.3 192.1h0M420.1 182.6h0M438.3 183.9h0M390.4 172.0h0M397.0 210.2h0M416.5 192.3h0M415.3 172.7h0M419.8 198.2h0M449.6 184.8h0M434.0 170.5h0M395.9 196.7h0M382.9 182.4h0M451.4 165.3h0M451.7 199.6h0M388.6 207.2h0M404.6 174.6h0M452.6 191.1h0M410.6 186.5h0M432.9 185.2h0M384.3 172.7h0M374.4 189.0h0M388.9 175.3h0M434.9 177.7h0M406.9 186.0h0M383.2 174.6h0M434.4 182.7h0M382.3 186.9h0M380.4 156.5h0M449.8 207.4h0M395.8 198.4h0M450.8 196.9h0M446.1 190.5h0M380.4 184.1h0M389.2 188.4h0M444.6 161.6h0M395.4 191.5h0M419.2 197.6h0M427.7 185.8h0M435.5 190.7h0M441.5 191.3h0M432.4 176.1h0M438.5 182.6h0M443.4 173.9h0M386.7 197.5h0M389.2 179.5h0M432.0 185.9h0M397.5 192.7h0M419.3 203.0h0M436.6 186.9h0M419.8 198.6h0M411.9 178.3h0M435.2 181.2h0M437.3 180.9h0M385.1 156.5h0M445.0 172.4h0M387.8 207.9h0M378.6 179.7h0M374.6 183.8h0M444.4 183.8h0M448.6 191.5h0M385.7 176.2h0M401.1 216.5h0M425.8 200.5h0M429.3 179.5h0M454.5 184.1h0M446.7 176.2h0M446.8 190.2h0M453.6 191.9h0M450.3 177.7h0M386.4 184.4h0M422.7 204.8h0M446.0 176.0h0M385.3 197.9h0M428.3 176.6h0M454.7 184.1h0M419.8 179.9h0M414.0 175.1h0M388.3 197.1h0M426.5 179.1h0M416.0 186.8h0M450.9 188.9h0M424.4 186.1h0M447.6 191.6h0M452.8 185.7h0M428.7 183.5h0M407.3 193.1h0M390.2 174.4h0M388.0 185.1h0M392.0 198.1h0M395.2 181.2h0M406.4 180.5h0M379.1 201.6h0M378.5 183.0h0M430.9 190.2h0M420.8 183.4h0M390.1 188.0h0M437.5 182.0h0M383.4 184.2h0M442.3 210.7h0M379.8 185.3h0M383.3 180.2h0M414.0 178.4h0M433.7 172.8h0M432.4 182.5h0M383.0 172.0h0M382.2 176.9h0M408.9 191.3h0M424.4 193.7h0M435.5 172.4h0M406.7 178.6h0M454.4 205.1h0M389.2 197.6h0M380.1 173.6h0M415.0 184.4h0M380.6 204.8h0M442.6 181.4h0M384.0 175.4h0M398.4 179.1h0M404.8 186.7h0M411.3 188.3h0M454.2 191.9h0M432.1 191.7h0M437.8 183.2h0M396.5 158.9h0M435.5 158.1h0M416.4 188.0h0M447.6 202.2h0M429.9 187.2h0M435.7 189.2h0M426.0 188.9h0M421.1 204.2h0M423.0 186.9h0M431.2 193.2h0M389.9 185.7h0M385.8 202.9h0M423.6 185.8h0M388.3 199.3h0M391.5 195.2h0M388.8 193.2h0M438.2 192.1h0M404.4 192.1h0M380.4 192.3h0M413.7 192.9h0M445.8 193.8h0M384.5 192.4h0M388.4 190.0h0M437.2 165.8h0M450.1 176.2h0M381.1 192.7h0M379.9 201.0h0M430.6 173.9h0M422.3 186.3h0M386.3 182.4h0M377.3 173.6h0M387.6 206.9h0M392.5 192.8h0M443.3 184.2h0M433.4 171.1h0M399.6 187.1h0M385.8 185.3h0M393.3 186.6h0M452.7 186.6h0M417.5 184.6h0M420.1 192.4h0M443.9 193.9h0M388.6 190.3h0M381.6 179.4h0M453.3 173.5h0M432.6 184.8h0M383.4 189.1h0M396.4 172.9h0M379.9 180.1h0M448.3 178.2h0M389.0 187.5h0M433.9 190.7h0M414.4 180.9h0M448.6 187.9h0M387.4 173.5h0M447.0 195.7h0M419.0 182.6h0M396.9 186.0h0M396.3 197.2h0M408.9 190.0h0" stroke="#333333" stroke-width="2.0" stroke-linecap="round" fill="none" opacity="0.85"/>
<polygon points="374.8,185.9 377.5,185.9 380.2,185.9 382.9,185.9 385.6,185.9 388.3,185.9 391.0,185.9 393.7,185.9 396.4,185.9 399.1,185.9 401.8,185.8 404.5,185.8 407.2,185.8 409.9,185.7 412.7,185.7 415.4,185.7 418.1,185.6 420.8,185.5 423.5,185.5 426.2,185.4 428.9,185.3 431.6,185.2 434.3,185.2 437.0,185.1 439.7,184.9 442.4,184.8 445.1,184.7 447.8,184.6 450.5,184.5 453.2,184.3 453.2,186.7 450.5,186.6 447.8,186.6 445.1,186.6 442.4,186.6 439.7,186.6 437.0,186.6 434.3,186.6 431.6,186.6 428.9,186.6 426.2,186.6 423.5,186.7 420.8,186.7 418.1,186.8 415.4,186.8 412.7,186.9 409.9,187.0 407.2,187.0 404.5,187.1 401.8,187.2 399.1,187.3 396.4,187.4 393.7,187.5 391.0,187.5 388.3,187.7 385.6,187.8 382.9,187.9 380.2,188.0 377.5,188.1 374.8,188.2" fill="#999" opacity="0.45"/>
<line x1="374.81" y1="187.06" x2="453.20" y2="185.49" stroke="#2c5cb4" stroke-width="1.55"/>
</g>
<rect x="369.80" y="150.00" width="87.20" height="87.20" fill="none" stroke="#333" stroke-width="0.8"/>
<text x="427.60" y="158.00" font-size="5.25" text-anchor="start" font-family="'Liberation Serif', serif" fill="#ea3434" stroke="#ea3434" stroke-width="0.06">Rho = 0.041</text>
<text x="427.60" y="164.80" font-size="5.25" text-anchor="start" font-family="'Liberation Serif', serif" fill="#ea3434" stroke="#ea3434" stroke-width="0.06">p = 0.403</text>
<line x1="391.00" y1="237.20" x2="391.00" y2="238.80" stroke="#333" stroke-width="0.8"/>
<text x="389.80" y="245.50" font-size="5.4" text-anchor="middle" font-family="'Liberation Serif', serif" fill="#4d4d4d" stroke="#4d4d4d" stroke-width="0.14">0.25</text>
<line x1="412.30" y1="237.20" x2="412.30" y2="238.80" stroke="#333" stroke-width="0.8"/>
<text x="411.10" y="245.50" font-size="5.4" text-anchor="middle" font-family="'Liberation Serif', serif" fill="#4d4d4d" stroke="#4d4d4d" stroke-width="0.14">0.50</text>
<line x1="433.60" y1="237.20" x2="433.60" y2="238.80" stroke="#333" stroke-width="0.8"/>
<text x="432.40" y="245.50" font-size="5.4" text-anchor="middle" font-family="'Liberation Serif', serif" fill="#4d4d4d" stroke="#4d4d4d" stroke-width="0.14">0.75</text>
<line x1="454.90" y1="237.20" x2="454.90" y2="238.80" stroke="#333" stroke-width="0.8"/>
<text x="452.90" y="245.50" font-size="5.4" text-anchor="middle" font-family="'Liberation Serif', serif" fill="#4d4d4d" stroke="#4d4d4d" stroke-width="0.14">1.00</text>
<rect x="460.60" y="141.00" width="86.80" height="9.00" fill="#d9d9d9" stroke="#3a3a3a" stroke-width="0.7"/>
<text x="506.80" y="147.40" font-size="5.7" text-anchor="middle" font-family="'Liberation Serif', serif" fill="#1a1a1a" stroke="#1a1a1a" stroke-width="0.04">XCELL</text>
<rect x="460.60" y="150.00" width="86.80" height="87.20" fill="#fff" stroke="none" stroke-width="1"/>
<clipPath id="cp41"><rect x="460.60" y="150.00" width="86.80" height="87.20"/></clipPath>
<g clip-path="url(#cp41)">
<line x1="475.00" y1="150.00" x2="475.00" y2="237.20" stroke="#f2f2f2" stroke-width="0.4"/>
<line x1="497.00" y1="150.00" x2="497.00" y2="237.20" stroke="#f2f2f2" stroke-width="0.4"/>
<line x1="519.00" y1="150.00" x2="519.00" y2="237.20" stroke="#f2f2f2" stroke-width="0.4"/>
<line x1="541.00" y1="150.00" x2="541.00" y2="237.20" stroke="#f2f2f2" stroke-width="0.4"/>
<line x1="460.60" y1="229.00" x2="547.40" y2="229.00" stroke="#f2f2f2" stroke-width="0.4"/>
<line x1="460.60" y1="209.40" x2="547.40" y2="209.40" stroke="#f2f2f2" stroke-width="0.4"/>
<line x1="460.60" y1="189.80" x2="547.40" y2="189.80" stroke="#f2f2f2" stroke-width="0.4"/>
<line x1="460.60" y1="170.20" x2="547.40" y2="170.20" stroke="#f2f2f2" stroke-width="0.4"/>
<line x1="460.60" y1="150.60" x2="547.40" y2="150.60" stroke="#f2f2f2" stroke-width="0.4"/>
<line x1="464.00" y1="150.00" x2="464.00" y2="237.20" stroke="#e6e6e6" stroke-width="0.6"/>
<line x1="486.00" y1="150.00" x2="486.00" y2="237.20" stroke="#e6e6e6" stroke-width="0.6"/>
<line x1="508.00" y1="150.00" x2="508.00" y2="237.20" stroke="#e6e6e6" stroke-width="0.6"/>
<line x1="530.00" y1="150.00" x2="530.00" y2="237.20" stroke="#e6e6e6" stroke-width="0.6"/>
<line x1="460.60" y1="219.20" x2="547.40" y2="219.20" stroke="#e6e6e6" stroke-width="0.6"/>
<line x1="460.60" y1="199.60" x2="547.40" y2="199.60" stroke="#e6e6e6" stroke-width="0.6"/>
<line x1="460.60" y1="180.00" x2="547.40" y2="180.00" stroke="#e6e6e6" stroke-width="0.6"/>
<line x1="460.60" y1="160.40" x2="547.40" y2="160.40" stroke="#e6e6e6" stroke-width="0.6"/>
<path d="M468.1 179.7h0M474.0 198.8h0M468.1 201.1h0M472.3 181.6h0M473.4 188.9h0M502.2 169.9h0M465.4 199.5h0M473.2 181.1h0M479.0 183.2h0M477.6 182.1h0M511.0 198.6h0M498.0 207.3h0M500.5 182.5h0M471.0 174.0h0M490.6 183.4h0M489.4 184.3h0M479.6 171.5h0M484.6 175.3h0M468.8 173.9h0M502.3 197.8h0M466.2 169.7h0M473.9 192.3h0M480.3 180.5h0M484.8 196.8h0M477.8 185.7h0M495.3 180.4h0M478.9 187.6h0M486.6 176.2h0M501.7 195.9h0M477.3 165.8h0M480.6 186.4h0M471.3 154.5h0M483.2 177.7h0M476.6 184.0h0M482.9 197.5h0M479.2 188.9h0M469.1 160.1h0M478.3 197.6h0M482.0 202.1h0M481.7 181.8h0M469.9 168.1h0M466.8 184.9h0M472.8 191.8h0M477.8 186.4h0M467.5 183.4h0M478.3 171.9h0M473.5 162.3h0M470.1 183.4h0M490.4 196.5h0M491.7 200.9h0M472.8 201.3h0M476.2 184.3h0M507.1 209.2h0M483.5 177.9h0M467.1 183.5h0M492.7 195.9h0M472.6 166.9h0M474.0 201.7h0M482.8 175.6h0M510.8 192.2h0M509.5 190.2h0M511.4 193.7h0M484.2 198.2h0M479.5 177.9h0M470.0 168.8h0M482.7 207.4h0M504.2 190.4h0M484.9 187.4h0M486.2 189.6h0M469.2 177.2h0M469.9 184.0h0M466.8 185.3h0M479.6 171.6h0M469.0 192.1h0M476.7 188.2h0M490.7 192.4h0M491.8 196.8h0M489.6 193.2h0M466.8 165.8h0M478.6 193.4h0M511.0 166.5h0M481.0 202.2h0M487.0 213.1h0M472.3 190.2h0M472.0 196.4h0M475.5 170.0h0M470.9 177.3h0M475.7 195.3h0M508.6 195.2h0M508.0 196.3h0M476.0 155.2h0M468.4 180.0h0M473.6 180.1h0M478.4 178.6h0M471.6 180.0h0M476.3 183.8h0M473.4 192.4h0M469.1 180.8h0M472.1 180.4h0M479.6 199.4h0M473.5 182.2h0M465.1 194.3h0M477.4 202.4h0M466.3 181.8h0M495.3 183.7h0M475.9 173.6h0M471.8 188.7h0M485.6 202.5h0M484.0 195.8h0M469.6 184.8h0M484.4 187.5h0M465.1 175.6h0M471.4 184.5h0M466.9 169.8h0M475.3 190.6h0M471.7 177.5h0M482.2 178.6h0M468.5 177.4h0M472.1 176.9h0M493.9 200.8h0M475.2 174.0h0M494.0 194.5h0M464.9 182.6h0M474.6 194.4h0M508.1 188.9h0M518.2 200.6h0M471.9 190.0h0M477.3 176.7h0M473.2 191.3h0M483.5 181.9h0M478.0 182.3h0M475.1 177.7h0M482.7 185.1h0M469.4 195.0h0M495.7 187.7h0M469.2 177.7h0M484.6 165.8h0M466.0 160.6h0M475.2 173.9h0M493.0 177.8h0M465.1 208.4h0M474.7 189.0h0M479.7 196.5h0M469.5 175.2h0M479.1 178.6h0M487.5 180.9h0M474.4 176.8h0M469.3 177.7h0M475.2 184.5h0M502.6 197.5h0M486.5 178.8h0M469.1 181.5h0M472.4 171.0h0M479.2 189.3h0M476.5 186.6h0M503.4 199.9h0M480.5 177.7h0M481.8 194.1h0M477.2 209.6h0M482.5 194.2h0M515.9 202.5h0M478.7 184.4h0M485.1 190.0h0M488.1 173.2h0M504.5 188.1h0M477.1 173.3h0M470.9 166.8h0M467.2 169.6h0M470.2 171.8h0M471.8 187.4h0M472.9 177.7h0M481.5 186.1h0M500.1 181.9h0M475.1 189.5h0M519.0 188.5h0M496.7 194.7h0M484.8 177.8h0M470.9 168.6h0M469.0 168.0h0M489.0 191.5h0M468.9 166.9h0M476.2 202.1h0M467.0 178.9h0M493.1 203.7h0M492.4 187.8h0M475.4 196.1h0M473.2 183.0h0M492.1 195.6h0M481.6 171.1h0M468.6 157.6h0M485.6 176.6h0M468.1 169.8h0M466.1 175.3h0M482.9 186.1h0M478.4 186.3h0M470.3 194.2h0M485.3 194.4h0M470.2 172.8h0M472.9 186.8h0M476.9 179.2h0M464.7 189.7h0M482.4 160.0h0M484.4 170.7h0M474.6 183.7h0M464.5 159.4h0M470.7 176.0h0M471.1 169.7h0M479.1 185.6h0M481.9 189.6h0M482.8 169.5h0M503.7 182.8h0M469.2 172.0h0M472.7 171.1h0M483.0 183.5h0M470.2 186.2h0M474.1 178.3h0M482.6 203.9h0M499.9 188.8h0M485.8 173.5h0M487.4 188.6h0M478.5 163.4h0M465.8 183.8h0M466.5 191.5h0M467.5 174.1h0M480.7 186.1h0M476.8 176.5h0M472.0 188.8h0M480.7 178.3h0M471.2 180.3h0M484.1 182.5h0M478.8 173.4h0M470.7 189.7h0M481.7 186.4h0M470.2 169.2h0M469.0 167.7h0M474.0 174.6h0M475.8 194.9h0M465.3 177.7h0M491.8 191.8h0M465.6 183.4h0M476.4 199.7h0M471.9 204.4h0M491.2 176.7h0M472.5 173.2h0M479.2 199.6h0M506.2 195.4h0M466.6 179.7h0M481.3 190.8h0M467.5 175.2h0M509.0 196.7h0M469.3 196.1h0M467.6 185.2h0M465.4 175.2h0M474.6 192.6h0M467.8 172.6h0M474.7 171.4h0M478.2 177.1h0M477.8 177.5h0M480.5 185.4h0M494.5 182.5h0M467.4 188.5h0M486.1 211.3h0M483.9 192.9h0M479.8 168.5h0M484.6 174.4h0M494.2 199.8h0M477.1 185.9h0M467.2 188.5h0M468.7 193.9h0M504.0 194.8h0M471.2 173.4h0M471.1 181.3h0M488.2 189.4h0M476.2 206.7h0M468.2 157.5h0M475.2 195.6h0M476.4 183.2h0M474.4 174.0h0M509.8 191.0h0M501.7 181.7h0M467.6 206.0h0M475.0 192.6h0M498.4 197.1h0M468.5 195.8h0M475.9 200.4h0M481.0 175.4h0M465.4 194.1h0M470.8 170.1h0M474.4 173.3h0M521.4 200.1h0M489.2 202.2h0M520.9 202.6h0M488.2 194.7h0M477.8 191.0h0M485.6 194.6h0M480.0 184.1h0M494.7 191.9h0M485.8 186.9h0M486.1 186.6h0M464.6 167.1h0M476.4 162.0h0M491.3 187.6h0M507.4 193.3h0M467.8 182.8h0M476.8 173.4h0M475.2 175.8h0M469.6 180.4h0M466.0 182.1h0M467.0 174.7h0M476.3 172.3h0M494.4 193.4h0M506.0 187.4h0M478.0 203.5h0M479.4 191.6h0M483.6 180.5h0M481.9 202.1h0M476.1 199.7h0M471.6 179.5h0M476.4 204.8h0M473.6 186.2h0M472.1 160.0h0M507.2 188.6h0M490.5 168.7h0M467.0 164.1h0M465.4 188.6h0M492.8 190.4h0M476.0 179.4h0M469.1 169.6h0M489.8 171.9h0M467.3 172.6h0M500.8 186.9h0M465.6 191.8h0M470.4 170.5h0M476.5 189.8h0M466.9 170.2h0M471.8 167.8h0M477.6 199.4h0M479.3 162.6h0M473.6 184.8h0M464.6 168.5h0M476.8 173.4h0M469.8 161.6h0M468.6 168.5h0M478.1 166.3h0M468.0 172.0h0M469.7 190.0h0M511.2 195.3h0M482.9 177.8h0M484.1 175.3h0M467.1 179.1h0M527.4 205.6h0M477.2 197.1h0M488.5 185.9h0M464.5 154.5h0M485.6 187.3h0M476.0 188.6h0M480.7 178.1h0M485.2 178.0h0M478.0 182.4h0M484.4 207.2h0M484.7 193.1h0M468.6 187.9h0M484.5 178.9h0M501.1 197.2h0M490.7 190.0h0M477.4 195.6h0M471.9 188.0h0M499.4 166.1h0M481.1 175.8h0M484.4 181.0h0M479.6 193.3h0M482.7 198.3h0M498.0 178.4h0M471.2 182.0h0M480.6 178.1h0M482.5 181.8h0M470.1 180.2h0M478.7 210.7h0M483.6 175.6h0M473.9 163.6h0M476.9 182.6h0M492.6 189.8h0M486.4 183.8h0M481.7 187.5h0M502.2 210.4h0M480.0 188.2h0M472.1 182.2h0M487.6 175.0h0M493.6 198.8h0M526.9 201.1h0M480.4 184.2h0M480.5 179.4h0M478.3 162.9h0M465.9 173.3h0M470.4 174.4h0M472.3 195.0h0M486.3 168.8h0M482.3 203.4h0M469.7 166.7h0M469.8 171.9h0M468.3 179.8h0M488.9 198.1h0M467.0 174.7h0M465.3 185.1h0M478.3 169.1h0M470.5 213.1h0M496.4 188.0h0M468.3 209.1h0M469.7 180.5h0M495.8 192.1h0M477.7 174.5h0M466.9 192.8h0M470.6 192.2h0M481.4 208.0h0M471.5 186.7h0M509.5 190.8h0M477.1 186.2h0M513.7 204.4h0M471.9 184.4h0M466.4 174.4h0M464.4 176.6h0M471.1 203.0h0M476.0 188.6h0M475.0 192.6h0M492.8 218.0h0M464.8 173.5h0M476.7 179.9h0M471.9 193.3h0M471.4 176.2h0M474.1 180.1h0M472.0 187.3h0M481.4 181.4h0M477.7 186.1h0M473.1 189.9h0M480.7 173.4h0M467.7 197.8h0M471.5 161.4h0M536.6 197.8h0M471.4 186.5h0M498.2 184.9h0M468.2 191.2h0M476.2 187.7h0M478.5 162.4h0M470.8 176.6h0M480.2 186.2h0M472.6 183.9h0M478.0 173.8h0M467.5 170.8h0M488.2 190.2h0M469.4 168.5h0M500.7 190.5h0M473.9 183.1h0M485.0 177.5h0M465.2 188.1h0M469.8 198.3h0M470.4 183.2h0M476.5 173.8h0M536.6 203.7h0M493.9 178.8h0M473.4 169.3h0M481.8 188.6h0M468.6 181.0h0M486.5 187.6h0M536.6 193.3h0M471.3 176.5h0M487.6 184.4h0M483.2 170.3h0M506.8 187.6h0M497.3 186.1h0M469.0 189.0h0M491.3 186.6h0M507.6 177.6h0M507.9 184.5h0M469.9 180.1h0M471.0 182.6h0M465.3 190.0h0M485.0 193.4h0M464.7 168.7h0M464.4 179.4h0M467.0 179.4h0M483.5 171.4h0M481.3 188.9h0M500.0 195.0h0M489.0 171.3h0M474.3 175.7h0M469.8 198.2h0M470.9 181.6h0M479.7 192.4h0M496.5 194.2h0M471.3 184.1h0M466.7 197.9h0M469.1 188.7h0M481.9 165.0h0M472.2 184.0h0M467.4 185.6h0M477.2 172.9h0M470.3 195.9h0M486.1 188.2h0" stroke="#333333" stroke-width="2.0" stroke-linecap="round" fill="none" opacity="0.85"/>
<polygon points="464.0,179.0 466.7,179.9 469.5,180.7 472.2,181.6 474.9,182.4 477.7,183.2 480.4,184.0 483.1,184.8 485.8,185.5 488.6,186.2 491.3,186.9 494.0,187.6 496.8,188.2 499.5,188.9 502.2,189.5 505.0,190.2 507.7,190.8 510.4,191.5 513.2,192.1 515.9,192.7 518.6,193.3 521.4,193.9 524.1,194.5 526.8,195.1 529.5,195.7 532.3,196.3 535.0,196.9 537.7,197.5 540.5,198.1 543.2,198.6 543.2,206.1 540.5,205.1 537.7,204.1 535.0,203.2 532.3,202.2 529.5,201.3 526.8,200.3 524.1,199.4 521.4,198.4 518.6,197.5 515.9,196.6 513.2,195.7 510.4,194.7 507.7,193.8 505.0,192.9 502.2,192.0 499.5,191.1 496.8,190.3 494.0,189.4 491.3,188.5 488.6,187.7 485.8,186.8 483.1,186.0 480.4,185.2 477.7,184.5 474.9,183.7 472.2,183.0 469.5,182.3 466.7,181.7 464.0,181.0" fill="#999" opacity="0.45"/>
<line x1="464.00" y1="180.00" x2="543.20" y2="202.34" stroke="#2c5cb4" stroke-width="1.55"/>
</g>
<rect x="460.60" y="150.00" width="86.80" height="87.20" fill="none" stroke="#333" stroke-width="0.8"/>
<text x="514.80" y="158.00" font-size="5.25" text-anchor="start" font-family="'Liberation Serif', serif" fill="#ea3434" stroke="#ea3434" stroke-width="0.06">Rho = -0.337</text>
<text x="514.80" y="164.80" font-size="5.25" text-anchor="start" font-family="'Liberation Serif', serif" fill="#ea3434" stroke="#ea3434" stroke-width="0.06">p = 1.74x10<tspan dy="-1.9" font-size="3.0">−13</tspan></text>
<line x1="464.00" y1="237.20" x2="464.00" y2="238.80" stroke="#333" stroke-width="0.8"/>
<text x="463.70" y="245.50" font-size="5.4" text-anchor="middle" font-family="'Liberation Serif', serif" fill="#4d4d4d" stroke="#4d4d4d" stroke-width="0.14">0.0</text>
<line x1="486.00" y1="237.20" x2="486.00" y2="238.80" stroke="#333" stroke-width="0.8"/>
<text x="484.80" y="245.50" font-size="5.4" text-anchor="middle" font-family="'Liberation Serif', serif" fill="#4d4d4d" stroke="#4d4d4d" stroke-width="0.14">0.1</text>
<line x1="508.00" y1="237.20" x2="508.00" y2="238.80" stroke="#333" stroke-width="0.8"/>
<text x="506.80" y="245.50" font-size="5.4" text-anchor="middle" font-family="'Liberation Serif', serif" fill="#4d4d4d" stroke="#4d4d4d" stroke-width="0.14">0.2</text>
<line x1="530.00" y1="237.20" x2="530.00" y2="238.80" stroke="#333" stroke-width="0.8"/>
<text x="528.80" y="245.50" font-size="5.4" text-anchor="middle" font-family="'Liberation Serif', serif" fill="#4d4d4d" stroke="#4d4d4d" stroke-width="0.14">0.3</text>
<text transform="translate(409.40 254.95) scale(0.855 1)" font-size="7.5" text-anchor="middle" font-family="'Liberation Serif', serif" fill="#111" stroke="#111" stroke-width="0.12">Purity</text>
<text transform="translate(505.00 254.95) scale(0.855 1)" font-size="7.5" text-anchor="middle" font-family="'Liberation Serif', serif" fill="#111" stroke="#111" stroke-width="0.12">Infiltration Level</text>
<text x="264.50" y="315.50" font-size="5.6" text-anchor="middle" font-family="'Liberation Serif', serif" fill="#333" stroke="#333" stroke-width="0.05" transform="rotate(-90 264.50 315.50)">HSP90B1 Expression Level (log2 TPM)</text>
<line x1="276.40" y1="354.70" x2="278.00" y2="354.70" stroke="#333" stroke-width="0.8"/>
<text x="275.60" y="356.50" font-size="5.2" text-anchor="end" font-family="'Liberation Serif', serif" fill="#4d4d4d" stroke="#4d4d4d" stroke-width="0.14">7</text>
<line x1="276.40" y1="337.35" x2="278.00" y2="337.35" stroke="#333" stroke-width="0.8"/>
<text x="275.60" y="339.15" font-size="5.2" text-anchor="end" font-family="'Liberation Serif', serif" fill="#4d4d4d" stroke="#4d4d4d" stroke-width="0.14">8</text>
<line x1="276.40" y1="320.00" x2="278.00" y2="320.00" stroke="#333" stroke-width="0.8"/>
<text x="275.60" y="321.80" font-size="5.2" text-anchor="end" font-family="'Liberation Serif', serif" fill="#4d4d4d" stroke="#4d4d4d" stroke-width="0.14">9</text>
<line x1="276.40" y1="302.65" x2="278.00" y2="302.65" stroke="#333" stroke-width="0.8"/>
<text x="275.60" y="304.45" font-size="5.2" text-anchor="end" font-family="'Liberation Serif', serif" fill="#4d4d4d" stroke="#4d4d4d" stroke-width="0.14">10</text>
<line x1="276.40" y1="285.30" x2="278.00" y2="285.30" stroke="#333" stroke-width="0.8"/>
<text x="275.60" y="287.10" font-size="5.2" text-anchor="end" font-family="'Liberation Serif', serif" fill="#4d4d4d" stroke="#4d4d4d" stroke-width="0.14">11</text>
<rect x="278.00" y="271.20" width="8.20" height="86.60" fill="#d9d9d9" stroke="#3a3a3a" stroke-width="0.7"/>
<text x="283.90" y="314.50" font-size="5.9" text-anchor="middle" font-family="'Liberation Serif', serif" fill="#1a1a1a" stroke="#1a1a1a" stroke-width="0.04" transform="rotate(-90 283.90 314.50)">THYM</text>
<rect x="286.20" y="262.40" width="86.80" height="8.80" fill="#d9d9d9" stroke="#3a3a3a" stroke-width="0.7"/>
<text x="329.60" y="268.70" font-size="5.7" text-anchor="middle" font-family="'Liberation Serif', serif" fill="#1a1a1a" stroke="#1a1a1a" stroke-width="0.04">Purity</text>
<rect x="286.20" y="271.20" width="86.80" height="86.60" fill="#fff" stroke="none" stroke-width="1"/>
<clipPath id="cp50"><rect x="286.20" y="271.20" width="86.80" height="86.60"/></clipPath>
<g clip-path="url(#cp50)">
<line x1="296.30" y1="271.20" x2="296.30" y2="357.80" stroke="#f2f2f2" stroke-width="0.4"/>
<line x1="317.70" y1="271.20" x2="317.70" y2="357.80" stroke="#f2f2f2" stroke-width="0.4"/>
<line x1="339.10" y1="271.20" x2="339.10" y2="357.80" stroke="#f2f2f2" stroke-width="0.4"/>
<line x1="360.50" y1="271.20" x2="360.50" y2="357.80" stroke="#f2f2f2" stroke-width="0.4"/>
<line x1="286.20" y1="363.38" x2="373.00" y2="363.38" stroke="#f2f2f2" stroke-width="0.4"/>
<line x1="286.20" y1="346.02" x2="373.00" y2="346.02" stroke="#f2f2f2" stroke-width="0.4"/>
<line x1="286.20" y1="328.68" x2="373.00" y2="328.68" stroke="#f2f2f2" stroke-width="0.4"/>
<line x1="286.20" y1="311.32" x2="373.00" y2="311.32" stroke="#f2f2f2" stroke-width="0.4"/>
<line x1="286.20" y1="293.98" x2="373.00" y2="293.98" stroke="#f2f2f2" stroke-width="0.4"/>
<line x1="286.20" y1="276.62" x2="373.00" y2="276.62" stroke="#f2f2f2" stroke-width="0.4"/>
<line x1="307.00" y1="271.20" x2="307.00" y2="357.80" stroke="#e6e6e6" stroke-width="0.6"/>
<line x1="328.40" y1="271.20" x2="328.40" y2="357.80" stroke="#e6e6e6" stroke-width="0.6"/>
<line x1="349.80" y1="271.20" x2="349.80" y2="357.80" stroke="#e6e6e6" stroke-width="0.6"/>
<line x1="371.20" y1="271.20" x2="371.20" y2="357.80" stroke="#e6e6e6" stroke-width="0.6"/>
<line x1="286.20" y1="354.70" x2="373.00" y2="354.70" stroke="#e6e6e6" stroke-width="0.6"/>
<line x1="286.20" y1="337.35" x2="373.00" y2="337.35" stroke="#e6e6e6" stroke-width="0.6"/>
<line x1="286.20" y1="320.00" x2="373.00" y2="320.00" stroke="#e6e6e6" stroke-width="0.6"/>
<line x1="286.20" y1="302.65" x2="373.00" y2="302.65" stroke="#e6e6e6" stroke-width="0.6"/>
<line x1="286.20" y1="285.30" x2="373.00" y2="285.30" stroke="#e6e6e6" stroke-width="0.6"/>
<path d="M305.1 325.4h0M354.9 344.7h0M295.2 331.6h0M294.8 316.3h0M369.5 323.9h0M320.7 323.0h0M297.5 323.4h0M312.6 331.3h0M296.2 331.7h0M292.4 312.4h0M294.4 321.5h0M362.2 322.0h0M346.8 330.8h0M296.6 334.7h0M297.9 324.1h0M364.4 318.4h0M365.4 298.1h0M296.3 324.7h0M333.5 307.7h0M296.7 327.7h0M294.9 325.9h0M355.0 334.2h0M368.4 315.2h0M342.3 326.1h0M298.8 324.2h0M329.9 327.4h0M359.0 298.4h0M353.0 341.5h0M309.3 316.5h0M332.0 298.6h0M299.2 332.4h0M360.9 295.5h0M327.5 321.7h0M298.8 319.3h0M298.9 324.2h0M296.0 333.5h0M354.1 321.3h0M294.8 320.0h0M289.9 333.7h0M299.4 337.0h0M294.6 328.9h0M297.9 312.5h0M359.3 323.1h0M295.2 329.1h0M293.4 322.2h0M298.4 337.0h0M316.6 306.5h0M299.9 328.7h0M298.2 321.1h0M297.4 330.2h0M346.8 323.0h0M296.2 340.9h0M332.9 323.4h0M354.6 319.4h0M292.6 317.4h0M295.5 333.4h0M369.0 310.1h0M300.3 314.3h0M301.2 334.6h0M367.9 289.2h0M322.5 327.0h0M294.5 317.9h0M293.6 330.2h0M334.8 323.8h0M296.4 326.9h0M345.9 348.1h0M291.6 319.9h0M328.1 313.3h0M335.7 311.0h0M300.3 328.7h0M329.5 309.4h0M338.0 307.5h0M317.1 312.5h0M297.9 319.4h0M317.3 323.2h0M369.1 320.7h0M294.7 323.2h0M327.7 331.3h0M292.8 325.0h0M300.6 317.9h0M296.1 340.3h0M368.1 325.6h0M292.5 338.6h0M328.2 337.9h0M291.9 313.1h0M319.5 324.1h0M294.2 331.5h0M295.6 332.5h0M359.7 308.4h0M293.6 330.3h0M337.5 317.5h0M304.6 324.8h0M331.7 313.3h0M298.9 337.4h0M341.5 338.3h0M337.1 313.0h0M296.1 326.8h0M293.3 332.5h0M301.0 329.1h0M334.1 312.6h0M327.6 309.7h0M354.5 322.6h0M303.1 332.0h0M313.2 311.5h0M328.4 340.1h0M365.2 334.6h0M359.7 317.0h0M296.9 337.2h0M342.4 328.9h0M335.0 317.6h0M297.8 346.1h0M308.7 329.7h0M363.0 338.4h0M343.0 296.2h0M295.4 337.6h0M296.9 332.0h0M298.9 314.9h0M353.5 322.5h0M296.8 335.2h0M298.7 320.9h0" stroke="#333333" stroke-width="2.0" stroke-linecap="round" fill="none" opacity="0.85"/>
<polygon points="290.7,324.5 293.4,324.5 296.1,324.5 298.8,324.5 301.5,324.5 304.2,324.4 306.9,324.4 309.5,324.3 312.2,324.2 314.9,324.0 317.6,323.9 320.3,323.7 323.0,323.5 325.7,323.4 328.3,323.1 331.0,322.9 333.7,322.7 336.4,322.4 339.1,322.2 341.8,321.9 344.5,321.6 347.1,321.3 349.8,321.0 352.5,320.6 355.2,320.3 357.9,320.0 360.6,319.6 363.3,319.2 365.9,318.8 368.6,318.4 368.6,325.0 365.9,325.1 363.3,325.1 360.6,325.1 357.9,325.2 355.2,325.3 352.5,325.3 349.8,325.4 347.1,325.5 344.5,325.7 341.8,325.8 339.1,325.9 336.4,326.1 333.7,326.2 331.0,326.4 328.3,326.6 325.7,326.8 323.0,327.0 320.3,327.3 317.6,327.5 314.9,327.8 312.2,328.1 309.5,328.4 306.9,328.7 304.2,329.1 301.5,329.5 298.8,329.8 296.1,330.2 293.4,330.7 290.7,331.1" fill="#999" opacity="0.45"/>
<line x1="290.74" y1="327.81" x2="368.63" y2="321.74" stroke="#2c5cb4" stroke-width="1.55"/>
</g>
<rect x="286.20" y="271.20" width="86.80" height="86.60" fill="none" stroke="#333" stroke-width="0.8"/>
<text x="342.70" y="279.70" font-size="5.25" text-anchor="start" font-family="'Liberation Serif', serif" fill="#ea3434" stroke="#ea3434" stroke-width="0.06">Rho = 0.176</text>
<text x="342.70" y="287.40" font-size="5.25" text-anchor="start" font-family="'Liberation Serif', serif" fill="#ea3434" stroke="#ea3434" stroke-width="0.06">p = 0.0591</text>
<line x1="307.00" y1="357.80" x2="307.00" y2="359.40" stroke="#333" stroke-width="0.8"/>
<text x="305.80" y="366.90" font-size="5.4" text-anchor="middle" font-family="'Liberation Serif', serif" fill="#4d4d4d" stroke="#4d4d4d" stroke-width="0.14">0.25</text>
<line x1="328.40" y1="357.80" x2="328.40" y2="359.40" stroke="#333" stroke-width="0.8"/>
<text x="327.20" y="366.90" font-size="5.4" text-anchor="middle" font-family="'Liberation Serif', serif" fill="#4d4d4d" stroke="#4d4d4d" stroke-width="0.14">0.50</text>
<line x1="349.80" y1="357.80" x2="349.80" y2="359.40" stroke="#333" stroke-width="0.8"/>
<text x="348.60" y="366.90" font-size="5.4" text-anchor="middle" font-family="'Liberation Serif', serif" fill="#4d4d4d" stroke="#4d4d4d" stroke-width="0.14">0.75</text>
<line x1="371.20" y1="357.80" x2="371.20" y2="359.40" stroke="#333" stroke-width="0.8"/>
<text x="369.20" y="366.90" font-size="5.4" text-anchor="middle" font-family="'Liberation Serif', serif" fill="#4d4d4d" stroke="#4d4d4d" stroke-width="0.14">1.00</text>
<rect x="376.40" y="262.40" width="87.10" height="8.80" fill="#d9d9d9" stroke="#3a3a3a" stroke-width="0.7"/>
<text x="419.95" y="268.70" font-size="5.7" text-anchor="middle" font-family="'Liberation Serif', serif" fill="#1a1a1a" stroke="#1a1a1a" stroke-width="0.04">EPIC</text>
<rect x="376.40" y="271.20" width="87.10" height="86.60" fill="#fff" stroke="none" stroke-width="1"/>
<clipPath id="cp51"><rect x="376.40" y="271.20" width="87.10" height="86.60"/></clipPath>
<g clip-path="url(#cp51)">
<line x1="393.00" y1="271.20" x2="393.00" y2="357.80" stroke="#f2f2f2" stroke-width="0.4"/>
<line x1="419.00" y1="271.20" x2="419.00" y2="357.80" stroke="#f2f2f2" stroke-width="0.4"/>
<line x1="445.00" y1="271.20" x2="445.00" y2="357.80" stroke="#f2f2f2" stroke-width="0.4"/>
<line x1="471.00" y1="271.20" x2="471.00" y2="357.80" stroke="#f2f2f2" stroke-width="0.4"/>
<line x1="376.40" y1="363.38" x2="463.50" y2="363.38" stroke="#f2f2f2" stroke-width="0.4"/>
<line x1="376.40" y1="346.02" x2="463.50" y2="346.02" stroke="#f2f2f2" stroke-width="0.4"/>
<line x1="376.40" y1="328.68" x2="463.50" y2="328.68" stroke="#f2f2f2" stroke-width="0.4"/>
<line x1="376.40" y1="311.32" x2="463.50" y2="311.32" stroke="#f2f2f2" stroke-width="0.4"/>
<line x1="376.40" y1="293.98" x2="463.50" y2="293.98" stroke="#f2f2f2" stroke-width="0.4"/>
<line x1="376.40" y1="276.62" x2="463.50" y2="276.62" stroke="#f2f2f2" stroke-width="0.4"/>
<line x1="380.00" y1="271.20" x2="380.00" y2="357.80" stroke="#e6e6e6" stroke-width="0.6"/>
<line x1="406.00" y1="271.20" x2="406.00" y2="357.80" stroke="#e6e6e6" stroke-width="0.6"/>
<line x1="432.00" y1="271.20" x2="432.00" y2="357.80" stroke="#e6e6e6" stroke-width="0.6"/>
<line x1="458.00" y1="271.20" x2="458.00" y2="357.80" stroke="#e6e6e6" stroke-width="0.6"/>
<line x1="376.40" y1="354.70" x2="463.50" y2="354.70" stroke="#e6e6e6" stroke-width="0.6"/>
<line x1="376.40" y1="337.35" x2="463.50" y2="337.35" stroke="#e6e6e6" stroke-width="0.6"/>
<line x1="376.40" y1="320.00" x2="463.50" y2="320.00" stroke="#e6e6e6" stroke-width="0.6"/>
<line x1="376.40" y1="302.65" x2="463.50" y2="302.65" stroke="#e6e6e6" stroke-width="0.6"/>
<line x1="376.40" y1="285.30" x2="463.50" y2="285.30" stroke="#e6e6e6" stroke-width="0.6"/>
<path d="M386.2 294.3h0M385.0 322.1h0M382.8 341.8h0M391.5 296.7h0M384.0 314.4h0M386.5 322.1h0M389.0 300.1h0M389.9 292.2h0M458.0 309.1h0M382.6 328.3h0M381.9 320.6h0M380.8 338.3h0M380.4 298.0h0M381.2 341.9h0M382.7 336.6h0M382.7 307.8h0M380.6 328.4h0M384.2 337.0h0M380.5 312.6h0M382.8 305.6h0M380.0 349.7h0M381.3 315.3h0M382.5 308.4h0M380.4 299.8h0M382.0 316.5h0M381.2 313.9h0M381.2 323.1h0M380.3 316.1h0M380.2 301.9h0M381.4 314.0h0M380.9 333.8h0M381.9 324.4h0M380.5 297.9h0M380.8 343.0h0M380.7 333.8h0M380.9 334.5h0M380.2 307.7h0M380.7 337.8h0M381.8 329.5h0M380.5 326.6h0M380.4 318.0h0M380.4 317.1h0M382.4 338.8h0M380.2 342.5h0M380.1 346.6h0M380.5 309.6h0M381.4 327.7h0M380.7 322.9h0M381.8 323.6h0M381.5 345.0h0M380.7 348.8h0M381.9 339.3h0M380.9 297.7h0M380.1 332.0h0M381.6 316.9h0M381.6 338.3h0M382.0 292.2h0M381.4 323.0h0M380.1 348.7h0M380.8 332.3h0M380.2 321.7h0M380.6 311.5h0M380.6 330.7h0M381.0 315.7h0M381.9 319.4h0M382.7 319.2h0M381.0 330.8h0M381.2 319.2h0M380.1 311.0h0M381.1 325.0h0M380.3 331.0h0M381.0 292.2h0M380.4 316.2h0M382.3 313.7h0M381.7 344.4h0M380.2 311.0h0M381.0 347.6h0M381.3 307.7h0M383.1 316.9h0M380.6 332.5h0M381.2 334.3h0M382.9 319.5h0M381.6 329.6h0M381.6 348.2h0M381.9 308.6h0M382.5 344.0h0M380.7 328.0h0M381.4 331.2h0M382.6 300.7h0M380.1 348.1h0M380.4 312.1h0M383.3 314.7h0M382.4 355.6h0M382.4 342.6h0M381.8 333.7h0M381.7 338.8h0M381.2 321.8h0M382.2 315.2h0M382.1 308.6h0M381.6 334.4h0M382.5 315.3h0M380.4 329.4h0M381.3 317.5h0M381.6 325.2h0M381.8 324.2h0M380.2 331.1h0M381.3 317.4h0M380.9 323.8h0M382.0 337.2h0M382.0 352.8h0M380.8 311.4h0M382.1 312.6h0M380.0 328.0h0M380.5 309.5h0M382.8 322.8h0M380.2 328.3h0M381.3 330.6h0M381.9 305.6h0M380.8 300.0h0M383.0 324.7h0" stroke="#333333" stroke-width="2.0" stroke-linecap="round" fill="none" opacity="0.85"/>
<polygon points="380.0,325.2 382.7,324.4 385.5,323.4 388.2,322.1 390.9,320.8 393.7,319.5 396.4,318.1 399.1,316.6 401.9,315.1 404.6,313.5 407.3,312.0 410.1,310.3 412.8,308.7 415.5,307.0 418.3,305.2 421.0,303.5 423.8,301.7 426.5,299.9 429.2,298.0 432.0,296.2 434.7,294.2 437.4,292.3 440.2,290.4 442.9,288.4 445.6,286.4 448.4,284.3 451.1,282.3 453.8,280.2 456.6,278.1 459.3,275.9 459.3,315.5 456.6,315.5 453.8,315.6 451.1,315.6 448.4,315.7 445.6,315.8 442.9,316.0 440.2,316.1 437.4,316.3 434.7,316.6 432.0,316.8 429.2,317.1 426.5,317.4 423.8,317.7 421.0,318.1 418.3,318.5 415.5,318.9 412.8,319.4 410.1,319.9 407.3,320.4 404.6,321.0 401.9,321.6 399.1,322.2 396.4,322.9 393.7,323.6 390.9,324.4 388.2,325.3 385.5,326.2 382.7,327.3 380.0,328.7" fill="#999" opacity="0.45"/>
<line x1="380.00" y1="326.94" x2="459.30" y2="295.71" stroke="#2c5cb4" stroke-width="1.55"/>
</g>
<rect x="376.40" y="271.20" width="87.10" height="86.60" fill="none" stroke="#333" stroke-width="0.8"/>
<text x="427.70" y="280.00" font-size="5.25" text-anchor="start" font-family="'Liberation Serif', serif" fill="#ea3434" stroke="#ea3434" stroke-width="0.06">Rho = 0.526</text>
<text x="427.70" y="287.60" font-size="5.25" text-anchor="start" font-family="'Liberation Serif', serif" fill="#ea3434" stroke="#ea3434" stroke-width="0.06">p = 1.58x10<tspan dy="-1.9" font-size="3.0">−9</tspan></text>
<line x1="380.00" y1="357.80" x2="380.00" y2="359.40" stroke="#333" stroke-width="0.8"/>
<text x="379.70" y="366.90" font-size="5.4" text-anchor="middle" font-family="'Liberation Serif', serif" fill="#4d4d4d" stroke="#4d4d4d" stroke-width="0.14">0.0</text>
<line x1="406.00" y1="357.80" x2="406.00" y2="359.40" stroke="#333" stroke-width="0.8"/>
<text x="404.80" y="366.90" font-size="5.4" text-anchor="middle" font-family="'Liberation Serif', serif" fill="#4d4d4d" stroke="#4d4d4d" stroke-width="0.14">0.1</text>
<line x1="432.00" y1="357.80" x2="432.00" y2="359.40" stroke="#333" stroke-width="0.8"/>
<text x="430.80" y="366.90" font-size="5.4" text-anchor="middle" font-family="'Liberation Serif', serif" fill="#4d4d4d" stroke="#4d4d4d" stroke-width="0.14">0.2</text>
<line x1="458.00" y1="357.80" x2="458.00" y2="359.40" stroke="#333" stroke-width="0.8"/>
<text x="456.80" y="366.90" font-size="5.4" text-anchor="middle" font-family="'Liberation Serif', serif" fill="#4d4d4d" stroke="#4d4d4d" stroke-width="0.14">0.3</text>
<text transform="translate(325.60 376.35) scale(0.855 1)" font-size="7.5" text-anchor="middle" font-family="'Liberation Serif', serif" fill="#111" stroke="#111" stroke-width="0.12">Purity</text>
<text transform="translate(421.00 375.95) scale(0.855 1)" font-size="7.5" text-anchor="middle" font-family="'Liberation Serif', serif" fill="#111" stroke="#111" stroke-width="0.12">Infiltration Level</text>
</svg>
</body></html>
